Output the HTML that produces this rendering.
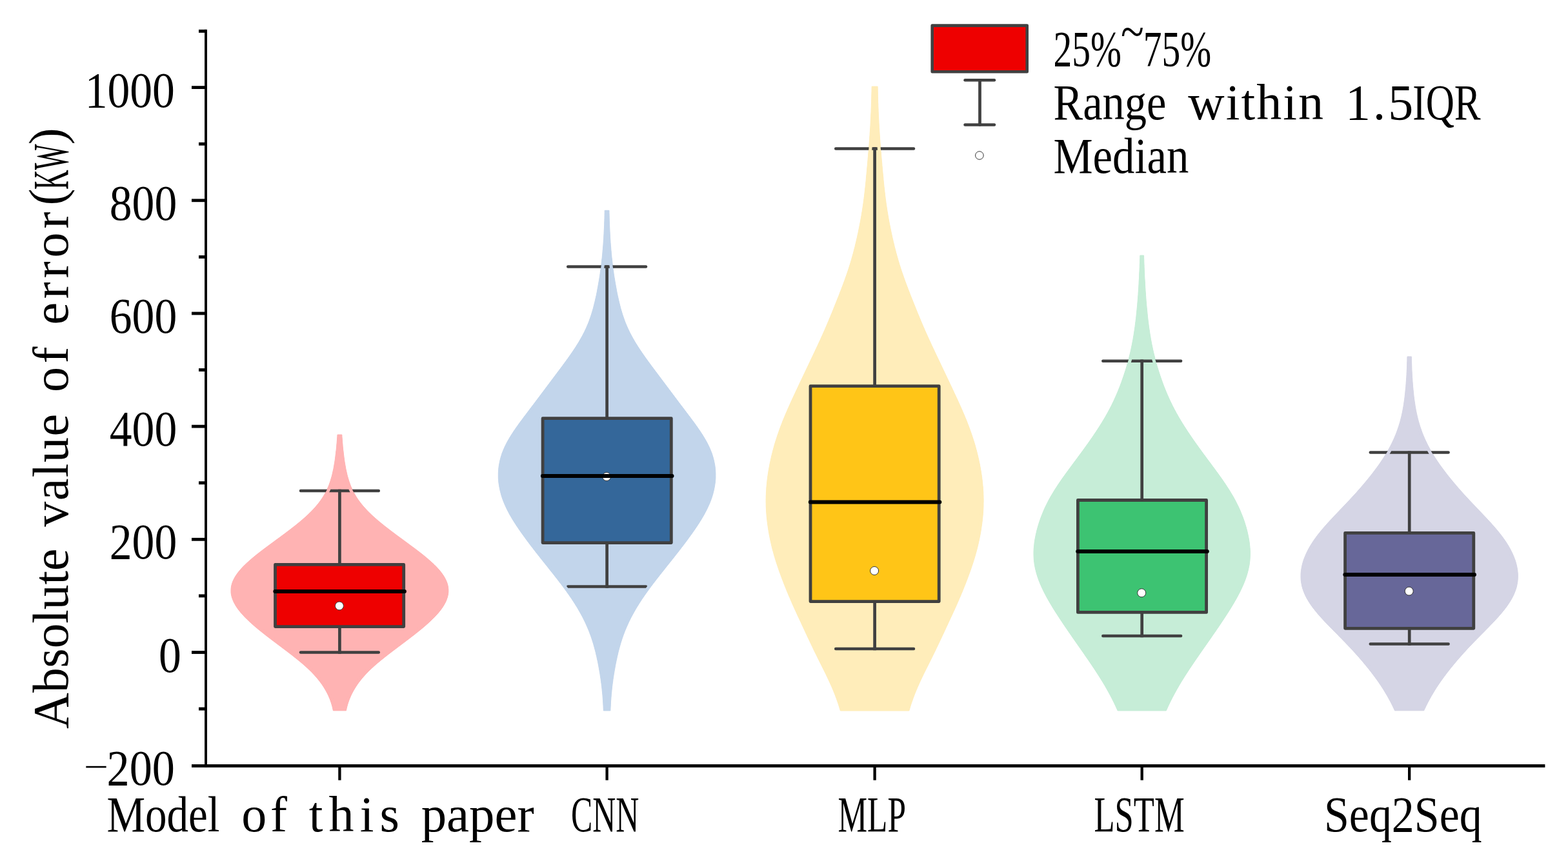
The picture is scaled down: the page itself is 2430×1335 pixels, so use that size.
<!DOCTYPE html>
<html lang="en"><head><meta charset="utf-8"><title>Absolute value of error (KW)</title>
<style>html,body{margin:0;padding:0;background:#fff;}body{width:2430px;height:1335px;overflow:hidden;}svg{display:block;}
text{font-family:"Liberation Serif","Noto Serif CJK SC",serif;font-size:78px;fill:#000;}</style></head><body>
<svg width="2430" height="1335" viewBox="0 0 2430 1335">
<rect width="2430" height="1335" fill="#fff"/>
<defs>
<clipPath id="vc0"><path d="M523.0 674.0 L522.9 676.0 L522.8 678.0 L522.6 680.0 L522.5 682.0 L522.3 684.0 L522.2 686.0 L522.0 688.0 L521.8 690.0 L521.7 692.0 L521.5 694.0 L521.3 696.0 L521.1 698.0 L520.8 700.0 L520.6 702.0 L520.4 704.0 L520.1 706.0 L519.9 708.0 L519.6 710.0 L519.4 712.0 L519.1 714.0 L518.8 716.0 L518.5 718.0 L518.1 720.0 L517.8 722.0 L517.4 724.0 L517.1 726.0 L516.7 728.0 L516.2 730.0 L515.8 732.0 L515.3 734.0 L514.9 736.0 L514.4 738.0 L513.8 740.0 L513.2 742.0 L512.6 744.0 L512.0 746.0 L511.3 748.0 L510.6 750.0 L509.9 752.0 L509.1 754.0 L508.2 756.0 L507.3 758.0 L506.4 760.0 L505.4 762.0 L504.4 764.0 L503.3 766.0 L502.1 768.0 L500.9 770.0 L499.6 772.0 L498.3 774.0 L496.9 776.0 L495.4 778.0 L493.9 780.0 L492.3 782.0 L490.6 784.0 L488.9 786.0 L487.1 788.0 L485.3 790.0 L483.4 792.0 L481.4 794.0 L479.4 796.0 L477.3 798.0 L475.2 800.0 L473.0 802.0 L470.7 804.0 L468.4 806.0 L466.1 808.0 L463.7 810.0 L461.2 812.0 L458.8 814.0 L456.3 816.0 L453.7 818.0 L451.1 820.0 L448.5 822.0 L445.9 824.0 L443.2 826.0 L440.6 828.0 L437.9 830.0 L435.2 832.0 L432.5 834.0 L429.7 836.0 L427.0 838.0 L424.3 840.0 L421.6 842.0 L418.9 844.0 L416.2 846.0 L413.5 848.0 L410.8 850.0 L408.1 852.0 L405.5 854.0 L402.9 856.0 L400.3 858.0 L397.8 860.0 L395.3 862.0 L392.9 864.0 L390.5 866.0 L388.2 868.0 L385.9 870.0 L383.7 872.0 L381.5 874.0 L379.4 876.0 L377.4 878.0 L375.5 880.0 L373.7 882.0 L371.9 884.0 L370.3 886.0 L368.7 888.0 L367.3 890.0 L365.9 892.0 L364.6 894.0 L363.5 896.0 L362.4 898.0 L361.5 900.0 L360.6 902.0 L359.9 904.0 L359.3 906.0 L358.8 908.0 L358.4 910.0 L358.2 912.0 L358.0 914.0 L358.0 916.0 L358.0 918.0 L358.2 920.0 L358.5 922.0 L358.9 924.0 L359.4 926.0 L360.1 928.0 L360.8 930.0 L361.6 932.0 L362.5 934.0 L363.6 936.0 L364.7 938.0 L365.9 940.0 L367.2 942.0 L368.6 944.0 L370.1 946.0 L371.7 948.0 L373.3 950.0 L375.1 952.0 L376.9 954.0 L378.7 956.0 L380.7 958.0 L382.7 960.0 L384.8 962.0 L386.9 964.0 L389.1 966.0 L391.3 968.0 L393.6 970.0 L395.9 972.0 L398.3 974.0 L400.7 976.0 L403.2 978.0 L405.7 980.0 L408.2 982.0 L410.7 984.0 L413.3 986.0 L415.9 988.0 L418.5 990.0 L421.1 992.0 L423.8 994.0 L426.4 996.0 L429.1 998.0 L431.7 1000.0 L434.4 1002.0 L437.0 1004.0 L439.7 1006.0 L442.3 1008.0 L445.0 1010.0 L447.6 1012.0 L450.2 1014.0 L452.8 1016.0 L455.3 1018.0 L457.8 1020.0 L460.3 1022.0 L462.8 1024.0 L465.2 1026.0 L467.6 1028.0 L469.9 1030.0 L472.2 1032.0 L474.4 1034.0 L476.6 1036.0 L478.7 1038.0 L480.8 1040.0 L482.8 1042.0 L484.7 1044.0 L486.6 1046.0 L488.4 1048.0 L490.2 1050.0 L491.9 1052.0 L493.5 1054.0 L495.1 1056.0 L496.6 1058.0 L498.1 1060.0 L499.5 1062.0 L500.8 1064.0 L502.1 1066.0 L503.3 1068.0 L504.5 1070.0 L505.6 1072.0 L506.7 1074.0 L507.7 1076.0 L508.7 1078.0 L509.6 1080.0 L510.4 1082.0 L511.3 1084.0 L512.0 1086.0 L512.7 1088.0 L513.4 1090.0 L514.0 1092.0 L514.6 1094.0 L515.1 1096.0 L515.6 1098.0 L516.0 1100.0 L516.4 1101.8 L536.4 1101.8 L536.8 1100.0 L537.2 1098.0 L537.7 1096.0 L538.2 1094.0 L538.8 1092.0 L539.4 1090.0 L540.1 1088.0 L540.8 1086.0 L541.5 1084.0 L542.4 1082.0 L543.2 1080.0 L544.1 1078.0 L545.1 1076.0 L546.1 1074.0 L547.2 1072.0 L548.3 1070.0 L549.5 1068.0 L550.7 1066.0 L552.0 1064.0 L553.3 1062.0 L554.7 1060.0 L556.2 1058.0 L557.7 1056.0 L559.3 1054.0 L560.9 1052.0 L562.6 1050.0 L564.4 1048.0 L566.2 1046.0 L568.1 1044.0 L570.0 1042.0 L572.0 1040.0 L574.1 1038.0 L576.2 1036.0 L578.4 1034.0 L580.6 1032.0 L582.9 1030.0 L585.2 1028.0 L587.6 1026.0 L590.0 1024.0 L592.5 1022.0 L595.0 1020.0 L597.5 1018.0 L600.0 1016.0 L602.6 1014.0 L605.2 1012.0 L607.8 1010.0 L610.5 1008.0 L613.1 1006.0 L615.8 1004.0 L618.4 1002.0 L621.1 1000.0 L623.7 998.0 L626.4 996.0 L629.0 994.0 L631.7 992.0 L634.3 990.0 L636.9 988.0 L639.5 986.0 L642.1 984.0 L644.6 982.0 L647.1 980.0 L649.6 978.0 L652.1 976.0 L654.5 974.0 L656.9 972.0 L659.2 970.0 L661.5 968.0 L663.7 966.0 L665.9 964.0 L668.0 962.0 L670.1 960.0 L672.1 958.0 L674.1 956.0 L675.9 954.0 L677.7 952.0 L679.5 950.0 L681.1 948.0 L682.7 946.0 L684.2 944.0 L685.6 942.0 L686.9 940.0 L688.1 938.0 L689.2 936.0 L690.3 934.0 L691.2 932.0 L692.0 930.0 L692.7 928.0 L693.4 926.0 L693.9 924.0 L694.3 922.0 L694.6 920.0 L694.8 918.0 L694.8 916.0 L694.8 914.0 L694.6 912.0 L694.4 910.0 L694.0 908.0 L693.5 906.0 L692.9 904.0 L692.2 902.0 L691.3 900.0 L690.4 898.0 L689.3 896.0 L688.2 894.0 L686.9 892.0 L685.5 890.0 L684.1 888.0 L682.5 886.0 L680.9 884.0 L679.1 882.0 L677.3 880.0 L675.4 878.0 L673.4 876.0 L671.3 874.0 L669.1 872.0 L666.9 870.0 L664.6 868.0 L662.3 866.0 L659.9 864.0 L657.5 862.0 L655.0 860.0 L652.5 858.0 L649.9 856.0 L647.3 854.0 L644.7 852.0 L642.0 850.0 L639.3 848.0 L636.6 846.0 L633.9 844.0 L631.2 842.0 L628.5 840.0 L625.8 838.0 L623.1 836.0 L620.3 834.0 L617.6 832.0 L614.9 830.0 L612.2 828.0 L609.6 826.0 L606.9 824.0 L604.3 822.0 L601.7 820.0 L599.1 818.0 L596.5 816.0 L594.0 814.0 L591.6 812.0 L589.1 810.0 L586.7 808.0 L584.4 806.0 L582.1 804.0 L579.8 802.0 L577.6 800.0 L575.5 798.0 L573.4 796.0 L571.4 794.0 L569.4 792.0 L567.5 790.0 L565.7 788.0 L563.9 786.0 L562.2 784.0 L560.5 782.0 L558.9 780.0 L557.4 778.0 L555.9 776.0 L554.5 774.0 L553.2 772.0 L551.9 770.0 L550.7 768.0 L549.5 766.0 L548.4 764.0 L547.4 762.0 L546.4 760.0 L545.5 758.0 L544.6 756.0 L543.7 754.0 L542.9 752.0 L542.2 750.0 L541.5 748.0 L540.8 746.0 L540.2 744.0 L539.6 742.0 L539.0 740.0 L538.4 738.0 L537.9 736.0 L537.5 734.0 L537.0 732.0 L536.6 730.0 L536.1 728.0 L535.7 726.0 L535.4 724.0 L535.0 722.0 L534.7 720.0 L534.3 718.0 L534.0 716.0 L533.7 714.0 L533.4 712.0 L533.2 710.0 L532.9 708.0 L532.7 706.0 L532.4 704.0 L532.2 702.0 L532.0 700.0 L531.7 698.0 L531.5 696.0 L531.3 694.0 L531.1 692.0 L531.0 690.0 L530.8 688.0 L530.6 686.0 L530.5 684.0 L530.3 682.0 L530.2 680.0 L530.0 678.0 L529.9 676.0 L529.8 674.0 Z"/></clipPath>
<clipPath id="vc1"><path d="M937.2 326.3 L937.2 328.3 L937.2 330.3 L937.1 332.3 L937.1 334.3 L937.0 336.3 L937.0 338.3 L936.9 340.3 L936.9 342.3 L936.8 344.3 L936.7 346.3 L936.7 348.3 L936.6 350.3 L936.5 352.3 L936.4 354.3 L936.3 356.3 L936.2 358.3 L936.1 360.3 L936.0 362.3 L935.9 364.3 L935.8 366.3 L935.7 368.3 L935.6 370.3 L935.4 372.3 L935.3 374.3 L935.2 376.3 L935.0 378.3 L934.9 380.3 L934.7 382.3 L934.5 384.3 L934.4 386.3 L934.2 388.3 L934.0 390.3 L933.9 392.3 L933.7 394.3 L933.5 396.3 L933.3 398.3 L933.1 400.3 L932.8 402.3 L932.6 404.3 L932.4 406.3 L932.2 408.3 L931.9 410.3 L931.7 412.3 L931.4 414.3 L931.2 416.3 L930.9 418.3 L930.6 420.3 L930.3 422.3 L930.1 424.3 L929.8 426.3 L929.5 428.3 L929.2 430.3 L928.8 432.3 L928.5 434.3 L928.2 436.3 L927.8 438.3 L927.5 440.3 L927.1 442.3 L926.8 444.3 L926.4 446.3 L926.0 448.3 L925.7 450.3 L925.3 452.3 L924.9 454.3 L924.5 456.3 L924.1 458.3 L923.6 460.3 L923.2 462.3 L922.7 464.3 L922.3 466.3 L921.8 468.3 L921.3 470.3 L920.8 472.3 L920.3 474.3 L919.8 476.3 L919.3 478.3 L918.7 480.3 L918.1 482.3 L917.5 484.3 L916.9 486.3 L916.3 488.3 L915.6 490.3 L914.9 492.3 L914.2 494.3 L913.5 496.3 L912.8 498.3 L912.0 500.3 L911.2 502.3 L910.3 504.3 L909.5 506.3 L908.6 508.3 L907.7 510.3 L906.7 512.3 L905.8 514.3 L904.8 516.3 L903.7 518.3 L902.7 520.3 L901.6 522.3 L900.5 524.3 L899.3 526.3 L898.2 528.3 L897.0 530.3 L895.8 532.3 L894.5 534.3 L893.3 536.3 L892.0 538.3 L890.7 540.3 L889.4 542.3 L888.0 544.3 L886.7 546.3 L885.3 548.3 L883.9 550.3 L882.5 552.3 L881.1 554.3 L879.7 556.3 L878.2 558.3 L876.8 560.3 L875.3 562.3 L873.8 564.3 L872.4 566.3 L870.9 568.3 L869.4 570.3 L867.9 572.3 L866.4 574.3 L864.9 576.3 L863.4 578.3 L861.9 580.3 L860.4 582.3 L858.9 584.3 L857.4 586.3 L855.9 588.3 L854.4 590.3 L852.9 592.3 L851.4 594.3 L849.9 596.3 L848.4 598.3 L846.9 600.3 L845.4 602.3 L843.9 604.3 L842.4 606.3 L840.9 608.3 L839.4 610.3 L837.9 612.3 L836.4 614.3 L834.9 616.3 L833.4 618.3 L831.9 620.3 L830.4 622.3 L828.9 624.3 L827.4 626.3 L825.9 628.3 L824.3 630.3 L822.8 632.3 L821.3 634.3 L819.8 636.3 L818.3 638.3 L816.8 640.3 L815.3 642.3 L813.8 644.3 L812.2 646.3 L810.8 648.3 L809.3 650.3 L807.8 652.3 L806.3 654.3 L804.8 656.3 L803.4 658.3 L802.0 660.3 L800.5 662.3 L799.2 664.3 L797.8 666.3 L796.4 668.3 L795.1 670.3 L793.8 672.3 L792.5 674.3 L791.3 676.3 L790.0 678.3 L788.9 680.3 L787.7 682.3 L786.6 684.3 L785.5 686.3 L784.5 688.3 L783.5 690.3 L782.5 692.3 L781.6 694.3 L780.7 696.3 L779.9 698.3 L779.1 700.3 L778.3 702.3 L777.6 704.3 L777.0 706.3 L776.4 708.3 L775.8 710.3 L775.3 712.3 L774.8 714.3 L774.4 716.3 L774.0 718.3 L773.6 720.3 L773.3 722.3 L773.0 724.3 L772.8 726.3 L772.6 728.3 L772.5 730.3 L772.4 732.3 L772.3 734.3 L772.3 736.3 L772.3 738.3 L772.3 740.3 L772.4 742.3 L772.6 744.3 L772.7 746.3 L772.9 748.3 L773.2 750.3 L773.5 752.3 L773.8 754.3 L774.2 756.3 L774.6 758.3 L775.0 760.3 L775.5 762.3 L776.0 764.3 L776.5 766.3 L777.1 768.3 L777.7 770.3 L778.4 772.3 L779.1 774.3 L779.8 776.3 L780.6 778.3 L781.4 780.3 L782.3 782.3 L783.2 784.3 L784.1 786.3 L785.0 788.3 L786.0 790.3 L787.0 792.3 L788.1 794.3 L789.1 796.3 L790.2 798.3 L791.4 800.3 L792.5 802.3 L793.7 804.3 L794.9 806.3 L796.2 808.3 L797.4 810.3 L798.7 812.3 L800.0 814.3 L801.3 816.3 L802.7 818.3 L804.0 820.3 L805.4 822.3 L806.8 824.3 L808.2 826.3 L809.6 828.3 L811.1 830.3 L812.5 832.3 L814.0 834.3 L815.4 836.3 L816.9 838.3 L818.4 840.3 L819.9 842.3 L821.4 844.3 L822.9 846.3 L824.5 848.3 L826.0 850.3 L827.5 852.3 L829.1 854.3 L830.6 856.3 L832.2 858.3 L833.8 860.3 L835.4 862.3 L836.9 864.3 L838.5 866.3 L840.1 868.3 L841.7 870.3 L843.3 872.3 L844.9 874.3 L846.5 876.3 L848.1 878.3 L849.7 880.3 L851.2 882.3 L852.8 884.3 L854.4 886.3 L856.0 888.3 L857.6 890.3 L859.2 892.3 L860.7 894.3 L862.3 896.3 L863.9 898.3 L865.4 900.3 L866.9 902.3 L868.5 904.3 L870.0 906.3 L871.5 908.3 L873.0 910.3 L874.5 912.3 L875.9 914.3 L877.4 916.3 L878.8 918.3 L880.2 920.3 L881.7 922.3 L883.0 924.3 L884.4 926.3 L885.8 928.3 L887.1 930.3 L888.4 932.3 L889.7 934.3 L891.0 936.3 L892.2 938.3 L893.5 940.3 L894.7 942.3 L895.9 944.3 L897.0 946.3 L898.2 948.3 L899.3 950.3 L900.4 952.3 L901.5 954.3 L902.6 956.3 L903.6 958.3 L904.6 960.3 L905.6 962.3 L906.6 964.3 L907.5 966.3 L908.4 968.3 L909.3 970.3 L910.2 972.3 L911.0 974.3 L911.9 976.3 L912.7 978.3 L913.5 980.3 L914.2 982.3 L915.0 984.3 L915.7 986.3 L916.4 988.3 L917.1 990.3 L917.7 992.3 L918.4 994.3 L919.0 996.3 L919.6 998.3 L920.2 1000.3 L920.7 1002.3 L921.3 1004.3 L921.8 1006.3 L922.4 1008.3 L922.9 1010.3 L923.4 1012.3 L923.8 1014.3 L924.3 1016.3 L924.8 1018.3 L925.2 1020.3 L925.6 1022.3 L926.1 1024.3 L926.5 1026.3 L926.9 1028.3 L927.3 1030.3 L927.7 1032.3 L928.0 1034.3 L928.4 1036.3 L928.7 1038.3 L929.1 1040.3 L929.4 1042.3 L929.8 1044.3 L930.1 1046.3 L930.4 1048.3 L930.7 1050.3 L931.0 1052.3 L931.3 1054.3 L931.5 1056.3 L931.8 1058.3 L932.1 1060.3 L932.3 1062.3 L932.6 1064.3 L932.8 1066.3 L933.0 1068.3 L933.2 1070.3 L933.4 1072.3 L933.6 1074.3 L933.8 1076.3 L934.0 1078.3 L934.1 1080.3 L934.3 1082.3 L934.4 1084.3 L934.6 1086.3 L934.7 1088.3 L934.8 1090.3 L934.9 1092.3 L935.0 1094.3 L935.1 1096.3 L935.2 1098.3 L935.3 1100.3 L935.3 1101.9 L945.9 1101.9 L945.9 1100.3 L946.0 1098.3 L946.1 1096.3 L946.2 1094.3 L946.3 1092.3 L946.4 1090.3 L946.5 1088.3 L946.6 1086.3 L946.8 1084.3 L946.9 1082.3 L947.1 1080.3 L947.2 1078.3 L947.4 1076.3 L947.6 1074.3 L947.8 1072.3 L948.0 1070.3 L948.2 1068.3 L948.4 1066.3 L948.6 1064.3 L948.9 1062.3 L949.1 1060.3 L949.4 1058.3 L949.7 1056.3 L949.9 1054.3 L950.2 1052.3 L950.5 1050.3 L950.8 1048.3 L951.1 1046.3 L951.4 1044.3 L951.8 1042.3 L952.1 1040.3 L952.5 1038.3 L952.8 1036.3 L953.2 1034.3 L953.5 1032.3 L953.9 1030.3 L954.3 1028.3 L954.7 1026.3 L955.1 1024.3 L955.6 1022.3 L956.0 1020.3 L956.4 1018.3 L956.9 1016.3 L957.4 1014.3 L957.8 1012.3 L958.3 1010.3 L958.8 1008.3 L959.4 1006.3 L959.9 1004.3 L960.5 1002.3 L961.0 1000.3 L961.6 998.3 L962.2 996.3 L962.8 994.3 L963.5 992.3 L964.1 990.3 L964.8 988.3 L965.5 986.3 L966.2 984.3 L967.0 982.3 L967.7 980.3 L968.5 978.3 L969.3 976.3 L970.2 974.3 L971.0 972.3 L971.9 970.3 L972.8 968.3 L973.7 966.3 L974.6 964.3 L975.6 962.3 L976.6 960.3 L977.6 958.3 L978.6 956.3 L979.7 954.3 L980.8 952.3 L981.9 950.3 L983.0 948.3 L984.2 946.3 L985.3 944.3 L986.5 942.3 L987.7 940.3 L989.0 938.3 L990.2 936.3 L991.5 934.3 L992.8 932.3 L994.1 930.3 L995.4 928.3 L996.8 926.3 L998.2 924.3 L999.5 922.3 L1001.0 920.3 L1002.4 918.3 L1003.8 916.3 L1005.3 914.3 L1006.7 912.3 L1008.2 910.3 L1009.7 908.3 L1011.2 906.3 L1012.7 904.3 L1014.3 902.3 L1015.8 900.3 L1017.3 898.3 L1018.9 896.3 L1020.5 894.3 L1022.0 892.3 L1023.6 890.3 L1025.2 888.3 L1026.8 886.3 L1028.4 884.3 L1030.0 882.3 L1031.5 880.3 L1033.1 878.3 L1034.7 876.3 L1036.3 874.3 L1037.9 872.3 L1039.5 870.3 L1041.1 868.3 L1042.7 866.3 L1044.3 864.3 L1045.8 862.3 L1047.4 860.3 L1049.0 858.3 L1050.6 856.3 L1052.1 854.3 L1053.7 852.3 L1055.2 850.3 L1056.7 848.3 L1058.3 846.3 L1059.8 844.3 L1061.3 842.3 L1062.8 840.3 L1064.3 838.3 L1065.8 836.3 L1067.2 834.3 L1068.7 832.3 L1070.1 830.3 L1071.6 828.3 L1073.0 826.3 L1074.4 824.3 L1075.8 822.3 L1077.2 820.3 L1078.5 818.3 L1079.9 816.3 L1081.2 814.3 L1082.5 812.3 L1083.8 810.3 L1085.0 808.3 L1086.3 806.3 L1087.5 804.3 L1088.7 802.3 L1089.8 800.3 L1091.0 798.3 L1092.1 796.3 L1093.1 794.3 L1094.2 792.3 L1095.2 790.3 L1096.2 788.3 L1097.1 786.3 L1098.0 784.3 L1098.9 782.3 L1099.8 780.3 L1100.6 778.3 L1101.4 776.3 L1102.1 774.3 L1102.8 772.3 L1103.5 770.3 L1104.1 768.3 L1104.7 766.3 L1105.2 764.3 L1105.7 762.3 L1106.2 760.3 L1106.6 758.3 L1107.0 756.3 L1107.4 754.3 L1107.7 752.3 L1108.0 750.3 L1108.3 748.3 L1108.5 746.3 L1108.6 744.3 L1108.8 742.3 L1108.9 740.3 L1108.9 738.3 L1108.9 736.3 L1108.9 734.3 L1108.8 732.3 L1108.7 730.3 L1108.6 728.3 L1108.4 726.3 L1108.2 724.3 L1107.9 722.3 L1107.6 720.3 L1107.2 718.3 L1106.8 716.3 L1106.4 714.3 L1105.9 712.3 L1105.4 710.3 L1104.8 708.3 L1104.2 706.3 L1103.6 704.3 L1102.9 702.3 L1102.1 700.3 L1101.3 698.3 L1100.5 696.3 L1099.6 694.3 L1098.7 692.3 L1097.7 690.3 L1096.7 688.3 L1095.7 686.3 L1094.6 684.3 L1093.5 682.3 L1092.3 680.3 L1091.2 678.3 L1089.9 676.3 L1088.7 674.3 L1087.4 672.3 L1086.1 670.3 L1084.8 668.3 L1083.4 666.3 L1082.0 664.3 L1080.7 662.3 L1079.2 660.3 L1077.8 658.3 L1076.4 656.3 L1074.9 654.3 L1073.4 652.3 L1071.9 650.3 L1070.4 648.3 L1069.0 646.3 L1067.4 644.3 L1065.9 642.3 L1064.4 640.3 L1062.9 638.3 L1061.4 636.3 L1059.9 634.3 L1058.4 632.3 L1056.9 630.3 L1055.3 628.3 L1053.8 626.3 L1052.3 624.3 L1050.8 622.3 L1049.3 620.3 L1047.8 618.3 L1046.3 616.3 L1044.8 614.3 L1043.3 612.3 L1041.8 610.3 L1040.3 608.3 L1038.8 606.3 L1037.3 604.3 L1035.8 602.3 L1034.3 600.3 L1032.8 598.3 L1031.3 596.3 L1029.8 594.3 L1028.3 592.3 L1026.8 590.3 L1025.3 588.3 L1023.8 586.3 L1022.3 584.3 L1020.8 582.3 L1019.3 580.3 L1017.8 578.3 L1016.3 576.3 L1014.8 574.3 L1013.3 572.3 L1011.8 570.3 L1010.3 568.3 L1008.8 566.3 L1007.4 564.3 L1005.9 562.3 L1004.4 560.3 L1003.0 558.3 L1001.5 556.3 L1000.1 554.3 L998.7 552.3 L997.3 550.3 L995.9 548.3 L994.5 546.3 L993.2 544.3 L991.8 542.3 L990.5 540.3 L989.2 538.3 L987.9 536.3 L986.7 534.3 L985.4 532.3 L984.2 530.3 L983.0 528.3 L981.9 526.3 L980.7 524.3 L979.6 522.3 L978.5 520.3 L977.5 518.3 L976.4 516.3 L975.4 514.3 L974.5 512.3 L973.5 510.3 L972.6 508.3 L971.7 506.3 L970.9 504.3 L970.0 502.3 L969.2 500.3 L968.4 498.3 L967.7 496.3 L967.0 494.3 L966.3 492.3 L965.6 490.3 L964.9 488.3 L964.3 486.3 L963.7 484.3 L963.1 482.3 L962.5 480.3 L961.9 478.3 L961.4 476.3 L960.9 474.3 L960.4 472.3 L959.9 470.3 L959.4 468.3 L958.9 466.3 L958.5 464.3 L958.0 462.3 L957.6 460.3 L957.1 458.3 L956.7 456.3 L956.3 454.3 L955.9 452.3 L955.5 450.3 L955.2 448.3 L954.8 446.3 L954.4 444.3 L954.1 442.3 L953.7 440.3 L953.4 438.3 L953.0 436.3 L952.7 434.3 L952.4 432.3 L952.0 430.3 L951.7 428.3 L951.4 426.3 L951.1 424.3 L950.9 422.3 L950.6 420.3 L950.3 418.3 L950.0 416.3 L949.8 414.3 L949.5 412.3 L949.3 410.3 L949.0 408.3 L948.8 406.3 L948.6 404.3 L948.4 402.3 L948.1 400.3 L947.9 398.3 L947.7 396.3 L947.5 394.3 L947.3 392.3 L947.2 390.3 L947.0 388.3 L946.8 386.3 L946.7 384.3 L946.5 382.3 L946.3 380.3 L946.2 378.3 L946.0 376.3 L945.9 374.3 L945.8 372.3 L945.6 370.3 L945.5 368.3 L945.4 366.3 L945.3 364.3 L945.2 362.3 L945.1 360.3 L945.0 358.3 L944.9 356.3 L944.8 354.3 L944.7 352.3 L944.6 350.3 L944.5 348.3 L944.5 346.3 L944.4 344.3 L944.3 342.3 L944.3 340.3 L944.2 338.3 L944.2 336.3 L944.1 334.3 L944.1 332.3 L944.0 330.3 L944.0 328.3 L944.0 326.3 Z"/></clipPath>
<clipPath id="vc2"><path d="M1351.1 134.1 L1351.1 136.1 L1351.0 138.1 L1351.0 140.1 L1351.0 142.1 L1350.9 144.1 L1350.9 146.1 L1350.8 148.1 L1350.8 150.1 L1350.7 152.1 L1350.7 154.1 L1350.6 156.1 L1350.6 158.1 L1350.5 160.1 L1350.4 162.1 L1350.4 164.1 L1350.3 166.1 L1350.2 168.1 L1350.1 170.1 L1350.1 172.1 L1350.0 174.1 L1349.9 176.1 L1349.8 178.1 L1349.7 180.1 L1349.6 182.1 L1349.5 184.1 L1349.4 186.1 L1349.3 188.1 L1349.2 190.1 L1349.1 192.1 L1349.0 194.1 L1348.9 196.1 L1348.8 198.1 L1348.6 200.1 L1348.5 202.1 L1348.4 204.1 L1348.2 206.1 L1348.1 208.1 L1348.0 210.1 L1347.8 212.1 L1347.7 214.1 L1347.6 216.1 L1347.4 218.1 L1347.3 220.1 L1347.1 222.1 L1347.0 224.1 L1346.8 226.1 L1346.6 228.1 L1346.5 230.1 L1346.3 232.1 L1346.1 234.1 L1346.0 236.1 L1345.8 238.1 L1345.6 240.1 L1345.5 242.1 L1345.3 244.1 L1345.1 246.1 L1345.0 248.1 L1344.8 250.1 L1344.6 252.1 L1344.4 254.1 L1344.3 256.1 L1344.1 258.1 L1343.9 260.1 L1343.7 262.1 L1343.6 264.1 L1343.4 266.1 L1343.2 268.1 L1343.0 270.1 L1342.8 272.1 L1342.6 274.1 L1342.4 276.1 L1342.3 278.1 L1342.1 280.1 L1341.9 282.1 L1341.7 284.1 L1341.5 286.1 L1341.3 288.1 L1341.1 290.1 L1340.8 292.1 L1340.6 294.1 L1340.4 296.1 L1340.2 298.1 L1339.9 300.1 L1339.7 302.1 L1339.5 304.1 L1339.2 306.1 L1339.0 308.1 L1338.7 310.1 L1338.4 312.1 L1338.2 314.1 L1337.9 316.1 L1337.6 318.1 L1337.3 320.1 L1337.0 322.1 L1336.7 324.1 L1336.4 326.1 L1336.1 328.1 L1335.7 330.1 L1335.4 332.1 L1335.1 334.1 L1334.7 336.1 L1334.4 338.1 L1334.0 340.1 L1333.7 342.1 L1333.3 344.1 L1332.9 346.1 L1332.5 348.1 L1332.1 350.1 L1331.7 352.1 L1331.3 354.1 L1330.9 356.1 L1330.5 358.1 L1330.1 360.1 L1329.7 362.1 L1329.2 364.1 L1328.8 366.1 L1328.4 368.1 L1327.9 370.1 L1327.4 372.1 L1327.0 374.1 L1326.5 376.1 L1326.0 378.1 L1325.5 380.1 L1325.1 382.1 L1324.6 384.1 L1324.0 386.1 L1323.5 388.1 L1323.0 390.1 L1322.5 392.1 L1321.9 394.1 L1321.4 396.1 L1320.8 398.1 L1320.2 400.1 L1319.7 402.1 L1319.1 404.1 L1318.5 406.1 L1317.9 408.1 L1317.3 410.1 L1316.6 412.1 L1316.0 414.1 L1315.4 416.1 L1314.7 418.1 L1314.1 420.1 L1313.4 422.1 L1312.7 424.1 L1312.0 426.1 L1311.3 428.1 L1310.6 430.1 L1309.9 432.1 L1309.2 434.1 L1308.5 436.1 L1307.7 438.1 L1307.0 440.1 L1306.2 442.1 L1305.5 444.1 L1304.7 446.1 L1304.0 448.1 L1303.2 450.1 L1302.4 452.1 L1301.6 454.1 L1300.9 456.1 L1300.1 458.1 L1299.3 460.1 L1298.5 462.1 L1297.7 464.1 L1296.9 466.1 L1296.1 468.1 L1295.3 470.1 L1294.5 472.1 L1293.7 474.1 L1292.9 476.1 L1292.1 478.1 L1291.3 480.1 L1290.5 482.1 L1289.7 484.1 L1288.9 486.1 L1288.0 488.1 L1287.2 490.1 L1286.4 492.1 L1285.5 494.1 L1284.7 496.1 L1283.9 498.1 L1283.0 500.1 L1282.2 502.1 L1281.3 504.1 L1280.5 506.1 L1279.6 508.1 L1278.7 510.1 L1277.9 512.1 L1277.0 514.1 L1276.1 516.1 L1275.2 518.1 L1274.3 520.1 L1273.4 522.1 L1272.5 524.1 L1271.6 526.1 L1270.7 528.1 L1269.7 530.1 L1268.8 532.1 L1267.9 534.1 L1267.0 536.1 L1266.0 538.1 L1265.1 540.1 L1264.1 542.1 L1263.2 544.1 L1262.3 546.1 L1261.3 548.1 L1260.4 550.1 L1259.4 552.1 L1258.5 554.1 L1257.5 556.1 L1256.6 558.1 L1255.6 560.1 L1254.7 562.1 L1253.7 564.1 L1252.8 566.1 L1251.8 568.1 L1250.9 570.1 L1249.9 572.1 L1249.0 574.1 L1248.0 576.1 L1247.1 578.1 L1246.1 580.1 L1245.2 582.1 L1244.2 584.1 L1243.3 586.1 L1242.3 588.1 L1241.4 590.1 L1240.4 592.1 L1239.5 594.1 L1238.5 596.1 L1237.6 598.1 L1236.7 600.1 L1235.7 602.1 L1234.8 604.1 L1233.8 606.1 L1232.9 608.1 L1232.0 610.1 L1231.0 612.1 L1230.1 614.1 L1229.2 616.1 L1228.2 618.1 L1227.3 620.1 L1226.4 622.1 L1225.5 624.1 L1224.6 626.1 L1223.7 628.1 L1222.8 630.1 L1221.9 632.1 L1221.0 634.1 L1220.1 636.1 L1219.3 638.1 L1218.4 640.1 L1217.6 642.1 L1216.7 644.1 L1215.9 646.1 L1215.1 648.1 L1214.2 650.1 L1213.4 652.1 L1212.6 654.1 L1211.9 656.1 L1211.1 658.1 L1210.3 660.1 L1209.6 662.1 L1208.8 664.1 L1208.1 666.1 L1207.4 668.1 L1206.7 670.1 L1206.0 672.1 L1205.3 674.1 L1204.6 676.1 L1204.0 678.1 L1203.3 680.1 L1202.7 682.1 L1202.0 684.1 L1201.4 686.1 L1200.8 688.1 L1200.2 690.1 L1199.7 692.1 L1199.1 694.1 L1198.6 696.1 L1198.0 698.1 L1197.5 700.1 L1197.0 702.1 L1196.5 704.1 L1196.0 706.1 L1195.5 708.1 L1195.1 710.1 L1194.6 712.1 L1194.2 714.1 L1193.8 716.1 L1193.3 718.1 L1192.9 720.1 L1192.6 722.1 L1192.2 724.1 L1191.8 726.1 L1191.5 728.1 L1191.1 730.1 L1190.8 732.1 L1190.5 734.1 L1190.2 736.1 L1189.9 738.1 L1189.6 740.1 L1189.4 742.1 L1189.1 744.1 L1188.9 746.1 L1188.7 748.1 L1188.5 750.1 L1188.3 752.1 L1188.1 754.1 L1187.9 756.1 L1187.8 758.1 L1187.7 760.1 L1187.5 762.1 L1187.4 764.1 L1187.4 766.1 L1187.3 768.1 L1187.2 770.1 L1187.2 772.1 L1187.1 774.1 L1187.1 776.1 L1187.1 778.1 L1187.2 780.1 L1187.2 782.1 L1187.2 784.1 L1187.3 786.1 L1187.4 788.1 L1187.5 790.1 L1187.6 792.1 L1187.7 794.1 L1187.9 796.1 L1188.0 798.1 L1188.2 800.1 L1188.4 802.1 L1188.6 804.1 L1188.8 806.1 L1189.0 808.1 L1189.3 810.1 L1189.5 812.1 L1189.8 814.1 L1190.1 816.1 L1190.4 818.1 L1190.7 820.1 L1191.0 822.1 L1191.3 824.1 L1191.7 826.1 L1192.0 828.1 L1192.4 830.1 L1192.8 832.1 L1193.2 834.1 L1193.6 836.1 L1194.0 838.1 L1194.5 840.1 L1194.9 842.1 L1195.4 844.1 L1195.8 846.1 L1196.3 848.1 L1196.8 850.1 L1197.3 852.1 L1197.9 854.1 L1198.4 856.1 L1199.0 858.1 L1199.5 860.1 L1200.1 862.1 L1200.7 864.1 L1201.3 866.1 L1201.9 868.1 L1202.5 870.1 L1203.2 872.1 L1203.8 874.1 L1204.5 876.1 L1205.2 878.1 L1205.8 880.1 L1206.5 882.1 L1207.2 884.1 L1207.9 886.1 L1208.6 888.1 L1209.4 890.1 L1210.1 892.1 L1210.8 894.1 L1211.6 896.1 L1212.3 898.1 L1213.1 900.1 L1213.9 902.1 L1214.6 904.1 L1215.4 906.1 L1216.2 908.1 L1217.0 910.1 L1217.8 912.1 L1218.6 914.1 L1219.4 916.1 L1220.2 918.1 L1221.1 920.1 L1221.9 922.1 L1222.7 924.1 L1223.6 926.1 L1224.5 928.1 L1225.3 930.1 L1226.2 932.1 L1227.1 934.1 L1227.9 936.1 L1228.8 938.1 L1229.7 940.1 L1230.6 942.1 L1231.5 944.1 L1232.4 946.1 L1233.4 948.1 L1234.3 950.1 L1235.2 952.1 L1236.1 954.1 L1237.0 956.1 L1238.0 958.1 L1238.9 960.1 L1239.8 962.1 L1240.8 964.1 L1241.7 966.1 L1242.6 968.1 L1243.5 970.1 L1244.5 972.1 L1245.4 974.1 L1246.3 976.1 L1247.3 978.1 L1248.2 980.1 L1249.1 982.1 L1250.1 984.1 L1251.0 986.1 L1251.9 988.1 L1252.9 990.1 L1253.8 992.1 L1254.8 994.1 L1255.7 996.1 L1256.7 998.1 L1257.6 1000.1 L1258.6 1002.1 L1259.5 1004.1 L1260.5 1006.1 L1261.4 1008.1 L1262.4 1010.1 L1263.4 1012.1 L1264.4 1014.1 L1265.4 1016.1 L1266.3 1018.1 L1267.3 1020.1 L1268.3 1022.1 L1269.3 1024.1 L1270.3 1026.1 L1271.3 1028.1 L1272.3 1030.1 L1273.3 1032.1 L1274.3 1034.1 L1275.3 1036.1 L1276.3 1038.1 L1277.3 1040.1 L1278.3 1042.1 L1279.3 1044.1 L1280.3 1046.1 L1281.2 1048.1 L1282.2 1050.1 L1283.1 1052.1 L1284.1 1054.1 L1285.0 1056.1 L1285.9 1058.1 L1286.8 1060.1 L1287.7 1062.1 L1288.6 1064.1 L1289.5 1066.1 L1290.3 1068.1 L1291.2 1070.1 L1292.0 1072.1 L1292.8 1074.1 L1293.6 1076.1 L1294.4 1078.1 L1295.1 1080.1 L1295.9 1082.1 L1296.6 1084.1 L1297.3 1086.1 L1298.0 1088.1 L1298.7 1090.1 L1299.4 1092.1 L1300.0 1094.1 L1300.6 1096.1 L1301.2 1098.1 L1301.8 1100.1 L1302.4 1102.0 L1408.8 1102.0 L1409.4 1100.1 L1410.0 1098.1 L1410.6 1096.1 L1411.2 1094.1 L1411.8 1092.1 L1412.5 1090.1 L1413.2 1088.1 L1413.9 1086.1 L1414.6 1084.1 L1415.3 1082.1 L1416.1 1080.1 L1416.8 1078.1 L1417.6 1076.1 L1418.4 1074.1 L1419.2 1072.1 L1420.0 1070.1 L1420.9 1068.1 L1421.7 1066.1 L1422.6 1064.1 L1423.5 1062.1 L1424.4 1060.1 L1425.3 1058.1 L1426.2 1056.1 L1427.1 1054.1 L1428.1 1052.1 L1429.0 1050.1 L1430.0 1048.1 L1430.9 1046.1 L1431.9 1044.1 L1432.9 1042.1 L1433.9 1040.1 L1434.9 1038.1 L1435.9 1036.1 L1436.9 1034.1 L1437.9 1032.1 L1438.9 1030.1 L1439.9 1028.1 L1440.9 1026.1 L1441.9 1024.1 L1442.9 1022.1 L1443.9 1020.1 L1444.9 1018.1 L1445.8 1016.1 L1446.8 1014.1 L1447.8 1012.1 L1448.8 1010.1 L1449.8 1008.1 L1450.7 1006.1 L1451.7 1004.1 L1452.6 1002.1 L1453.6 1000.1 L1454.5 998.1 L1455.5 996.1 L1456.4 994.1 L1457.4 992.1 L1458.3 990.1 L1459.3 988.1 L1460.2 986.1 L1461.1 984.1 L1462.1 982.1 L1463.0 980.1 L1463.9 978.1 L1464.9 976.1 L1465.8 974.1 L1466.7 972.1 L1467.7 970.1 L1468.6 968.1 L1469.5 966.1 L1470.4 964.1 L1471.4 962.1 L1472.3 960.1 L1473.2 958.1 L1474.2 956.1 L1475.1 954.1 L1476.0 952.1 L1476.9 950.1 L1477.8 948.1 L1478.8 946.1 L1479.7 944.1 L1480.6 942.1 L1481.5 940.1 L1482.4 938.1 L1483.3 936.1 L1484.1 934.1 L1485.0 932.1 L1485.9 930.1 L1486.7 928.1 L1487.6 926.1 L1488.5 924.1 L1489.3 922.1 L1490.1 920.1 L1491.0 918.1 L1491.8 916.1 L1492.6 914.1 L1493.4 912.1 L1494.2 910.1 L1495.0 908.1 L1495.8 906.1 L1496.6 904.1 L1497.3 902.1 L1498.1 900.1 L1498.9 898.1 L1499.6 896.1 L1500.4 894.1 L1501.1 892.1 L1501.8 890.1 L1502.6 888.1 L1503.3 886.1 L1504.0 884.1 L1504.7 882.1 L1505.4 880.1 L1506.0 878.1 L1506.7 876.1 L1507.4 874.1 L1508.0 872.1 L1508.7 870.1 L1509.3 868.1 L1509.9 866.1 L1510.5 864.1 L1511.1 862.1 L1511.7 860.1 L1512.2 858.1 L1512.8 856.1 L1513.3 854.1 L1513.9 852.1 L1514.4 850.1 L1514.9 848.1 L1515.4 846.1 L1515.8 844.1 L1516.3 842.1 L1516.7 840.1 L1517.2 838.1 L1517.6 836.1 L1518.0 834.1 L1518.4 832.1 L1518.8 830.1 L1519.2 828.1 L1519.5 826.1 L1519.9 824.1 L1520.2 822.1 L1520.5 820.1 L1520.8 818.1 L1521.1 816.1 L1521.4 814.1 L1521.7 812.1 L1521.9 810.1 L1522.2 808.1 L1522.4 806.1 L1522.6 804.1 L1522.8 802.1 L1523.0 800.1 L1523.2 798.1 L1523.3 796.1 L1523.5 794.1 L1523.6 792.1 L1523.7 790.1 L1523.8 788.1 L1523.9 786.1 L1524.0 784.1 L1524.0 782.1 L1524.0 780.1 L1524.1 778.1 L1524.1 776.1 L1524.1 774.1 L1524.0 772.1 L1524.0 770.1 L1523.9 768.1 L1523.8 766.1 L1523.8 764.1 L1523.7 762.1 L1523.5 760.1 L1523.4 758.1 L1523.3 756.1 L1523.1 754.1 L1522.9 752.1 L1522.7 750.1 L1522.5 748.1 L1522.3 746.1 L1522.1 744.1 L1521.8 742.1 L1521.6 740.1 L1521.3 738.1 L1521.0 736.1 L1520.7 734.1 L1520.4 732.1 L1520.1 730.1 L1519.7 728.1 L1519.4 726.1 L1519.0 724.1 L1518.6 722.1 L1518.3 720.1 L1517.9 718.1 L1517.4 716.1 L1517.0 714.1 L1516.6 712.1 L1516.1 710.1 L1515.7 708.1 L1515.2 706.1 L1514.7 704.1 L1514.2 702.1 L1513.7 700.1 L1513.2 698.1 L1512.6 696.1 L1512.1 694.1 L1511.5 692.1 L1511.0 690.1 L1510.4 688.1 L1509.8 686.1 L1509.2 684.1 L1508.5 682.1 L1507.9 680.1 L1507.2 678.1 L1506.6 676.1 L1505.9 674.1 L1505.2 672.1 L1504.5 670.1 L1503.8 668.1 L1503.1 666.1 L1502.4 664.1 L1501.6 662.1 L1500.9 660.1 L1500.1 658.1 L1499.3 656.1 L1498.6 654.1 L1497.8 652.1 L1497.0 650.1 L1496.1 648.1 L1495.3 646.1 L1494.5 644.1 L1493.6 642.1 L1492.8 640.1 L1491.9 638.1 L1491.1 636.1 L1490.2 634.1 L1489.3 632.1 L1488.4 630.1 L1487.5 628.1 L1486.6 626.1 L1485.7 624.1 L1484.8 622.1 L1483.9 620.1 L1483.0 618.1 L1482.0 616.1 L1481.1 614.1 L1480.2 612.1 L1479.2 610.1 L1478.3 608.1 L1477.4 606.1 L1476.4 604.1 L1475.5 602.1 L1474.5 600.1 L1473.6 598.1 L1472.7 596.1 L1471.7 594.1 L1470.8 592.1 L1469.8 590.1 L1468.9 588.1 L1467.9 586.1 L1467.0 584.1 L1466.0 582.1 L1465.1 580.1 L1464.1 578.1 L1463.2 576.1 L1462.2 574.1 L1461.3 572.1 L1460.3 570.1 L1459.4 568.1 L1458.4 566.1 L1457.5 564.1 L1456.5 562.1 L1455.6 560.1 L1454.6 558.1 L1453.7 556.1 L1452.7 554.1 L1451.8 552.1 L1450.8 550.1 L1449.9 548.1 L1448.9 546.1 L1448.0 544.1 L1447.1 542.1 L1446.1 540.1 L1445.2 538.1 L1444.2 536.1 L1443.3 534.1 L1442.4 532.1 L1441.5 530.1 L1440.5 528.1 L1439.6 526.1 L1438.7 524.1 L1437.8 522.1 L1436.9 520.1 L1436.0 518.1 L1435.1 516.1 L1434.2 514.1 L1433.3 512.1 L1432.5 510.1 L1431.6 508.1 L1430.7 506.1 L1429.9 504.1 L1429.0 502.1 L1428.2 500.1 L1427.3 498.1 L1426.5 496.1 L1425.7 494.1 L1424.8 492.1 L1424.0 490.1 L1423.2 488.1 L1422.3 486.1 L1421.5 484.1 L1420.7 482.1 L1419.9 480.1 L1419.1 478.1 L1418.3 476.1 L1417.5 474.1 L1416.7 472.1 L1415.9 470.1 L1415.1 468.1 L1414.3 466.1 L1413.5 464.1 L1412.7 462.1 L1411.9 460.1 L1411.1 458.1 L1410.3 456.1 L1409.6 454.1 L1408.8 452.1 L1408.0 450.1 L1407.2 448.1 L1406.5 446.1 L1405.7 444.1 L1405.0 442.1 L1404.2 440.1 L1403.5 438.1 L1402.7 436.1 L1402.0 434.1 L1401.3 432.1 L1400.6 430.1 L1399.9 428.1 L1399.2 426.1 L1398.5 424.1 L1397.8 422.1 L1397.1 420.1 L1396.5 418.1 L1395.8 416.1 L1395.2 414.1 L1394.6 412.1 L1393.9 410.1 L1393.3 408.1 L1392.7 406.1 L1392.1 404.1 L1391.5 402.1 L1391.0 400.1 L1390.4 398.1 L1389.8 396.1 L1389.3 394.1 L1388.7 392.1 L1388.2 390.1 L1387.7 388.1 L1387.2 386.1 L1386.6 384.1 L1386.1 382.1 L1385.7 380.1 L1385.2 378.1 L1384.7 376.1 L1384.2 374.1 L1383.8 372.1 L1383.3 370.1 L1382.8 368.1 L1382.4 366.1 L1382.0 364.1 L1381.5 362.1 L1381.1 360.1 L1380.7 358.1 L1380.3 356.1 L1379.9 354.1 L1379.5 352.1 L1379.1 350.1 L1378.7 348.1 L1378.3 346.1 L1377.9 344.1 L1377.5 342.1 L1377.2 340.1 L1376.8 338.1 L1376.5 336.1 L1376.1 334.1 L1375.8 332.1 L1375.5 330.1 L1375.1 328.1 L1374.8 326.1 L1374.5 324.1 L1374.2 322.1 L1373.9 320.1 L1373.6 318.1 L1373.3 316.1 L1373.0 314.1 L1372.8 312.1 L1372.5 310.1 L1372.2 308.1 L1372.0 306.1 L1371.7 304.1 L1371.5 302.1 L1371.3 300.1 L1371.0 298.1 L1370.8 296.1 L1370.6 294.1 L1370.4 292.1 L1370.1 290.1 L1369.9 288.1 L1369.7 286.1 L1369.5 284.1 L1369.3 282.1 L1369.1 280.1 L1368.9 278.1 L1368.8 276.1 L1368.6 274.1 L1368.4 272.1 L1368.2 270.1 L1368.0 268.1 L1367.8 266.1 L1367.6 264.1 L1367.5 262.1 L1367.3 260.1 L1367.1 258.1 L1366.9 256.1 L1366.8 254.1 L1366.6 252.1 L1366.4 250.1 L1366.2 248.1 L1366.1 246.1 L1365.9 244.1 L1365.7 242.1 L1365.6 240.1 L1365.4 238.1 L1365.2 236.1 L1365.1 234.1 L1364.9 232.1 L1364.7 230.1 L1364.6 228.1 L1364.4 226.1 L1364.2 224.1 L1364.1 222.1 L1363.9 220.1 L1363.8 218.1 L1363.6 216.1 L1363.5 214.1 L1363.4 212.1 L1363.2 210.1 L1363.1 208.1 L1363.0 206.1 L1362.8 204.1 L1362.7 202.1 L1362.6 200.1 L1362.4 198.1 L1362.3 196.1 L1362.2 194.1 L1362.1 192.1 L1362.0 190.1 L1361.9 188.1 L1361.8 186.1 L1361.7 184.1 L1361.6 182.1 L1361.5 180.1 L1361.4 178.1 L1361.3 176.1 L1361.2 174.1 L1361.1 172.1 L1361.1 170.1 L1361.0 168.1 L1360.9 166.1 L1360.8 164.1 L1360.8 162.1 L1360.7 160.1 L1360.6 158.1 L1360.6 156.1 L1360.5 154.1 L1360.5 152.1 L1360.4 150.1 L1360.4 148.1 L1360.3 146.1 L1360.3 144.1 L1360.2 142.1 L1360.2 140.1 L1360.2 138.1 L1360.1 136.1 L1360.1 134.1 Z"/></clipPath>
<clipPath id="vc3"><path d="M1766.9 396.0 L1766.8 398.0 L1766.8 400.0 L1766.7 402.0 L1766.6 404.0 L1766.6 406.0 L1766.5 408.0 L1766.4 410.0 L1766.3 412.0 L1766.3 414.0 L1766.2 416.0 L1766.1 418.0 L1766.0 420.0 L1765.9 422.0 L1765.8 424.0 L1765.7 426.0 L1765.7 428.0 L1765.6 430.0 L1765.5 432.0 L1765.3 434.0 L1765.2 436.0 L1765.1 438.0 L1765.0 440.0 L1764.9 442.0 L1764.8 444.0 L1764.7 446.0 L1764.5 448.0 L1764.4 450.0 L1764.3 452.0 L1764.1 454.0 L1764.0 456.0 L1763.9 458.0 L1763.7 460.0 L1763.6 462.0 L1763.4 464.0 L1763.3 466.0 L1763.1 468.0 L1762.9 470.0 L1762.8 472.0 L1762.6 474.0 L1762.4 476.0 L1762.2 478.0 L1762.0 480.0 L1761.8 482.0 L1761.6 484.0 L1761.4 486.0 L1761.2 488.0 L1761.0 490.0 L1760.8 492.0 L1760.6 494.0 L1760.3 496.0 L1760.1 498.0 L1759.8 500.0 L1759.6 502.0 L1759.3 504.0 L1759.1 506.0 L1758.8 508.0 L1758.5 510.0 L1758.2 512.0 L1757.9 514.0 L1757.6 516.0 L1757.3 518.0 L1757.0 520.0 L1756.6 522.0 L1756.3 524.0 L1756.0 526.0 L1755.6 528.0 L1755.2 530.0 L1754.8 532.0 L1754.5 534.0 L1754.0 536.0 L1753.6 538.0 L1753.2 540.0 L1752.8 542.0 L1752.3 544.0 L1751.9 546.0 L1751.4 548.0 L1750.9 550.0 L1750.4 552.0 L1749.9 554.0 L1749.4 556.0 L1748.9 558.0 L1748.3 560.0 L1747.8 562.0 L1747.2 564.0 L1746.7 566.0 L1746.1 568.0 L1745.5 570.0 L1744.9 572.0 L1744.3 574.0 L1743.6 576.0 L1743.0 578.0 L1742.3 580.0 L1741.7 582.0 L1741.0 584.0 L1740.3 586.0 L1739.6 588.0 L1738.9 590.0 L1738.2 592.0 L1737.5 594.0 L1736.7 596.0 L1736.0 598.0 L1735.2 600.0 L1734.4 602.0 L1733.6 604.0 L1732.8 606.0 L1732.0 608.0 L1731.1 610.0 L1730.3 612.0 L1729.4 614.0 L1728.5 616.0 L1727.6 618.0 L1726.7 620.0 L1725.8 622.0 L1724.8 624.0 L1723.8 626.0 L1722.9 628.0 L1721.9 630.0 L1720.8 632.0 L1719.8 634.0 L1718.7 636.0 L1717.6 638.0 L1716.6 640.0 L1715.4 642.0 L1714.3 644.0 L1713.2 646.0 L1712.0 648.0 L1710.8 650.0 L1709.6 652.0 L1708.4 654.0 L1707.2 656.0 L1705.9 658.0 L1704.7 660.0 L1703.4 662.0 L1702.1 664.0 L1700.8 666.0 L1699.5 668.0 L1698.2 670.0 L1696.8 672.0 L1695.5 674.0 L1694.1 676.0 L1692.8 678.0 L1691.4 680.0 L1690.0 682.0 L1688.6 684.0 L1687.2 686.0 L1685.8 688.0 L1684.3 690.0 L1682.9 692.0 L1681.5 694.0 L1680.0 696.0 L1678.6 698.0 L1677.1 700.0 L1675.7 702.0 L1674.2 704.0 L1672.7 706.0 L1671.2 708.0 L1669.8 710.0 L1668.3 712.0 L1666.8 714.0 L1665.3 716.0 L1663.8 718.0 L1662.3 720.0 L1660.9 722.0 L1659.4 724.0 L1657.9 726.0 L1656.4 728.0 L1655.0 730.0 L1653.5 732.0 L1652.0 734.0 L1650.6 736.0 L1649.2 738.0 L1647.7 740.0 L1646.3 742.0 L1644.9 744.0 L1643.5 746.0 L1642.2 748.0 L1640.8 750.0 L1639.5 752.0 L1638.2 754.0 L1636.9 756.0 L1635.6 758.0 L1634.3 760.0 L1633.1 762.0 L1631.9 764.0 L1630.7 766.0 L1629.5 768.0 L1628.3 770.0 L1627.2 772.0 L1626.1 774.0 L1625.0 776.0 L1624.0 778.0 L1623.0 780.0 L1622.0 782.0 L1621.0 784.0 L1620.0 786.0 L1619.1 788.0 L1618.2 790.0 L1617.3 792.0 L1616.5 794.0 L1615.7 796.0 L1614.9 798.0 L1614.1 800.0 L1613.3 802.0 L1612.6 804.0 L1611.9 806.0 L1611.2 808.0 L1610.5 810.0 L1609.9 812.0 L1609.3 814.0 L1608.7 816.0 L1608.1 818.0 L1607.6 820.0 L1607.0 822.0 L1606.5 824.0 L1606.1 826.0 L1605.6 828.0 L1605.2 830.0 L1604.8 832.0 L1604.4 834.0 L1604.0 836.0 L1603.7 838.0 L1603.4 840.0 L1603.1 842.0 L1602.9 844.0 L1602.7 846.0 L1602.5 848.0 L1602.3 850.0 L1602.2 852.0 L1602.1 854.0 L1602.0 856.0 L1602.0 858.0 L1602.0 860.0 L1602.1 862.0 L1602.2 864.0 L1602.3 866.0 L1602.4 868.0 L1602.6 870.0 L1602.9 872.0 L1603.1 874.0 L1603.4 876.0 L1603.8 878.0 L1604.2 880.0 L1604.6 882.0 L1605.1 884.0 L1605.6 886.0 L1606.1 888.0 L1606.7 890.0 L1607.3 892.0 L1607.9 894.0 L1608.6 896.0 L1609.3 898.0 L1610.0 900.0 L1610.8 902.0 L1611.6 904.0 L1612.4 906.0 L1613.3 908.0 L1614.2 910.0 L1615.1 912.0 L1616.1 914.0 L1617.0 916.0 L1618.0 918.0 L1619.0 920.0 L1620.1 922.0 L1621.1 924.0 L1622.2 926.0 L1623.3 928.0 L1624.4 930.0 L1625.6 932.0 L1626.7 934.0 L1627.9 936.0 L1629.1 938.0 L1630.3 940.0 L1631.5 942.0 L1632.7 944.0 L1634.0 946.0 L1635.2 948.0 L1636.5 950.0 L1637.8 952.0 L1639.1 954.0 L1640.4 956.0 L1641.7 958.0 L1643.0 960.0 L1644.3 962.0 L1645.7 964.0 L1647.0 966.0 L1648.3 968.0 L1649.7 970.0 L1651.0 972.0 L1652.4 974.0 L1653.8 976.0 L1655.1 978.0 L1656.5 980.0 L1657.9 982.0 L1659.3 984.0 L1660.7 986.0 L1662.0 988.0 L1663.4 990.0 L1664.8 992.0 L1666.2 994.0 L1667.6 996.0 L1669.0 998.0 L1670.4 1000.0 L1671.8 1002.0 L1673.2 1004.0 L1674.6 1006.0 L1676.0 1008.0 L1677.4 1010.0 L1678.8 1012.0 L1680.2 1014.0 L1681.5 1016.0 L1682.9 1018.0 L1684.3 1020.0 L1685.7 1022.0 L1687.1 1024.0 L1688.4 1026.0 L1689.8 1028.0 L1691.1 1030.0 L1692.5 1032.0 L1693.8 1034.0 L1695.2 1036.0 L1696.5 1038.0 L1697.8 1040.0 L1699.1 1042.0 L1700.4 1044.0 L1701.7 1046.0 L1703.0 1048.0 L1704.2 1050.0 L1705.5 1052.0 L1706.7 1054.0 L1708.0 1056.0 L1709.2 1058.0 L1710.4 1060.0 L1711.6 1062.0 L1712.8 1064.0 L1713.9 1066.0 L1715.1 1068.0 L1716.2 1070.0 L1717.3 1072.0 L1718.4 1074.0 L1719.5 1076.0 L1720.6 1078.0 L1721.6 1080.0 L1722.7 1082.0 L1723.7 1084.0 L1724.7 1086.0 L1725.7 1088.0 L1726.7 1090.0 L1727.6 1092.0 L1728.6 1094.0 L1729.5 1096.0 L1730.4 1098.0 L1731.3 1100.0 L1732.2 1101.9 L1807.2 1101.9 L1808.1 1100.0 L1809.0 1098.0 L1809.9 1096.0 L1810.8 1094.0 L1811.8 1092.0 L1812.7 1090.0 L1813.7 1088.0 L1814.7 1086.0 L1815.7 1084.0 L1816.7 1082.0 L1817.8 1080.0 L1818.8 1078.0 L1819.9 1076.0 L1821.0 1074.0 L1822.1 1072.0 L1823.2 1070.0 L1824.3 1068.0 L1825.5 1066.0 L1826.6 1064.0 L1827.8 1062.0 L1829.0 1060.0 L1830.2 1058.0 L1831.4 1056.0 L1832.7 1054.0 L1833.9 1052.0 L1835.2 1050.0 L1836.4 1048.0 L1837.7 1046.0 L1839.0 1044.0 L1840.3 1042.0 L1841.6 1040.0 L1842.9 1038.0 L1844.2 1036.0 L1845.6 1034.0 L1846.9 1032.0 L1848.3 1030.0 L1849.6 1028.0 L1851.0 1026.0 L1852.3 1024.0 L1853.7 1022.0 L1855.1 1020.0 L1856.5 1018.0 L1857.9 1016.0 L1859.2 1014.0 L1860.6 1012.0 L1862.0 1010.0 L1863.4 1008.0 L1864.8 1006.0 L1866.2 1004.0 L1867.6 1002.0 L1869.0 1000.0 L1870.4 998.0 L1871.8 996.0 L1873.2 994.0 L1874.6 992.0 L1876.0 990.0 L1877.4 988.0 L1878.7 986.0 L1880.1 984.0 L1881.5 982.0 L1882.9 980.0 L1884.3 978.0 L1885.6 976.0 L1887.0 974.0 L1888.4 972.0 L1889.7 970.0 L1891.1 968.0 L1892.4 966.0 L1893.7 964.0 L1895.1 962.0 L1896.4 960.0 L1897.7 958.0 L1899.0 956.0 L1900.3 954.0 L1901.6 952.0 L1902.9 950.0 L1904.2 948.0 L1905.4 946.0 L1906.7 944.0 L1907.9 942.0 L1909.1 940.0 L1910.3 938.0 L1911.5 936.0 L1912.7 934.0 L1913.8 932.0 L1915.0 930.0 L1916.1 928.0 L1917.2 926.0 L1918.3 924.0 L1919.3 922.0 L1920.4 920.0 L1921.4 918.0 L1922.4 916.0 L1923.3 914.0 L1924.3 912.0 L1925.2 910.0 L1926.1 908.0 L1927.0 906.0 L1927.8 904.0 L1928.6 902.0 L1929.4 900.0 L1930.1 898.0 L1930.8 896.0 L1931.5 894.0 L1932.1 892.0 L1932.7 890.0 L1933.3 888.0 L1933.8 886.0 L1934.3 884.0 L1934.8 882.0 L1935.2 880.0 L1935.6 878.0 L1936.0 876.0 L1936.3 874.0 L1936.5 872.0 L1936.8 870.0 L1937.0 868.0 L1937.1 866.0 L1937.2 864.0 L1937.3 862.0 L1937.4 860.0 L1937.4 858.0 L1937.4 856.0 L1937.3 854.0 L1937.2 852.0 L1937.1 850.0 L1936.9 848.0 L1936.7 846.0 L1936.5 844.0 L1936.3 842.0 L1936.0 840.0 L1935.7 838.0 L1935.4 836.0 L1935.0 834.0 L1934.6 832.0 L1934.2 830.0 L1933.8 828.0 L1933.3 826.0 L1932.9 824.0 L1932.4 822.0 L1931.8 820.0 L1931.3 818.0 L1930.7 816.0 L1930.1 814.0 L1929.5 812.0 L1928.9 810.0 L1928.2 808.0 L1927.5 806.0 L1926.8 804.0 L1926.1 802.0 L1925.3 800.0 L1924.5 798.0 L1923.7 796.0 L1922.9 794.0 L1922.1 792.0 L1921.2 790.0 L1920.3 788.0 L1919.4 786.0 L1918.4 784.0 L1917.4 782.0 L1916.4 780.0 L1915.4 778.0 L1914.4 776.0 L1913.3 774.0 L1912.2 772.0 L1911.1 770.0 L1909.9 768.0 L1908.7 766.0 L1907.5 764.0 L1906.3 762.0 L1905.1 760.0 L1903.8 758.0 L1902.5 756.0 L1901.2 754.0 L1899.9 752.0 L1898.6 750.0 L1897.2 748.0 L1895.9 746.0 L1894.5 744.0 L1893.1 742.0 L1891.7 740.0 L1890.2 738.0 L1888.8 736.0 L1887.4 734.0 L1885.9 732.0 L1884.4 730.0 L1883.0 728.0 L1881.5 726.0 L1880.0 724.0 L1878.5 722.0 L1877.1 720.0 L1875.6 718.0 L1874.1 716.0 L1872.6 714.0 L1871.1 712.0 L1869.6 710.0 L1868.2 708.0 L1866.7 706.0 L1865.2 704.0 L1863.7 702.0 L1862.3 700.0 L1860.8 698.0 L1859.4 696.0 L1857.9 694.0 L1856.5 692.0 L1855.1 690.0 L1853.6 688.0 L1852.2 686.0 L1850.8 684.0 L1849.4 682.0 L1848.0 680.0 L1846.6 678.0 L1845.3 676.0 L1843.9 674.0 L1842.6 672.0 L1841.2 670.0 L1839.9 668.0 L1838.6 666.0 L1837.3 664.0 L1836.0 662.0 L1834.7 660.0 L1833.5 658.0 L1832.2 656.0 L1831.0 654.0 L1829.8 652.0 L1828.6 650.0 L1827.4 648.0 L1826.2 646.0 L1825.1 644.0 L1824.0 642.0 L1822.8 640.0 L1821.8 638.0 L1820.7 636.0 L1819.6 634.0 L1818.6 632.0 L1817.5 630.0 L1816.5 628.0 L1815.6 626.0 L1814.6 624.0 L1813.6 622.0 L1812.7 620.0 L1811.8 618.0 L1810.9 616.0 L1810.0 614.0 L1809.1 612.0 L1808.3 610.0 L1807.4 608.0 L1806.6 606.0 L1805.8 604.0 L1805.0 602.0 L1804.2 600.0 L1803.4 598.0 L1802.7 596.0 L1801.9 594.0 L1801.2 592.0 L1800.5 590.0 L1799.8 588.0 L1799.1 586.0 L1798.4 584.0 L1797.7 582.0 L1797.1 580.0 L1796.4 578.0 L1795.8 576.0 L1795.1 574.0 L1794.5 572.0 L1793.9 570.0 L1793.3 568.0 L1792.7 566.0 L1792.2 564.0 L1791.6 562.0 L1791.1 560.0 L1790.5 558.0 L1790.0 556.0 L1789.5 554.0 L1789.0 552.0 L1788.5 550.0 L1788.0 548.0 L1787.5 546.0 L1787.1 544.0 L1786.6 542.0 L1786.2 540.0 L1785.8 538.0 L1785.4 536.0 L1784.9 534.0 L1784.6 532.0 L1784.2 530.0 L1783.8 528.0 L1783.4 526.0 L1783.1 524.0 L1782.8 522.0 L1782.4 520.0 L1782.1 518.0 L1781.8 516.0 L1781.5 514.0 L1781.2 512.0 L1780.9 510.0 L1780.6 508.0 L1780.3 506.0 L1780.1 504.0 L1779.8 502.0 L1779.6 500.0 L1779.3 498.0 L1779.1 496.0 L1778.8 494.0 L1778.6 492.0 L1778.4 490.0 L1778.2 488.0 L1778.0 486.0 L1777.8 484.0 L1777.6 482.0 L1777.4 480.0 L1777.2 478.0 L1777.0 476.0 L1776.8 474.0 L1776.6 472.0 L1776.5 470.0 L1776.3 468.0 L1776.1 466.0 L1776.0 464.0 L1775.8 462.0 L1775.7 460.0 L1775.5 458.0 L1775.4 456.0 L1775.3 454.0 L1775.1 452.0 L1775.0 450.0 L1774.9 448.0 L1774.7 446.0 L1774.6 444.0 L1774.5 442.0 L1774.4 440.0 L1774.3 438.0 L1774.2 436.0 L1774.1 434.0 L1773.9 432.0 L1773.8 430.0 L1773.7 428.0 L1773.7 426.0 L1773.6 424.0 L1773.5 422.0 L1773.4 420.0 L1773.3 418.0 L1773.2 416.0 L1773.1 414.0 L1773.1 412.0 L1773.0 410.0 L1772.9 408.0 L1772.8 406.0 L1772.8 404.0 L1772.7 402.0 L1772.6 400.0 L1772.6 398.0 L1772.5 396.0 Z"/></clipPath>
<clipPath id="vc4"><path d="M2181.0 552.9 L2180.9 554.9 L2180.9 556.9 L2180.9 558.9 L2180.8 560.9 L2180.7 562.9 L2180.7 564.9 L2180.6 566.9 L2180.5 568.9 L2180.5 570.9 L2180.4 572.9 L2180.3 574.9 L2180.2 576.9 L2180.1 578.9 L2180.0 580.9 L2179.9 582.9 L2179.8 584.9 L2179.6 586.9 L2179.5 588.9 L2179.4 590.9 L2179.2 592.9 L2179.1 594.9 L2178.9 596.9 L2178.8 598.9 L2178.6 600.9 L2178.4 602.9 L2178.2 604.9 L2178.0 606.9 L2177.8 608.9 L2177.6 610.9 L2177.4 612.9 L2177.2 614.9 L2176.9 616.9 L2176.7 618.9 L2176.4 620.9 L2176.1 622.9 L2175.8 624.9 L2175.5 626.9 L2175.2 628.9 L2174.9 630.9 L2174.5 632.9 L2174.2 634.9 L2173.8 636.9 L2173.4 638.9 L2173.0 640.9 L2172.5 642.9 L2172.1 644.9 L2171.6 646.9 L2171.1 648.9 L2170.6 650.9 L2170.1 652.9 L2169.5 654.9 L2168.9 656.9 L2168.3 658.9 L2167.7 660.9 L2167.0 662.9 L2166.3 664.9 L2165.6 666.9 L2164.9 668.9 L2164.2 670.9 L2163.4 672.9 L2162.6 674.9 L2161.7 676.9 L2160.9 678.9 L2160.0 680.9 L2159.1 682.9 L2158.1 684.9 L2157.2 686.9 L2156.2 688.9 L2155.2 690.9 L2154.1 692.9 L2153.0 694.9 L2151.9 696.9 L2150.8 698.9 L2149.7 700.9 L2148.5 702.9 L2147.3 704.9 L2146.0 706.9 L2144.8 708.9 L2143.5 710.9 L2142.2 712.9 L2140.8 714.9 L2139.5 716.9 L2138.1 718.9 L2136.7 720.9 L2135.3 722.9 L2133.8 724.9 L2132.3 726.9 L2130.8 728.9 L2129.3 730.9 L2127.8 732.9 L2126.3 734.9 L2124.7 736.9 L2123.1 738.9 L2121.5 740.9 L2119.9 742.9 L2118.2 744.9 L2116.6 746.9 L2114.9 748.9 L2113.2 750.9 L2111.5 752.9 L2109.8 754.9 L2108.1 756.9 L2106.3 758.9 L2104.5 760.9 L2102.8 762.9 L2101.0 764.9 L2099.2 766.9 L2097.3 768.9 L2095.5 770.9 L2093.6 772.9 L2091.8 774.9 L2089.9 776.9 L2088.0 778.9 L2086.1 780.9 L2084.2 782.9 L2082.3 784.9 L2080.4 786.9 L2078.5 788.9 L2076.6 790.9 L2074.7 792.9 L2072.8 794.9 L2070.9 796.9 L2069.0 798.9 L2067.1 800.9 L2065.2 802.9 L2063.4 804.9 L2061.5 806.9 L2059.7 808.9 L2057.8 810.9 L2056.1 812.9 L2054.3 814.9 L2052.5 816.9 L2050.8 818.9 L2049.1 820.9 L2047.4 822.9 L2045.8 824.9 L2044.2 826.9 L2042.6 828.9 L2041.1 830.9 L2039.6 832.9 L2038.2 834.9 L2036.7 836.9 L2035.4 838.9 L2034.0 840.9 L2032.8 842.9 L2031.5 844.9 L2030.3 846.9 L2029.2 848.9 L2028.0 850.9 L2027.0 852.9 L2026.0 854.9 L2025.0 856.9 L2024.1 858.9 L2023.2 860.9 L2022.4 862.9 L2021.6 864.9 L2020.8 866.9 L2020.1 868.9 L2019.5 870.9 L2018.9 872.9 L2018.4 874.9 L2017.9 876.9 L2017.5 878.9 L2017.1 880.9 L2016.8 882.9 L2016.5 884.9 L2016.3 886.9 L2016.1 888.9 L2016.0 890.9 L2016.0 892.9 L2016.0 894.9 L2016.1 896.9 L2016.2 898.9 L2016.4 900.9 L2016.7 902.9 L2017.0 904.9 L2017.4 906.9 L2017.8 908.9 L2018.3 910.9 L2018.9 912.9 L2019.6 914.9 L2020.3 916.9 L2021.1 918.9 L2021.9 920.9 L2022.8 922.9 L2023.8 924.9 L2024.8 926.9 L2025.9 928.9 L2027.1 930.9 L2028.3 932.9 L2029.6 934.9 L2030.9 936.9 L2032.3 938.9 L2033.7 940.9 L2035.2 942.9 L2036.8 944.9 L2038.3 946.9 L2040.0 948.9 L2041.6 950.9 L2043.3 952.9 L2045.1 954.9 L2046.8 956.9 L2048.7 958.9 L2050.5 960.9 L2052.3 962.9 L2054.2 964.9 L2056.1 966.9 L2058.1 968.9 L2060.0 970.9 L2061.9 972.9 L2063.9 974.9 L2065.9 976.9 L2067.8 978.9 L2069.8 980.9 L2071.8 982.9 L2073.8 984.9 L2075.7 986.9 L2077.7 988.9 L2079.7 990.9 L2081.6 992.9 L2083.6 994.9 L2085.5 996.9 L2087.4 998.9 L2089.3 1000.9 L2091.2 1002.9 L2093.1 1004.9 L2095.0 1006.9 L2096.8 1008.9 L2098.6 1010.9 L2100.5 1012.9 L2102.2 1014.9 L2104.0 1016.9 L2105.8 1018.9 L2107.5 1020.9 L2109.3 1022.9 L2111.0 1024.9 L2112.7 1026.9 L2114.3 1028.9 L2116.0 1030.9 L2117.6 1032.9 L2119.3 1034.9 L2120.9 1036.9 L2122.5 1038.9 L2124.0 1040.9 L2125.6 1042.9 L2127.1 1044.9 L2128.6 1046.9 L2130.1 1048.9 L2131.6 1050.9 L2133.0 1052.9 L2134.5 1054.9 L2135.9 1056.9 L2137.3 1058.9 L2138.6 1060.9 L2140.0 1062.9 L2141.3 1064.9 L2142.6 1066.9 L2143.9 1068.9 L2145.1 1070.9 L2146.3 1072.9 L2147.5 1074.9 L2148.7 1076.9 L2149.9 1078.9 L2151.0 1080.9 L2152.1 1082.9 L2153.2 1084.9 L2154.3 1086.9 L2155.4 1088.9 L2156.4 1090.9 L2157.4 1092.9 L2158.4 1094.9 L2159.3 1096.9 L2160.3 1098.9 L2161.2 1100.9 L2161.6 1101.8 L2206.7 1101.8 L2207.1 1100.9 L2208.0 1098.9 L2209.0 1096.9 L2209.9 1094.9 L2210.9 1092.9 L2211.9 1090.9 L2212.9 1088.9 L2214.0 1086.9 L2215.1 1084.9 L2216.2 1082.9 L2217.3 1080.9 L2218.4 1078.9 L2219.6 1076.9 L2220.8 1074.9 L2222.0 1072.9 L2223.2 1070.9 L2224.4 1068.9 L2225.7 1066.9 L2227.0 1064.9 L2228.3 1062.9 L2229.7 1060.9 L2231.0 1058.9 L2232.4 1056.9 L2233.8 1054.9 L2235.3 1052.9 L2236.7 1050.9 L2238.2 1048.9 L2239.7 1046.9 L2241.2 1044.9 L2242.7 1042.9 L2244.3 1040.9 L2245.8 1038.9 L2247.4 1036.9 L2249.0 1034.9 L2250.7 1032.9 L2252.3 1030.9 L2254.0 1028.9 L2255.6 1026.9 L2257.3 1024.9 L2259.0 1022.9 L2260.8 1020.9 L2262.5 1018.9 L2264.3 1016.9 L2266.1 1014.9 L2267.8 1012.9 L2269.7 1010.9 L2271.5 1008.9 L2273.3 1006.9 L2275.2 1004.9 L2277.1 1002.9 L2279.0 1000.9 L2280.9 998.9 L2282.8 996.9 L2284.7 994.9 L2286.7 992.9 L2288.6 990.9 L2290.6 988.9 L2292.6 986.9 L2294.5 984.9 L2296.5 982.9 L2298.5 980.9 L2300.5 978.9 L2302.4 976.9 L2304.4 974.9 L2306.4 972.9 L2308.3 970.9 L2310.2 968.9 L2312.2 966.9 L2314.1 964.9 L2316.0 962.9 L2317.8 960.9 L2319.6 958.9 L2321.5 956.9 L2323.2 954.9 L2325.0 952.9 L2326.7 950.9 L2328.3 948.9 L2330.0 946.9 L2331.5 944.9 L2333.1 942.9 L2334.6 940.9 L2336.0 938.9 L2337.4 936.9 L2338.7 934.9 L2340.0 932.9 L2341.2 930.9 L2342.4 928.9 L2343.5 926.9 L2344.5 924.9 L2345.5 922.9 L2346.4 920.9 L2347.2 918.9 L2348.0 916.9 L2348.7 914.9 L2349.4 912.9 L2350.0 910.9 L2350.5 908.9 L2350.9 906.9 L2351.3 904.9 L2351.6 902.9 L2351.9 900.9 L2352.1 898.9 L2352.2 896.9 L2352.3 894.9 L2352.3 892.9 L2352.3 890.9 L2352.2 888.9 L2352.0 886.9 L2351.8 884.9 L2351.5 882.9 L2351.2 880.9 L2350.8 878.9 L2350.4 876.9 L2349.9 874.9 L2349.4 872.9 L2348.8 870.9 L2348.2 868.9 L2347.5 866.9 L2346.7 864.9 L2345.9 862.9 L2345.1 860.9 L2344.2 858.9 L2343.3 856.9 L2342.3 854.9 L2341.3 852.9 L2340.3 850.9 L2339.1 848.9 L2338.0 846.9 L2336.8 844.9 L2335.5 842.9 L2334.3 840.9 L2332.9 838.9 L2331.6 836.9 L2330.1 834.9 L2328.7 832.9 L2327.2 830.9 L2325.7 828.9 L2324.1 826.9 L2322.5 824.9 L2320.9 822.9 L2319.2 820.9 L2317.5 818.9 L2315.8 816.9 L2314.0 814.9 L2312.2 812.9 L2310.5 810.9 L2308.6 808.9 L2306.8 806.9 L2304.9 804.9 L2303.1 802.9 L2301.2 800.9 L2299.3 798.9 L2297.4 796.9 L2295.5 794.9 L2293.6 792.9 L2291.7 790.9 L2289.8 788.9 L2287.9 786.9 L2286.0 784.9 L2284.1 782.9 L2282.2 780.9 L2280.3 778.9 L2278.4 776.9 L2276.5 774.9 L2274.7 772.9 L2272.8 770.9 L2271.0 768.9 L2269.1 766.9 L2267.3 764.9 L2265.5 762.9 L2263.8 760.9 L2262.0 758.9 L2260.2 756.9 L2258.5 754.9 L2256.8 752.9 L2255.1 750.9 L2253.4 748.9 L2251.7 746.9 L2250.1 744.9 L2248.4 742.9 L2246.8 740.9 L2245.2 738.9 L2243.6 736.9 L2242.0 734.9 L2240.5 732.9 L2239.0 730.9 L2237.5 728.9 L2236.0 726.9 L2234.5 724.9 L2233.0 722.9 L2231.6 720.9 L2230.2 718.9 L2228.8 716.9 L2227.5 714.9 L2226.1 712.9 L2224.8 710.9 L2223.5 708.9 L2222.3 706.9 L2221.0 704.9 L2219.8 702.9 L2218.6 700.9 L2217.5 698.9 L2216.4 696.9 L2215.3 694.9 L2214.2 692.9 L2213.1 690.9 L2212.1 688.9 L2211.1 686.9 L2210.2 684.9 L2209.2 682.9 L2208.3 680.9 L2207.4 678.9 L2206.6 676.9 L2205.7 674.9 L2204.9 672.9 L2204.1 670.9 L2203.4 668.9 L2202.7 666.9 L2202.0 664.9 L2201.3 662.9 L2200.6 660.9 L2200.0 658.9 L2199.4 656.9 L2198.8 654.9 L2198.2 652.9 L2197.7 650.9 L2197.2 648.9 L2196.7 646.9 L2196.2 644.9 L2195.8 642.9 L2195.3 640.9 L2194.9 638.9 L2194.5 636.9 L2194.1 634.9 L2193.8 632.9 L2193.4 630.9 L2193.1 628.9 L2192.8 626.9 L2192.5 624.9 L2192.2 622.9 L2191.9 620.9 L2191.6 618.9 L2191.4 616.9 L2191.1 614.9 L2190.9 612.9 L2190.7 610.9 L2190.5 608.9 L2190.3 606.9 L2190.1 604.9 L2189.9 602.9 L2189.7 600.9 L2189.5 598.9 L2189.4 596.9 L2189.2 594.9 L2189.1 592.9 L2188.9 590.9 L2188.8 588.9 L2188.7 586.9 L2188.5 584.9 L2188.4 582.9 L2188.3 580.9 L2188.2 578.9 L2188.1 576.9 L2188.0 574.9 L2187.9 572.9 L2187.8 570.9 L2187.8 568.9 L2187.7 566.9 L2187.6 564.9 L2187.6 562.9 L2187.5 560.9 L2187.4 558.9 L2187.4 556.9 L2187.4 554.9 L2187.3 552.9 Z"/></clipPath>
</defs>
<g>
<path d="M523.0 674.0 L522.9 676.0 L522.8 678.0 L522.6 680.0 L522.5 682.0 L522.3 684.0 L522.2 686.0 L522.0 688.0 L521.8 690.0 L521.7 692.0 L521.5 694.0 L521.3 696.0 L521.1 698.0 L520.8 700.0 L520.6 702.0 L520.4 704.0 L520.1 706.0 L519.9 708.0 L519.6 710.0 L519.4 712.0 L519.1 714.0 L518.8 716.0 L518.5 718.0 L518.1 720.0 L517.8 722.0 L517.4 724.0 L517.1 726.0 L516.7 728.0 L516.2 730.0 L515.8 732.0 L515.3 734.0 L514.9 736.0 L514.4 738.0 L513.8 740.0 L513.2 742.0 L512.6 744.0 L512.0 746.0 L511.3 748.0 L510.6 750.0 L509.9 752.0 L509.1 754.0 L508.2 756.0 L507.3 758.0 L506.4 760.0 L505.4 762.0 L504.4 764.0 L503.3 766.0 L502.1 768.0 L500.9 770.0 L499.6 772.0 L498.3 774.0 L496.9 776.0 L495.4 778.0 L493.9 780.0 L492.3 782.0 L490.6 784.0 L488.9 786.0 L487.1 788.0 L485.3 790.0 L483.4 792.0 L481.4 794.0 L479.4 796.0 L477.3 798.0 L475.2 800.0 L473.0 802.0 L470.7 804.0 L468.4 806.0 L466.1 808.0 L463.7 810.0 L461.2 812.0 L458.8 814.0 L456.3 816.0 L453.7 818.0 L451.1 820.0 L448.5 822.0 L445.9 824.0 L443.2 826.0 L440.6 828.0 L437.9 830.0 L435.2 832.0 L432.5 834.0 L429.7 836.0 L427.0 838.0 L424.3 840.0 L421.6 842.0 L418.9 844.0 L416.2 846.0 L413.5 848.0 L410.8 850.0 L408.1 852.0 L405.5 854.0 L402.9 856.0 L400.3 858.0 L397.8 860.0 L395.3 862.0 L392.9 864.0 L390.5 866.0 L388.2 868.0 L385.9 870.0 L383.7 872.0 L381.5 874.0 L379.4 876.0 L377.4 878.0 L375.5 880.0 L373.7 882.0 L371.9 884.0 L370.3 886.0 L368.7 888.0 L367.3 890.0 L365.9 892.0 L364.6 894.0 L363.5 896.0 L362.4 898.0 L361.5 900.0 L360.6 902.0 L359.9 904.0 L359.3 906.0 L358.8 908.0 L358.4 910.0 L358.2 912.0 L358.0 914.0 L358.0 916.0 L358.0 918.0 L358.2 920.0 L358.5 922.0 L358.9 924.0 L359.4 926.0 L360.1 928.0 L360.8 930.0 L361.6 932.0 L362.5 934.0 L363.6 936.0 L364.7 938.0 L365.9 940.0 L367.2 942.0 L368.6 944.0 L370.1 946.0 L371.7 948.0 L373.3 950.0 L375.1 952.0 L376.9 954.0 L378.7 956.0 L380.7 958.0 L382.7 960.0 L384.8 962.0 L386.9 964.0 L389.1 966.0 L391.3 968.0 L393.6 970.0 L395.9 972.0 L398.3 974.0 L400.7 976.0 L403.2 978.0 L405.7 980.0 L408.2 982.0 L410.7 984.0 L413.3 986.0 L415.9 988.0 L418.5 990.0 L421.1 992.0 L423.8 994.0 L426.4 996.0 L429.1 998.0 L431.7 1000.0 L434.4 1002.0 L437.0 1004.0 L439.7 1006.0 L442.3 1008.0 L445.0 1010.0 L447.6 1012.0 L450.2 1014.0 L452.8 1016.0 L455.3 1018.0 L457.8 1020.0 L460.3 1022.0 L462.8 1024.0 L465.2 1026.0 L467.6 1028.0 L469.9 1030.0 L472.2 1032.0 L474.4 1034.0 L476.6 1036.0 L478.7 1038.0 L480.8 1040.0 L482.8 1042.0 L484.7 1044.0 L486.6 1046.0 L488.4 1048.0 L490.2 1050.0 L491.9 1052.0 L493.5 1054.0 L495.1 1056.0 L496.6 1058.0 L498.1 1060.0 L499.5 1062.0 L500.8 1064.0 L502.1 1066.0 L503.3 1068.0 L504.5 1070.0 L505.6 1072.0 L506.7 1074.0 L507.7 1076.0 L508.7 1078.0 L509.6 1080.0 L510.4 1082.0 L511.3 1084.0 L512.0 1086.0 L512.7 1088.0 L513.4 1090.0 L514.0 1092.0 L514.6 1094.0 L515.1 1096.0 L515.6 1098.0 L516.0 1100.0 L516.4 1101.8 L536.4 1101.8 L536.8 1100.0 L537.2 1098.0 L537.7 1096.0 L538.2 1094.0 L538.8 1092.0 L539.4 1090.0 L540.1 1088.0 L540.8 1086.0 L541.5 1084.0 L542.4 1082.0 L543.2 1080.0 L544.1 1078.0 L545.1 1076.0 L546.1 1074.0 L547.2 1072.0 L548.3 1070.0 L549.5 1068.0 L550.7 1066.0 L552.0 1064.0 L553.3 1062.0 L554.7 1060.0 L556.2 1058.0 L557.7 1056.0 L559.3 1054.0 L560.9 1052.0 L562.6 1050.0 L564.4 1048.0 L566.2 1046.0 L568.1 1044.0 L570.0 1042.0 L572.0 1040.0 L574.1 1038.0 L576.2 1036.0 L578.4 1034.0 L580.6 1032.0 L582.9 1030.0 L585.2 1028.0 L587.6 1026.0 L590.0 1024.0 L592.5 1022.0 L595.0 1020.0 L597.5 1018.0 L600.0 1016.0 L602.6 1014.0 L605.2 1012.0 L607.8 1010.0 L610.5 1008.0 L613.1 1006.0 L615.8 1004.0 L618.4 1002.0 L621.1 1000.0 L623.7 998.0 L626.4 996.0 L629.0 994.0 L631.7 992.0 L634.3 990.0 L636.9 988.0 L639.5 986.0 L642.1 984.0 L644.6 982.0 L647.1 980.0 L649.6 978.0 L652.1 976.0 L654.5 974.0 L656.9 972.0 L659.2 970.0 L661.5 968.0 L663.7 966.0 L665.9 964.0 L668.0 962.0 L670.1 960.0 L672.1 958.0 L674.1 956.0 L675.9 954.0 L677.7 952.0 L679.5 950.0 L681.1 948.0 L682.7 946.0 L684.2 944.0 L685.6 942.0 L686.9 940.0 L688.1 938.0 L689.2 936.0 L690.3 934.0 L691.2 932.0 L692.0 930.0 L692.7 928.0 L693.4 926.0 L693.9 924.0 L694.3 922.0 L694.6 920.0 L694.8 918.0 L694.8 916.0 L694.8 914.0 L694.6 912.0 L694.4 910.0 L694.0 908.0 L693.5 906.0 L692.9 904.0 L692.2 902.0 L691.3 900.0 L690.4 898.0 L689.3 896.0 L688.2 894.0 L686.9 892.0 L685.5 890.0 L684.1 888.0 L682.5 886.0 L680.9 884.0 L679.1 882.0 L677.3 880.0 L675.4 878.0 L673.4 876.0 L671.3 874.0 L669.1 872.0 L666.9 870.0 L664.6 868.0 L662.3 866.0 L659.9 864.0 L657.5 862.0 L655.0 860.0 L652.5 858.0 L649.9 856.0 L647.3 854.0 L644.7 852.0 L642.0 850.0 L639.3 848.0 L636.6 846.0 L633.9 844.0 L631.2 842.0 L628.5 840.0 L625.8 838.0 L623.1 836.0 L620.3 834.0 L617.6 832.0 L614.9 830.0 L612.2 828.0 L609.6 826.0 L606.9 824.0 L604.3 822.0 L601.7 820.0 L599.1 818.0 L596.5 816.0 L594.0 814.0 L591.6 812.0 L589.1 810.0 L586.7 808.0 L584.4 806.0 L582.1 804.0 L579.8 802.0 L577.6 800.0 L575.5 798.0 L573.4 796.0 L571.4 794.0 L569.4 792.0 L567.5 790.0 L565.7 788.0 L563.9 786.0 L562.2 784.0 L560.5 782.0 L558.9 780.0 L557.4 778.0 L555.9 776.0 L554.5 774.0 L553.2 772.0 L551.9 770.0 L550.7 768.0 L549.5 766.0 L548.4 764.0 L547.4 762.0 L546.4 760.0 L545.5 758.0 L544.6 756.0 L543.7 754.0 L542.9 752.0 L542.2 750.0 L541.5 748.0 L540.8 746.0 L540.2 744.0 L539.6 742.0 L539.0 740.0 L538.4 738.0 L537.9 736.0 L537.5 734.0 L537.0 732.0 L536.6 730.0 L536.1 728.0 L535.7 726.0 L535.4 724.0 L535.0 722.0 L534.7 720.0 L534.3 718.0 L534.0 716.0 L533.7 714.0 L533.4 712.0 L533.2 710.0 L532.9 708.0 L532.7 706.0 L532.4 704.0 L532.2 702.0 L532.0 700.0 L531.7 698.0 L531.5 696.0 L531.3 694.0 L531.1 692.0 L531.0 690.0 L530.8 688.0 L530.6 686.0 L530.5 684.0 L530.3 682.0 L530.2 680.0 L530.0 678.0 L529.9 676.0 L529.8 674.0 Z" fill="#FFB3B3" stroke="#FFB3B3" stroke-width="1" stroke-linejoin="round"/>
<line x1="466.0" y1="761.0" x2="586.8" y2="761.0" stroke="#404040" stroke-width="4.5" stroke-linecap="round"/>
<line x1="466.0" y1="1011.6" x2="586.8" y2="1011.6" stroke="#404040" stroke-width="4.5" stroke-linecap="round"/>
<path d="M523.0 674.0 L522.9 676.0 L522.8 678.0 L522.6 680.0 L522.5 682.0 L522.3 684.0 L522.2 686.0 L522.0 688.0 L521.8 690.0 L521.7 692.0 L521.5 694.0 L521.3 696.0 L521.1 698.0 L520.8 700.0 L520.6 702.0 L520.4 704.0 L520.1 706.0 L519.9 708.0 L519.6 710.0 L519.4 712.0 L519.1 714.0 L518.8 716.0 L518.5 718.0 L518.1 720.0 L517.8 722.0 L517.4 724.0 L517.1 726.0 L516.7 728.0 L516.2 730.0 L515.8 732.0 L515.3 734.0 L514.9 736.0 L514.4 738.0 L513.8 740.0 L513.2 742.0 L512.6 744.0 L512.0 746.0 L511.3 748.0 L510.6 750.0 L509.9 752.0 L509.1 754.0 L508.2 756.0 L507.3 758.0 L506.4 760.0 L505.4 762.0 L504.4 764.0 L503.3 766.0 L502.1 768.0 L500.9 770.0 L499.6 772.0 L498.3 774.0 L496.9 776.0 L495.4 778.0 L493.9 780.0 L492.3 782.0 L490.6 784.0 L488.9 786.0 L487.1 788.0 L485.3 790.0 L483.4 792.0 L481.4 794.0 L479.4 796.0 L477.3 798.0 L475.2 800.0 L473.0 802.0 L470.7 804.0 L468.4 806.0 L466.1 808.0 L463.7 810.0 L461.2 812.0 L458.8 814.0 L456.3 816.0 L453.7 818.0 L451.1 820.0 L448.5 822.0 L445.9 824.0 L443.2 826.0 L440.6 828.0 L437.9 830.0 L435.2 832.0 L432.5 834.0 L429.7 836.0 L427.0 838.0 L424.3 840.0 L421.6 842.0 L418.9 844.0 L416.2 846.0 L413.5 848.0 L410.8 850.0 L408.1 852.0 L405.5 854.0 L402.9 856.0 L400.3 858.0 L397.8 860.0 L395.3 862.0 L392.9 864.0 L390.5 866.0 L388.2 868.0 L385.9 870.0 L383.7 872.0 L381.5 874.0 L379.4 876.0 L377.4 878.0 L375.5 880.0 L373.7 882.0 L371.9 884.0 L370.3 886.0 L368.7 888.0 L367.3 890.0 L365.9 892.0 L364.6 894.0 L363.5 896.0 L362.4 898.0 L361.5 900.0 L360.6 902.0 L359.9 904.0 L359.3 906.0 L358.8 908.0 L358.4 910.0 L358.2 912.0 L358.0 914.0 L358.0 916.0 L358.0 918.0 L358.2 920.0 L358.5 922.0 L358.9 924.0 L359.4 926.0 L360.1 928.0 L360.8 930.0 L361.6 932.0 L362.5 934.0 L363.6 936.0 L364.7 938.0 L365.9 940.0 L367.2 942.0 L368.6 944.0 L370.1 946.0 L371.7 948.0 L373.3 950.0 L375.1 952.0 L376.9 954.0 L378.7 956.0 L380.7 958.0 L382.7 960.0 L384.8 962.0 L386.9 964.0 L389.1 966.0 L391.3 968.0 L393.6 970.0 L395.9 972.0 L398.3 974.0 L400.7 976.0 L403.2 978.0 L405.7 980.0 L408.2 982.0 L410.7 984.0 L413.3 986.0 L415.9 988.0 L418.5 990.0 L421.1 992.0 L423.8 994.0 L426.4 996.0 L429.1 998.0 L431.7 1000.0 L434.4 1002.0 L437.0 1004.0 L439.7 1006.0 L442.3 1008.0 L445.0 1010.0 L447.6 1012.0 L450.2 1014.0 L452.8 1016.0 L455.3 1018.0 L457.8 1020.0 L460.3 1022.0 L462.8 1024.0 L465.2 1026.0 L467.6 1028.0 L469.9 1030.0 L472.2 1032.0 L474.4 1034.0 L476.6 1036.0 L478.7 1038.0 L480.8 1040.0 L482.8 1042.0 L484.7 1044.0 L486.6 1046.0 L488.4 1048.0 L490.2 1050.0 L491.9 1052.0 L493.5 1054.0 L495.1 1056.0 L496.6 1058.0 L498.1 1060.0 L499.5 1062.0 L500.8 1064.0 L502.1 1066.0 L503.3 1068.0 L504.5 1070.0 L505.6 1072.0 L506.7 1074.0 L507.7 1076.0 L508.7 1078.0 L509.6 1080.0 L510.4 1082.0 L511.3 1084.0 L512.0 1086.0 L512.7 1088.0 L513.4 1090.0 L514.0 1092.0 L514.6 1094.0 L515.1 1096.0 L515.6 1098.0 L516.0 1100.0 L516.4 1101.8 L536.4 1101.8 L536.8 1100.0 L537.2 1098.0 L537.7 1096.0 L538.2 1094.0 L538.8 1092.0 L539.4 1090.0 L540.1 1088.0 L540.8 1086.0 L541.5 1084.0 L542.4 1082.0 L543.2 1080.0 L544.1 1078.0 L545.1 1076.0 L546.1 1074.0 L547.2 1072.0 L548.3 1070.0 L549.5 1068.0 L550.7 1066.0 L552.0 1064.0 L553.3 1062.0 L554.7 1060.0 L556.2 1058.0 L557.7 1056.0 L559.3 1054.0 L560.9 1052.0 L562.6 1050.0 L564.4 1048.0 L566.2 1046.0 L568.1 1044.0 L570.0 1042.0 L572.0 1040.0 L574.1 1038.0 L576.2 1036.0 L578.4 1034.0 L580.6 1032.0 L582.9 1030.0 L585.2 1028.0 L587.6 1026.0 L590.0 1024.0 L592.5 1022.0 L595.0 1020.0 L597.5 1018.0 L600.0 1016.0 L602.6 1014.0 L605.2 1012.0 L607.8 1010.0 L610.5 1008.0 L613.1 1006.0 L615.8 1004.0 L618.4 1002.0 L621.1 1000.0 L623.7 998.0 L626.4 996.0 L629.0 994.0 L631.7 992.0 L634.3 990.0 L636.9 988.0 L639.5 986.0 L642.1 984.0 L644.6 982.0 L647.1 980.0 L649.6 978.0 L652.1 976.0 L654.5 974.0 L656.9 972.0 L659.2 970.0 L661.5 968.0 L663.7 966.0 L665.9 964.0 L668.0 962.0 L670.1 960.0 L672.1 958.0 L674.1 956.0 L675.9 954.0 L677.7 952.0 L679.5 950.0 L681.1 948.0 L682.7 946.0 L684.2 944.0 L685.6 942.0 L686.9 940.0 L688.1 938.0 L689.2 936.0 L690.3 934.0 L691.2 932.0 L692.0 930.0 L692.7 928.0 L693.4 926.0 L693.9 924.0 L694.3 922.0 L694.6 920.0 L694.8 918.0 L694.8 916.0 L694.8 914.0 L694.6 912.0 L694.4 910.0 L694.0 908.0 L693.5 906.0 L692.9 904.0 L692.2 902.0 L691.3 900.0 L690.4 898.0 L689.3 896.0 L688.2 894.0 L686.9 892.0 L685.5 890.0 L684.1 888.0 L682.5 886.0 L680.9 884.0 L679.1 882.0 L677.3 880.0 L675.4 878.0 L673.4 876.0 L671.3 874.0 L669.1 872.0 L666.9 870.0 L664.6 868.0 L662.3 866.0 L659.9 864.0 L657.5 862.0 L655.0 860.0 L652.5 858.0 L649.9 856.0 L647.3 854.0 L644.7 852.0 L642.0 850.0 L639.3 848.0 L636.6 846.0 L633.9 844.0 L631.2 842.0 L628.5 840.0 L625.8 838.0 L623.1 836.0 L620.3 834.0 L617.6 832.0 L614.9 830.0 L612.2 828.0 L609.6 826.0 L606.9 824.0 L604.3 822.0 L601.7 820.0 L599.1 818.0 L596.5 816.0 L594.0 814.0 L591.6 812.0 L589.1 810.0 L586.7 808.0 L584.4 806.0 L582.1 804.0 L579.8 802.0 L577.6 800.0 L575.5 798.0 L573.4 796.0 L571.4 794.0 L569.4 792.0 L567.5 790.0 L565.7 788.0 L563.9 786.0 L562.2 784.0 L560.5 782.0 L558.9 780.0 L557.4 778.0 L555.9 776.0 L554.5 774.0 L553.2 772.0 L551.9 770.0 L550.7 768.0 L549.5 766.0 L548.4 764.0 L547.4 762.0 L546.4 760.0 L545.5 758.0 L544.6 756.0 L543.7 754.0 L542.9 752.0 L542.2 750.0 L541.5 748.0 L540.8 746.0 L540.2 744.0 L539.6 742.0 L539.0 740.0 L538.4 738.0 L537.9 736.0 L537.5 734.0 L537.0 732.0 L536.6 730.0 L536.1 728.0 L535.7 726.0 L535.4 724.0 L535.0 722.0 L534.7 720.0 L534.3 718.0 L534.0 716.0 L533.7 714.0 L533.4 712.0 L533.2 710.0 L532.9 708.0 L532.7 706.0 L532.4 704.0 L532.2 702.0 L532.0 700.0 L531.7 698.0 L531.5 696.0 L531.3 694.0 L531.1 692.0 L531.0 690.0 L530.8 688.0 L530.6 686.0 L530.5 684.0 L530.3 682.0 L530.2 680.0 L530.0 678.0 L529.9 676.0 L529.8 674.0 Z" fill="none" stroke="#FFB3B3" stroke-width="9.8" clip-path="url(#vc0)"/>
<line x1="526.4" y1="758.8" x2="526.4" y2="1013.8" stroke="#404040" stroke-width="4.7"/>
<rect x="426.5" y="875.4" width="199.2" height="96.2" fill="#EE0000" stroke="#404040" stroke-width="4.8" stroke-linejoin="round"/>
<circle cx="525.9" cy="939.4" r="6.5" fill="#fff" stroke="#333" stroke-width="1"/>
<line x1="426.3" y1="917.0" x2="626.9" y2="917.0" stroke="#000" stroke-width="6.0" stroke-linecap="round"/>
</g>
<g>
<path d="M937.2 326.3 L937.2 328.3 L937.2 330.3 L937.1 332.3 L937.1 334.3 L937.0 336.3 L937.0 338.3 L936.9 340.3 L936.9 342.3 L936.8 344.3 L936.7 346.3 L936.7 348.3 L936.6 350.3 L936.5 352.3 L936.4 354.3 L936.3 356.3 L936.2 358.3 L936.1 360.3 L936.0 362.3 L935.9 364.3 L935.8 366.3 L935.7 368.3 L935.6 370.3 L935.4 372.3 L935.3 374.3 L935.2 376.3 L935.0 378.3 L934.9 380.3 L934.7 382.3 L934.5 384.3 L934.4 386.3 L934.2 388.3 L934.0 390.3 L933.9 392.3 L933.7 394.3 L933.5 396.3 L933.3 398.3 L933.1 400.3 L932.8 402.3 L932.6 404.3 L932.4 406.3 L932.2 408.3 L931.9 410.3 L931.7 412.3 L931.4 414.3 L931.2 416.3 L930.9 418.3 L930.6 420.3 L930.3 422.3 L930.1 424.3 L929.8 426.3 L929.5 428.3 L929.2 430.3 L928.8 432.3 L928.5 434.3 L928.2 436.3 L927.8 438.3 L927.5 440.3 L927.1 442.3 L926.8 444.3 L926.4 446.3 L926.0 448.3 L925.7 450.3 L925.3 452.3 L924.9 454.3 L924.5 456.3 L924.1 458.3 L923.6 460.3 L923.2 462.3 L922.7 464.3 L922.3 466.3 L921.8 468.3 L921.3 470.3 L920.8 472.3 L920.3 474.3 L919.8 476.3 L919.3 478.3 L918.7 480.3 L918.1 482.3 L917.5 484.3 L916.9 486.3 L916.3 488.3 L915.6 490.3 L914.9 492.3 L914.2 494.3 L913.5 496.3 L912.8 498.3 L912.0 500.3 L911.2 502.3 L910.3 504.3 L909.5 506.3 L908.6 508.3 L907.7 510.3 L906.7 512.3 L905.8 514.3 L904.8 516.3 L903.7 518.3 L902.7 520.3 L901.6 522.3 L900.5 524.3 L899.3 526.3 L898.2 528.3 L897.0 530.3 L895.8 532.3 L894.5 534.3 L893.3 536.3 L892.0 538.3 L890.7 540.3 L889.4 542.3 L888.0 544.3 L886.7 546.3 L885.3 548.3 L883.9 550.3 L882.5 552.3 L881.1 554.3 L879.7 556.3 L878.2 558.3 L876.8 560.3 L875.3 562.3 L873.8 564.3 L872.4 566.3 L870.9 568.3 L869.4 570.3 L867.9 572.3 L866.4 574.3 L864.9 576.3 L863.4 578.3 L861.9 580.3 L860.4 582.3 L858.9 584.3 L857.4 586.3 L855.9 588.3 L854.4 590.3 L852.9 592.3 L851.4 594.3 L849.9 596.3 L848.4 598.3 L846.9 600.3 L845.4 602.3 L843.9 604.3 L842.4 606.3 L840.9 608.3 L839.4 610.3 L837.9 612.3 L836.4 614.3 L834.9 616.3 L833.4 618.3 L831.9 620.3 L830.4 622.3 L828.9 624.3 L827.4 626.3 L825.9 628.3 L824.3 630.3 L822.8 632.3 L821.3 634.3 L819.8 636.3 L818.3 638.3 L816.8 640.3 L815.3 642.3 L813.8 644.3 L812.2 646.3 L810.8 648.3 L809.3 650.3 L807.8 652.3 L806.3 654.3 L804.8 656.3 L803.4 658.3 L802.0 660.3 L800.5 662.3 L799.2 664.3 L797.8 666.3 L796.4 668.3 L795.1 670.3 L793.8 672.3 L792.5 674.3 L791.3 676.3 L790.0 678.3 L788.9 680.3 L787.7 682.3 L786.6 684.3 L785.5 686.3 L784.5 688.3 L783.5 690.3 L782.5 692.3 L781.6 694.3 L780.7 696.3 L779.9 698.3 L779.1 700.3 L778.3 702.3 L777.6 704.3 L777.0 706.3 L776.4 708.3 L775.8 710.3 L775.3 712.3 L774.8 714.3 L774.4 716.3 L774.0 718.3 L773.6 720.3 L773.3 722.3 L773.0 724.3 L772.8 726.3 L772.6 728.3 L772.5 730.3 L772.4 732.3 L772.3 734.3 L772.3 736.3 L772.3 738.3 L772.3 740.3 L772.4 742.3 L772.6 744.3 L772.7 746.3 L772.9 748.3 L773.2 750.3 L773.5 752.3 L773.8 754.3 L774.2 756.3 L774.6 758.3 L775.0 760.3 L775.5 762.3 L776.0 764.3 L776.5 766.3 L777.1 768.3 L777.7 770.3 L778.4 772.3 L779.1 774.3 L779.8 776.3 L780.6 778.3 L781.4 780.3 L782.3 782.3 L783.2 784.3 L784.1 786.3 L785.0 788.3 L786.0 790.3 L787.0 792.3 L788.1 794.3 L789.1 796.3 L790.2 798.3 L791.4 800.3 L792.5 802.3 L793.7 804.3 L794.9 806.3 L796.2 808.3 L797.4 810.3 L798.7 812.3 L800.0 814.3 L801.3 816.3 L802.7 818.3 L804.0 820.3 L805.4 822.3 L806.8 824.3 L808.2 826.3 L809.6 828.3 L811.1 830.3 L812.5 832.3 L814.0 834.3 L815.4 836.3 L816.9 838.3 L818.4 840.3 L819.9 842.3 L821.4 844.3 L822.9 846.3 L824.5 848.3 L826.0 850.3 L827.5 852.3 L829.1 854.3 L830.6 856.3 L832.2 858.3 L833.8 860.3 L835.4 862.3 L836.9 864.3 L838.5 866.3 L840.1 868.3 L841.7 870.3 L843.3 872.3 L844.9 874.3 L846.5 876.3 L848.1 878.3 L849.7 880.3 L851.2 882.3 L852.8 884.3 L854.4 886.3 L856.0 888.3 L857.6 890.3 L859.2 892.3 L860.7 894.3 L862.3 896.3 L863.9 898.3 L865.4 900.3 L866.9 902.3 L868.5 904.3 L870.0 906.3 L871.5 908.3 L873.0 910.3 L874.5 912.3 L875.9 914.3 L877.4 916.3 L878.8 918.3 L880.2 920.3 L881.7 922.3 L883.0 924.3 L884.4 926.3 L885.8 928.3 L887.1 930.3 L888.4 932.3 L889.7 934.3 L891.0 936.3 L892.2 938.3 L893.5 940.3 L894.7 942.3 L895.9 944.3 L897.0 946.3 L898.2 948.3 L899.3 950.3 L900.4 952.3 L901.5 954.3 L902.6 956.3 L903.6 958.3 L904.6 960.3 L905.6 962.3 L906.6 964.3 L907.5 966.3 L908.4 968.3 L909.3 970.3 L910.2 972.3 L911.0 974.3 L911.9 976.3 L912.7 978.3 L913.5 980.3 L914.2 982.3 L915.0 984.3 L915.7 986.3 L916.4 988.3 L917.1 990.3 L917.7 992.3 L918.4 994.3 L919.0 996.3 L919.6 998.3 L920.2 1000.3 L920.7 1002.3 L921.3 1004.3 L921.8 1006.3 L922.4 1008.3 L922.9 1010.3 L923.4 1012.3 L923.8 1014.3 L924.3 1016.3 L924.8 1018.3 L925.2 1020.3 L925.6 1022.3 L926.1 1024.3 L926.5 1026.3 L926.9 1028.3 L927.3 1030.3 L927.7 1032.3 L928.0 1034.3 L928.4 1036.3 L928.7 1038.3 L929.1 1040.3 L929.4 1042.3 L929.8 1044.3 L930.1 1046.3 L930.4 1048.3 L930.7 1050.3 L931.0 1052.3 L931.3 1054.3 L931.5 1056.3 L931.8 1058.3 L932.1 1060.3 L932.3 1062.3 L932.6 1064.3 L932.8 1066.3 L933.0 1068.3 L933.2 1070.3 L933.4 1072.3 L933.6 1074.3 L933.8 1076.3 L934.0 1078.3 L934.1 1080.3 L934.3 1082.3 L934.4 1084.3 L934.6 1086.3 L934.7 1088.3 L934.8 1090.3 L934.9 1092.3 L935.0 1094.3 L935.1 1096.3 L935.2 1098.3 L935.3 1100.3 L935.3 1101.9 L945.9 1101.9 L945.9 1100.3 L946.0 1098.3 L946.1 1096.3 L946.2 1094.3 L946.3 1092.3 L946.4 1090.3 L946.5 1088.3 L946.6 1086.3 L946.8 1084.3 L946.9 1082.3 L947.1 1080.3 L947.2 1078.3 L947.4 1076.3 L947.6 1074.3 L947.8 1072.3 L948.0 1070.3 L948.2 1068.3 L948.4 1066.3 L948.6 1064.3 L948.9 1062.3 L949.1 1060.3 L949.4 1058.3 L949.7 1056.3 L949.9 1054.3 L950.2 1052.3 L950.5 1050.3 L950.8 1048.3 L951.1 1046.3 L951.4 1044.3 L951.8 1042.3 L952.1 1040.3 L952.5 1038.3 L952.8 1036.3 L953.2 1034.3 L953.5 1032.3 L953.9 1030.3 L954.3 1028.3 L954.7 1026.3 L955.1 1024.3 L955.6 1022.3 L956.0 1020.3 L956.4 1018.3 L956.9 1016.3 L957.4 1014.3 L957.8 1012.3 L958.3 1010.3 L958.8 1008.3 L959.4 1006.3 L959.9 1004.3 L960.5 1002.3 L961.0 1000.3 L961.6 998.3 L962.2 996.3 L962.8 994.3 L963.5 992.3 L964.1 990.3 L964.8 988.3 L965.5 986.3 L966.2 984.3 L967.0 982.3 L967.7 980.3 L968.5 978.3 L969.3 976.3 L970.2 974.3 L971.0 972.3 L971.9 970.3 L972.8 968.3 L973.7 966.3 L974.6 964.3 L975.6 962.3 L976.6 960.3 L977.6 958.3 L978.6 956.3 L979.7 954.3 L980.8 952.3 L981.9 950.3 L983.0 948.3 L984.2 946.3 L985.3 944.3 L986.5 942.3 L987.7 940.3 L989.0 938.3 L990.2 936.3 L991.5 934.3 L992.8 932.3 L994.1 930.3 L995.4 928.3 L996.8 926.3 L998.2 924.3 L999.5 922.3 L1001.0 920.3 L1002.4 918.3 L1003.8 916.3 L1005.3 914.3 L1006.7 912.3 L1008.2 910.3 L1009.7 908.3 L1011.2 906.3 L1012.7 904.3 L1014.3 902.3 L1015.8 900.3 L1017.3 898.3 L1018.9 896.3 L1020.5 894.3 L1022.0 892.3 L1023.6 890.3 L1025.2 888.3 L1026.8 886.3 L1028.4 884.3 L1030.0 882.3 L1031.5 880.3 L1033.1 878.3 L1034.7 876.3 L1036.3 874.3 L1037.9 872.3 L1039.5 870.3 L1041.1 868.3 L1042.7 866.3 L1044.3 864.3 L1045.8 862.3 L1047.4 860.3 L1049.0 858.3 L1050.6 856.3 L1052.1 854.3 L1053.7 852.3 L1055.2 850.3 L1056.7 848.3 L1058.3 846.3 L1059.8 844.3 L1061.3 842.3 L1062.8 840.3 L1064.3 838.3 L1065.8 836.3 L1067.2 834.3 L1068.7 832.3 L1070.1 830.3 L1071.6 828.3 L1073.0 826.3 L1074.4 824.3 L1075.8 822.3 L1077.2 820.3 L1078.5 818.3 L1079.9 816.3 L1081.2 814.3 L1082.5 812.3 L1083.8 810.3 L1085.0 808.3 L1086.3 806.3 L1087.5 804.3 L1088.7 802.3 L1089.8 800.3 L1091.0 798.3 L1092.1 796.3 L1093.1 794.3 L1094.2 792.3 L1095.2 790.3 L1096.2 788.3 L1097.1 786.3 L1098.0 784.3 L1098.9 782.3 L1099.8 780.3 L1100.6 778.3 L1101.4 776.3 L1102.1 774.3 L1102.8 772.3 L1103.5 770.3 L1104.1 768.3 L1104.7 766.3 L1105.2 764.3 L1105.7 762.3 L1106.2 760.3 L1106.6 758.3 L1107.0 756.3 L1107.4 754.3 L1107.7 752.3 L1108.0 750.3 L1108.3 748.3 L1108.5 746.3 L1108.6 744.3 L1108.8 742.3 L1108.9 740.3 L1108.9 738.3 L1108.9 736.3 L1108.9 734.3 L1108.8 732.3 L1108.7 730.3 L1108.6 728.3 L1108.4 726.3 L1108.2 724.3 L1107.9 722.3 L1107.6 720.3 L1107.2 718.3 L1106.8 716.3 L1106.4 714.3 L1105.9 712.3 L1105.4 710.3 L1104.8 708.3 L1104.2 706.3 L1103.6 704.3 L1102.9 702.3 L1102.1 700.3 L1101.3 698.3 L1100.5 696.3 L1099.6 694.3 L1098.7 692.3 L1097.7 690.3 L1096.7 688.3 L1095.7 686.3 L1094.6 684.3 L1093.5 682.3 L1092.3 680.3 L1091.2 678.3 L1089.9 676.3 L1088.7 674.3 L1087.4 672.3 L1086.1 670.3 L1084.8 668.3 L1083.4 666.3 L1082.0 664.3 L1080.7 662.3 L1079.2 660.3 L1077.8 658.3 L1076.4 656.3 L1074.9 654.3 L1073.4 652.3 L1071.9 650.3 L1070.4 648.3 L1069.0 646.3 L1067.4 644.3 L1065.9 642.3 L1064.4 640.3 L1062.9 638.3 L1061.4 636.3 L1059.9 634.3 L1058.4 632.3 L1056.9 630.3 L1055.3 628.3 L1053.8 626.3 L1052.3 624.3 L1050.8 622.3 L1049.3 620.3 L1047.8 618.3 L1046.3 616.3 L1044.8 614.3 L1043.3 612.3 L1041.8 610.3 L1040.3 608.3 L1038.8 606.3 L1037.3 604.3 L1035.8 602.3 L1034.3 600.3 L1032.8 598.3 L1031.3 596.3 L1029.8 594.3 L1028.3 592.3 L1026.8 590.3 L1025.3 588.3 L1023.8 586.3 L1022.3 584.3 L1020.8 582.3 L1019.3 580.3 L1017.8 578.3 L1016.3 576.3 L1014.8 574.3 L1013.3 572.3 L1011.8 570.3 L1010.3 568.3 L1008.8 566.3 L1007.4 564.3 L1005.9 562.3 L1004.4 560.3 L1003.0 558.3 L1001.5 556.3 L1000.1 554.3 L998.7 552.3 L997.3 550.3 L995.9 548.3 L994.5 546.3 L993.2 544.3 L991.8 542.3 L990.5 540.3 L989.2 538.3 L987.9 536.3 L986.7 534.3 L985.4 532.3 L984.2 530.3 L983.0 528.3 L981.9 526.3 L980.7 524.3 L979.6 522.3 L978.5 520.3 L977.5 518.3 L976.4 516.3 L975.4 514.3 L974.5 512.3 L973.5 510.3 L972.6 508.3 L971.7 506.3 L970.9 504.3 L970.0 502.3 L969.2 500.3 L968.4 498.3 L967.7 496.3 L967.0 494.3 L966.3 492.3 L965.6 490.3 L964.9 488.3 L964.3 486.3 L963.7 484.3 L963.1 482.3 L962.5 480.3 L961.9 478.3 L961.4 476.3 L960.9 474.3 L960.4 472.3 L959.9 470.3 L959.4 468.3 L958.9 466.3 L958.5 464.3 L958.0 462.3 L957.6 460.3 L957.1 458.3 L956.7 456.3 L956.3 454.3 L955.9 452.3 L955.5 450.3 L955.2 448.3 L954.8 446.3 L954.4 444.3 L954.1 442.3 L953.7 440.3 L953.4 438.3 L953.0 436.3 L952.7 434.3 L952.4 432.3 L952.0 430.3 L951.7 428.3 L951.4 426.3 L951.1 424.3 L950.9 422.3 L950.6 420.3 L950.3 418.3 L950.0 416.3 L949.8 414.3 L949.5 412.3 L949.3 410.3 L949.0 408.3 L948.8 406.3 L948.6 404.3 L948.4 402.3 L948.1 400.3 L947.9 398.3 L947.7 396.3 L947.5 394.3 L947.3 392.3 L947.2 390.3 L947.0 388.3 L946.8 386.3 L946.7 384.3 L946.5 382.3 L946.3 380.3 L946.2 378.3 L946.0 376.3 L945.9 374.3 L945.8 372.3 L945.6 370.3 L945.5 368.3 L945.4 366.3 L945.3 364.3 L945.2 362.3 L945.1 360.3 L945.0 358.3 L944.9 356.3 L944.8 354.3 L944.7 352.3 L944.6 350.3 L944.5 348.3 L944.5 346.3 L944.4 344.3 L944.3 342.3 L944.3 340.3 L944.2 338.3 L944.2 336.3 L944.1 334.3 L944.1 332.3 L944.0 330.3 L944.0 328.3 L944.0 326.3 Z" fill="#C2D5EB" stroke="#C2D5EB" stroke-width="1" stroke-linejoin="round"/>
<line x1="880.2" y1="413.4" x2="1001.0" y2="413.4" stroke="#404040" stroke-width="4.5" stroke-linecap="round"/>
<line x1="880.2" y1="909.5" x2="1001.0" y2="909.5" stroke="#404040" stroke-width="4.5" stroke-linecap="round"/>
<path d="M937.2 326.3 L937.2 328.3 L937.2 330.3 L937.1 332.3 L937.1 334.3 L937.0 336.3 L937.0 338.3 L936.9 340.3 L936.9 342.3 L936.8 344.3 L936.7 346.3 L936.7 348.3 L936.6 350.3 L936.5 352.3 L936.4 354.3 L936.3 356.3 L936.2 358.3 L936.1 360.3 L936.0 362.3 L935.9 364.3 L935.8 366.3 L935.7 368.3 L935.6 370.3 L935.4 372.3 L935.3 374.3 L935.2 376.3 L935.0 378.3 L934.9 380.3 L934.7 382.3 L934.5 384.3 L934.4 386.3 L934.2 388.3 L934.0 390.3 L933.9 392.3 L933.7 394.3 L933.5 396.3 L933.3 398.3 L933.1 400.3 L932.8 402.3 L932.6 404.3 L932.4 406.3 L932.2 408.3 L931.9 410.3 L931.7 412.3 L931.4 414.3 L931.2 416.3 L930.9 418.3 L930.6 420.3 L930.3 422.3 L930.1 424.3 L929.8 426.3 L929.5 428.3 L929.2 430.3 L928.8 432.3 L928.5 434.3 L928.2 436.3 L927.8 438.3 L927.5 440.3 L927.1 442.3 L926.8 444.3 L926.4 446.3 L926.0 448.3 L925.7 450.3 L925.3 452.3 L924.9 454.3 L924.5 456.3 L924.1 458.3 L923.6 460.3 L923.2 462.3 L922.7 464.3 L922.3 466.3 L921.8 468.3 L921.3 470.3 L920.8 472.3 L920.3 474.3 L919.8 476.3 L919.3 478.3 L918.7 480.3 L918.1 482.3 L917.5 484.3 L916.9 486.3 L916.3 488.3 L915.6 490.3 L914.9 492.3 L914.2 494.3 L913.5 496.3 L912.8 498.3 L912.0 500.3 L911.2 502.3 L910.3 504.3 L909.5 506.3 L908.6 508.3 L907.7 510.3 L906.7 512.3 L905.8 514.3 L904.8 516.3 L903.7 518.3 L902.7 520.3 L901.6 522.3 L900.5 524.3 L899.3 526.3 L898.2 528.3 L897.0 530.3 L895.8 532.3 L894.5 534.3 L893.3 536.3 L892.0 538.3 L890.7 540.3 L889.4 542.3 L888.0 544.3 L886.7 546.3 L885.3 548.3 L883.9 550.3 L882.5 552.3 L881.1 554.3 L879.7 556.3 L878.2 558.3 L876.8 560.3 L875.3 562.3 L873.8 564.3 L872.4 566.3 L870.9 568.3 L869.4 570.3 L867.9 572.3 L866.4 574.3 L864.9 576.3 L863.4 578.3 L861.9 580.3 L860.4 582.3 L858.9 584.3 L857.4 586.3 L855.9 588.3 L854.4 590.3 L852.9 592.3 L851.4 594.3 L849.9 596.3 L848.4 598.3 L846.9 600.3 L845.4 602.3 L843.9 604.3 L842.4 606.3 L840.9 608.3 L839.4 610.3 L837.9 612.3 L836.4 614.3 L834.9 616.3 L833.4 618.3 L831.9 620.3 L830.4 622.3 L828.9 624.3 L827.4 626.3 L825.9 628.3 L824.3 630.3 L822.8 632.3 L821.3 634.3 L819.8 636.3 L818.3 638.3 L816.8 640.3 L815.3 642.3 L813.8 644.3 L812.2 646.3 L810.8 648.3 L809.3 650.3 L807.8 652.3 L806.3 654.3 L804.8 656.3 L803.4 658.3 L802.0 660.3 L800.5 662.3 L799.2 664.3 L797.8 666.3 L796.4 668.3 L795.1 670.3 L793.8 672.3 L792.5 674.3 L791.3 676.3 L790.0 678.3 L788.9 680.3 L787.7 682.3 L786.6 684.3 L785.5 686.3 L784.5 688.3 L783.5 690.3 L782.5 692.3 L781.6 694.3 L780.7 696.3 L779.9 698.3 L779.1 700.3 L778.3 702.3 L777.6 704.3 L777.0 706.3 L776.4 708.3 L775.8 710.3 L775.3 712.3 L774.8 714.3 L774.4 716.3 L774.0 718.3 L773.6 720.3 L773.3 722.3 L773.0 724.3 L772.8 726.3 L772.6 728.3 L772.5 730.3 L772.4 732.3 L772.3 734.3 L772.3 736.3 L772.3 738.3 L772.3 740.3 L772.4 742.3 L772.6 744.3 L772.7 746.3 L772.9 748.3 L773.2 750.3 L773.5 752.3 L773.8 754.3 L774.2 756.3 L774.6 758.3 L775.0 760.3 L775.5 762.3 L776.0 764.3 L776.5 766.3 L777.1 768.3 L777.7 770.3 L778.4 772.3 L779.1 774.3 L779.8 776.3 L780.6 778.3 L781.4 780.3 L782.3 782.3 L783.2 784.3 L784.1 786.3 L785.0 788.3 L786.0 790.3 L787.0 792.3 L788.1 794.3 L789.1 796.3 L790.2 798.3 L791.4 800.3 L792.5 802.3 L793.7 804.3 L794.9 806.3 L796.2 808.3 L797.4 810.3 L798.7 812.3 L800.0 814.3 L801.3 816.3 L802.7 818.3 L804.0 820.3 L805.4 822.3 L806.8 824.3 L808.2 826.3 L809.6 828.3 L811.1 830.3 L812.5 832.3 L814.0 834.3 L815.4 836.3 L816.9 838.3 L818.4 840.3 L819.9 842.3 L821.4 844.3 L822.9 846.3 L824.5 848.3 L826.0 850.3 L827.5 852.3 L829.1 854.3 L830.6 856.3 L832.2 858.3 L833.8 860.3 L835.4 862.3 L836.9 864.3 L838.5 866.3 L840.1 868.3 L841.7 870.3 L843.3 872.3 L844.9 874.3 L846.5 876.3 L848.1 878.3 L849.7 880.3 L851.2 882.3 L852.8 884.3 L854.4 886.3 L856.0 888.3 L857.6 890.3 L859.2 892.3 L860.7 894.3 L862.3 896.3 L863.9 898.3 L865.4 900.3 L866.9 902.3 L868.5 904.3 L870.0 906.3 L871.5 908.3 L873.0 910.3 L874.5 912.3 L875.9 914.3 L877.4 916.3 L878.8 918.3 L880.2 920.3 L881.7 922.3 L883.0 924.3 L884.4 926.3 L885.8 928.3 L887.1 930.3 L888.4 932.3 L889.7 934.3 L891.0 936.3 L892.2 938.3 L893.5 940.3 L894.7 942.3 L895.9 944.3 L897.0 946.3 L898.2 948.3 L899.3 950.3 L900.4 952.3 L901.5 954.3 L902.6 956.3 L903.6 958.3 L904.6 960.3 L905.6 962.3 L906.6 964.3 L907.5 966.3 L908.4 968.3 L909.3 970.3 L910.2 972.3 L911.0 974.3 L911.9 976.3 L912.7 978.3 L913.5 980.3 L914.2 982.3 L915.0 984.3 L915.7 986.3 L916.4 988.3 L917.1 990.3 L917.7 992.3 L918.4 994.3 L919.0 996.3 L919.6 998.3 L920.2 1000.3 L920.7 1002.3 L921.3 1004.3 L921.8 1006.3 L922.4 1008.3 L922.9 1010.3 L923.4 1012.3 L923.8 1014.3 L924.3 1016.3 L924.8 1018.3 L925.2 1020.3 L925.6 1022.3 L926.1 1024.3 L926.5 1026.3 L926.9 1028.3 L927.3 1030.3 L927.7 1032.3 L928.0 1034.3 L928.4 1036.3 L928.7 1038.3 L929.1 1040.3 L929.4 1042.3 L929.8 1044.3 L930.1 1046.3 L930.4 1048.3 L930.7 1050.3 L931.0 1052.3 L931.3 1054.3 L931.5 1056.3 L931.8 1058.3 L932.1 1060.3 L932.3 1062.3 L932.6 1064.3 L932.8 1066.3 L933.0 1068.3 L933.2 1070.3 L933.4 1072.3 L933.6 1074.3 L933.8 1076.3 L934.0 1078.3 L934.1 1080.3 L934.3 1082.3 L934.4 1084.3 L934.6 1086.3 L934.7 1088.3 L934.8 1090.3 L934.9 1092.3 L935.0 1094.3 L935.1 1096.3 L935.2 1098.3 L935.3 1100.3 L935.3 1101.9 L945.9 1101.9 L945.9 1100.3 L946.0 1098.3 L946.1 1096.3 L946.2 1094.3 L946.3 1092.3 L946.4 1090.3 L946.5 1088.3 L946.6 1086.3 L946.8 1084.3 L946.9 1082.3 L947.1 1080.3 L947.2 1078.3 L947.4 1076.3 L947.6 1074.3 L947.8 1072.3 L948.0 1070.3 L948.2 1068.3 L948.4 1066.3 L948.6 1064.3 L948.9 1062.3 L949.1 1060.3 L949.4 1058.3 L949.7 1056.3 L949.9 1054.3 L950.2 1052.3 L950.5 1050.3 L950.8 1048.3 L951.1 1046.3 L951.4 1044.3 L951.8 1042.3 L952.1 1040.3 L952.5 1038.3 L952.8 1036.3 L953.2 1034.3 L953.5 1032.3 L953.9 1030.3 L954.3 1028.3 L954.7 1026.3 L955.1 1024.3 L955.6 1022.3 L956.0 1020.3 L956.4 1018.3 L956.9 1016.3 L957.4 1014.3 L957.8 1012.3 L958.3 1010.3 L958.8 1008.3 L959.4 1006.3 L959.9 1004.3 L960.5 1002.3 L961.0 1000.3 L961.6 998.3 L962.2 996.3 L962.8 994.3 L963.5 992.3 L964.1 990.3 L964.8 988.3 L965.5 986.3 L966.2 984.3 L967.0 982.3 L967.7 980.3 L968.5 978.3 L969.3 976.3 L970.2 974.3 L971.0 972.3 L971.9 970.3 L972.8 968.3 L973.7 966.3 L974.6 964.3 L975.6 962.3 L976.6 960.3 L977.6 958.3 L978.6 956.3 L979.7 954.3 L980.8 952.3 L981.9 950.3 L983.0 948.3 L984.2 946.3 L985.3 944.3 L986.5 942.3 L987.7 940.3 L989.0 938.3 L990.2 936.3 L991.5 934.3 L992.8 932.3 L994.1 930.3 L995.4 928.3 L996.8 926.3 L998.2 924.3 L999.5 922.3 L1001.0 920.3 L1002.4 918.3 L1003.8 916.3 L1005.3 914.3 L1006.7 912.3 L1008.2 910.3 L1009.7 908.3 L1011.2 906.3 L1012.7 904.3 L1014.3 902.3 L1015.8 900.3 L1017.3 898.3 L1018.9 896.3 L1020.5 894.3 L1022.0 892.3 L1023.6 890.3 L1025.2 888.3 L1026.8 886.3 L1028.4 884.3 L1030.0 882.3 L1031.5 880.3 L1033.1 878.3 L1034.7 876.3 L1036.3 874.3 L1037.9 872.3 L1039.5 870.3 L1041.1 868.3 L1042.7 866.3 L1044.3 864.3 L1045.8 862.3 L1047.4 860.3 L1049.0 858.3 L1050.6 856.3 L1052.1 854.3 L1053.7 852.3 L1055.2 850.3 L1056.7 848.3 L1058.3 846.3 L1059.8 844.3 L1061.3 842.3 L1062.8 840.3 L1064.3 838.3 L1065.8 836.3 L1067.2 834.3 L1068.7 832.3 L1070.1 830.3 L1071.6 828.3 L1073.0 826.3 L1074.4 824.3 L1075.8 822.3 L1077.2 820.3 L1078.5 818.3 L1079.9 816.3 L1081.2 814.3 L1082.5 812.3 L1083.8 810.3 L1085.0 808.3 L1086.3 806.3 L1087.5 804.3 L1088.7 802.3 L1089.8 800.3 L1091.0 798.3 L1092.1 796.3 L1093.1 794.3 L1094.2 792.3 L1095.2 790.3 L1096.2 788.3 L1097.1 786.3 L1098.0 784.3 L1098.9 782.3 L1099.8 780.3 L1100.6 778.3 L1101.4 776.3 L1102.1 774.3 L1102.8 772.3 L1103.5 770.3 L1104.1 768.3 L1104.7 766.3 L1105.2 764.3 L1105.7 762.3 L1106.2 760.3 L1106.6 758.3 L1107.0 756.3 L1107.4 754.3 L1107.7 752.3 L1108.0 750.3 L1108.3 748.3 L1108.5 746.3 L1108.6 744.3 L1108.8 742.3 L1108.9 740.3 L1108.9 738.3 L1108.9 736.3 L1108.9 734.3 L1108.8 732.3 L1108.7 730.3 L1108.6 728.3 L1108.4 726.3 L1108.2 724.3 L1107.9 722.3 L1107.6 720.3 L1107.2 718.3 L1106.8 716.3 L1106.4 714.3 L1105.9 712.3 L1105.4 710.3 L1104.8 708.3 L1104.2 706.3 L1103.6 704.3 L1102.9 702.3 L1102.1 700.3 L1101.3 698.3 L1100.5 696.3 L1099.6 694.3 L1098.7 692.3 L1097.7 690.3 L1096.7 688.3 L1095.7 686.3 L1094.6 684.3 L1093.5 682.3 L1092.3 680.3 L1091.2 678.3 L1089.9 676.3 L1088.7 674.3 L1087.4 672.3 L1086.1 670.3 L1084.8 668.3 L1083.4 666.3 L1082.0 664.3 L1080.7 662.3 L1079.2 660.3 L1077.8 658.3 L1076.4 656.3 L1074.9 654.3 L1073.4 652.3 L1071.9 650.3 L1070.4 648.3 L1069.0 646.3 L1067.4 644.3 L1065.9 642.3 L1064.4 640.3 L1062.9 638.3 L1061.4 636.3 L1059.9 634.3 L1058.4 632.3 L1056.9 630.3 L1055.3 628.3 L1053.8 626.3 L1052.3 624.3 L1050.8 622.3 L1049.3 620.3 L1047.8 618.3 L1046.3 616.3 L1044.8 614.3 L1043.3 612.3 L1041.8 610.3 L1040.3 608.3 L1038.8 606.3 L1037.3 604.3 L1035.8 602.3 L1034.3 600.3 L1032.8 598.3 L1031.3 596.3 L1029.8 594.3 L1028.3 592.3 L1026.8 590.3 L1025.3 588.3 L1023.8 586.3 L1022.3 584.3 L1020.8 582.3 L1019.3 580.3 L1017.8 578.3 L1016.3 576.3 L1014.8 574.3 L1013.3 572.3 L1011.8 570.3 L1010.3 568.3 L1008.8 566.3 L1007.4 564.3 L1005.9 562.3 L1004.4 560.3 L1003.0 558.3 L1001.5 556.3 L1000.1 554.3 L998.7 552.3 L997.3 550.3 L995.9 548.3 L994.5 546.3 L993.2 544.3 L991.8 542.3 L990.5 540.3 L989.2 538.3 L987.9 536.3 L986.7 534.3 L985.4 532.3 L984.2 530.3 L983.0 528.3 L981.9 526.3 L980.7 524.3 L979.6 522.3 L978.5 520.3 L977.5 518.3 L976.4 516.3 L975.4 514.3 L974.5 512.3 L973.5 510.3 L972.6 508.3 L971.7 506.3 L970.9 504.3 L970.0 502.3 L969.2 500.3 L968.4 498.3 L967.7 496.3 L967.0 494.3 L966.3 492.3 L965.6 490.3 L964.9 488.3 L964.3 486.3 L963.7 484.3 L963.1 482.3 L962.5 480.3 L961.9 478.3 L961.4 476.3 L960.9 474.3 L960.4 472.3 L959.9 470.3 L959.4 468.3 L958.9 466.3 L958.5 464.3 L958.0 462.3 L957.6 460.3 L957.1 458.3 L956.7 456.3 L956.3 454.3 L955.9 452.3 L955.5 450.3 L955.2 448.3 L954.8 446.3 L954.4 444.3 L954.1 442.3 L953.7 440.3 L953.4 438.3 L953.0 436.3 L952.7 434.3 L952.4 432.3 L952.0 430.3 L951.7 428.3 L951.4 426.3 L951.1 424.3 L950.9 422.3 L950.6 420.3 L950.3 418.3 L950.0 416.3 L949.8 414.3 L949.5 412.3 L949.3 410.3 L949.0 408.3 L948.8 406.3 L948.6 404.3 L948.4 402.3 L948.1 400.3 L947.9 398.3 L947.7 396.3 L947.5 394.3 L947.3 392.3 L947.2 390.3 L947.0 388.3 L946.8 386.3 L946.7 384.3 L946.5 382.3 L946.3 380.3 L946.2 378.3 L946.0 376.3 L945.9 374.3 L945.8 372.3 L945.6 370.3 L945.5 368.3 L945.4 366.3 L945.3 364.3 L945.2 362.3 L945.1 360.3 L945.0 358.3 L944.9 356.3 L944.8 354.3 L944.7 352.3 L944.6 350.3 L944.5 348.3 L944.5 346.3 L944.4 344.3 L944.3 342.3 L944.3 340.3 L944.2 338.3 L944.2 336.3 L944.1 334.3 L944.1 332.3 L944.0 330.3 L944.0 328.3 L944.0 326.3 Z" fill="none" stroke="#C2D5EB" stroke-width="9.8" clip-path="url(#vc1)"/>
<line x1="940.6" y1="411.2" x2="940.6" y2="911.7" stroke="#404040" stroke-width="4.7"/>
<rect x="841.1" y="648.7" width="199.2" height="192.9" fill="#34679A" stroke="#404040" stroke-width="4.8" stroke-linejoin="round"/>
<circle cx="940.1" cy="739.0" r="6.5" fill="#fff" stroke="#333" stroke-width="1"/>
<line x1="840.9" y1="738.0" x2="1041.5" y2="738.0" stroke="#000" stroke-width="6.0" stroke-linecap="round"/>
</g>
<g>
<path d="M1351.1 134.1 L1351.1 136.1 L1351.0 138.1 L1351.0 140.1 L1351.0 142.1 L1350.9 144.1 L1350.9 146.1 L1350.8 148.1 L1350.8 150.1 L1350.7 152.1 L1350.7 154.1 L1350.6 156.1 L1350.6 158.1 L1350.5 160.1 L1350.4 162.1 L1350.4 164.1 L1350.3 166.1 L1350.2 168.1 L1350.1 170.1 L1350.1 172.1 L1350.0 174.1 L1349.9 176.1 L1349.8 178.1 L1349.7 180.1 L1349.6 182.1 L1349.5 184.1 L1349.4 186.1 L1349.3 188.1 L1349.2 190.1 L1349.1 192.1 L1349.0 194.1 L1348.9 196.1 L1348.8 198.1 L1348.6 200.1 L1348.5 202.1 L1348.4 204.1 L1348.2 206.1 L1348.1 208.1 L1348.0 210.1 L1347.8 212.1 L1347.7 214.1 L1347.6 216.1 L1347.4 218.1 L1347.3 220.1 L1347.1 222.1 L1347.0 224.1 L1346.8 226.1 L1346.6 228.1 L1346.5 230.1 L1346.3 232.1 L1346.1 234.1 L1346.0 236.1 L1345.8 238.1 L1345.6 240.1 L1345.5 242.1 L1345.3 244.1 L1345.1 246.1 L1345.0 248.1 L1344.8 250.1 L1344.6 252.1 L1344.4 254.1 L1344.3 256.1 L1344.1 258.1 L1343.9 260.1 L1343.7 262.1 L1343.6 264.1 L1343.4 266.1 L1343.2 268.1 L1343.0 270.1 L1342.8 272.1 L1342.6 274.1 L1342.4 276.1 L1342.3 278.1 L1342.1 280.1 L1341.9 282.1 L1341.7 284.1 L1341.5 286.1 L1341.3 288.1 L1341.1 290.1 L1340.8 292.1 L1340.6 294.1 L1340.4 296.1 L1340.2 298.1 L1339.9 300.1 L1339.7 302.1 L1339.5 304.1 L1339.2 306.1 L1339.0 308.1 L1338.7 310.1 L1338.4 312.1 L1338.2 314.1 L1337.9 316.1 L1337.6 318.1 L1337.3 320.1 L1337.0 322.1 L1336.7 324.1 L1336.4 326.1 L1336.1 328.1 L1335.7 330.1 L1335.4 332.1 L1335.1 334.1 L1334.7 336.1 L1334.4 338.1 L1334.0 340.1 L1333.7 342.1 L1333.3 344.1 L1332.9 346.1 L1332.5 348.1 L1332.1 350.1 L1331.7 352.1 L1331.3 354.1 L1330.9 356.1 L1330.5 358.1 L1330.1 360.1 L1329.7 362.1 L1329.2 364.1 L1328.8 366.1 L1328.4 368.1 L1327.9 370.1 L1327.4 372.1 L1327.0 374.1 L1326.5 376.1 L1326.0 378.1 L1325.5 380.1 L1325.1 382.1 L1324.6 384.1 L1324.0 386.1 L1323.5 388.1 L1323.0 390.1 L1322.5 392.1 L1321.9 394.1 L1321.4 396.1 L1320.8 398.1 L1320.2 400.1 L1319.7 402.1 L1319.1 404.1 L1318.5 406.1 L1317.9 408.1 L1317.3 410.1 L1316.6 412.1 L1316.0 414.1 L1315.4 416.1 L1314.7 418.1 L1314.1 420.1 L1313.4 422.1 L1312.7 424.1 L1312.0 426.1 L1311.3 428.1 L1310.6 430.1 L1309.9 432.1 L1309.2 434.1 L1308.5 436.1 L1307.7 438.1 L1307.0 440.1 L1306.2 442.1 L1305.5 444.1 L1304.7 446.1 L1304.0 448.1 L1303.2 450.1 L1302.4 452.1 L1301.6 454.1 L1300.9 456.1 L1300.1 458.1 L1299.3 460.1 L1298.5 462.1 L1297.7 464.1 L1296.9 466.1 L1296.1 468.1 L1295.3 470.1 L1294.5 472.1 L1293.7 474.1 L1292.9 476.1 L1292.1 478.1 L1291.3 480.1 L1290.5 482.1 L1289.7 484.1 L1288.9 486.1 L1288.0 488.1 L1287.2 490.1 L1286.4 492.1 L1285.5 494.1 L1284.7 496.1 L1283.9 498.1 L1283.0 500.1 L1282.2 502.1 L1281.3 504.1 L1280.5 506.1 L1279.6 508.1 L1278.7 510.1 L1277.9 512.1 L1277.0 514.1 L1276.1 516.1 L1275.2 518.1 L1274.3 520.1 L1273.4 522.1 L1272.5 524.1 L1271.6 526.1 L1270.7 528.1 L1269.7 530.1 L1268.8 532.1 L1267.9 534.1 L1267.0 536.1 L1266.0 538.1 L1265.1 540.1 L1264.1 542.1 L1263.2 544.1 L1262.3 546.1 L1261.3 548.1 L1260.4 550.1 L1259.4 552.1 L1258.5 554.1 L1257.5 556.1 L1256.6 558.1 L1255.6 560.1 L1254.7 562.1 L1253.7 564.1 L1252.8 566.1 L1251.8 568.1 L1250.9 570.1 L1249.9 572.1 L1249.0 574.1 L1248.0 576.1 L1247.1 578.1 L1246.1 580.1 L1245.2 582.1 L1244.2 584.1 L1243.3 586.1 L1242.3 588.1 L1241.4 590.1 L1240.4 592.1 L1239.5 594.1 L1238.5 596.1 L1237.6 598.1 L1236.7 600.1 L1235.7 602.1 L1234.8 604.1 L1233.8 606.1 L1232.9 608.1 L1232.0 610.1 L1231.0 612.1 L1230.1 614.1 L1229.2 616.1 L1228.2 618.1 L1227.3 620.1 L1226.4 622.1 L1225.5 624.1 L1224.6 626.1 L1223.7 628.1 L1222.8 630.1 L1221.9 632.1 L1221.0 634.1 L1220.1 636.1 L1219.3 638.1 L1218.4 640.1 L1217.6 642.1 L1216.7 644.1 L1215.9 646.1 L1215.1 648.1 L1214.2 650.1 L1213.4 652.1 L1212.6 654.1 L1211.9 656.1 L1211.1 658.1 L1210.3 660.1 L1209.6 662.1 L1208.8 664.1 L1208.1 666.1 L1207.4 668.1 L1206.7 670.1 L1206.0 672.1 L1205.3 674.1 L1204.6 676.1 L1204.0 678.1 L1203.3 680.1 L1202.7 682.1 L1202.0 684.1 L1201.4 686.1 L1200.8 688.1 L1200.2 690.1 L1199.7 692.1 L1199.1 694.1 L1198.6 696.1 L1198.0 698.1 L1197.5 700.1 L1197.0 702.1 L1196.5 704.1 L1196.0 706.1 L1195.5 708.1 L1195.1 710.1 L1194.6 712.1 L1194.2 714.1 L1193.8 716.1 L1193.3 718.1 L1192.9 720.1 L1192.6 722.1 L1192.2 724.1 L1191.8 726.1 L1191.5 728.1 L1191.1 730.1 L1190.8 732.1 L1190.5 734.1 L1190.2 736.1 L1189.9 738.1 L1189.6 740.1 L1189.4 742.1 L1189.1 744.1 L1188.9 746.1 L1188.7 748.1 L1188.5 750.1 L1188.3 752.1 L1188.1 754.1 L1187.9 756.1 L1187.8 758.1 L1187.7 760.1 L1187.5 762.1 L1187.4 764.1 L1187.4 766.1 L1187.3 768.1 L1187.2 770.1 L1187.2 772.1 L1187.1 774.1 L1187.1 776.1 L1187.1 778.1 L1187.2 780.1 L1187.2 782.1 L1187.2 784.1 L1187.3 786.1 L1187.4 788.1 L1187.5 790.1 L1187.6 792.1 L1187.7 794.1 L1187.9 796.1 L1188.0 798.1 L1188.2 800.1 L1188.4 802.1 L1188.6 804.1 L1188.8 806.1 L1189.0 808.1 L1189.3 810.1 L1189.5 812.1 L1189.8 814.1 L1190.1 816.1 L1190.4 818.1 L1190.7 820.1 L1191.0 822.1 L1191.3 824.1 L1191.7 826.1 L1192.0 828.1 L1192.4 830.1 L1192.8 832.1 L1193.2 834.1 L1193.6 836.1 L1194.0 838.1 L1194.5 840.1 L1194.9 842.1 L1195.4 844.1 L1195.8 846.1 L1196.3 848.1 L1196.8 850.1 L1197.3 852.1 L1197.9 854.1 L1198.4 856.1 L1199.0 858.1 L1199.5 860.1 L1200.1 862.1 L1200.7 864.1 L1201.3 866.1 L1201.9 868.1 L1202.5 870.1 L1203.2 872.1 L1203.8 874.1 L1204.5 876.1 L1205.2 878.1 L1205.8 880.1 L1206.5 882.1 L1207.2 884.1 L1207.9 886.1 L1208.6 888.1 L1209.4 890.1 L1210.1 892.1 L1210.8 894.1 L1211.6 896.1 L1212.3 898.1 L1213.1 900.1 L1213.9 902.1 L1214.6 904.1 L1215.4 906.1 L1216.2 908.1 L1217.0 910.1 L1217.8 912.1 L1218.6 914.1 L1219.4 916.1 L1220.2 918.1 L1221.1 920.1 L1221.9 922.1 L1222.7 924.1 L1223.6 926.1 L1224.5 928.1 L1225.3 930.1 L1226.2 932.1 L1227.1 934.1 L1227.9 936.1 L1228.8 938.1 L1229.7 940.1 L1230.6 942.1 L1231.5 944.1 L1232.4 946.1 L1233.4 948.1 L1234.3 950.1 L1235.2 952.1 L1236.1 954.1 L1237.0 956.1 L1238.0 958.1 L1238.9 960.1 L1239.8 962.1 L1240.8 964.1 L1241.7 966.1 L1242.6 968.1 L1243.5 970.1 L1244.5 972.1 L1245.4 974.1 L1246.3 976.1 L1247.3 978.1 L1248.2 980.1 L1249.1 982.1 L1250.1 984.1 L1251.0 986.1 L1251.9 988.1 L1252.9 990.1 L1253.8 992.1 L1254.8 994.1 L1255.7 996.1 L1256.7 998.1 L1257.6 1000.1 L1258.6 1002.1 L1259.5 1004.1 L1260.5 1006.1 L1261.4 1008.1 L1262.4 1010.1 L1263.4 1012.1 L1264.4 1014.1 L1265.4 1016.1 L1266.3 1018.1 L1267.3 1020.1 L1268.3 1022.1 L1269.3 1024.1 L1270.3 1026.1 L1271.3 1028.1 L1272.3 1030.1 L1273.3 1032.1 L1274.3 1034.1 L1275.3 1036.1 L1276.3 1038.1 L1277.3 1040.1 L1278.3 1042.1 L1279.3 1044.1 L1280.3 1046.1 L1281.2 1048.1 L1282.2 1050.1 L1283.1 1052.1 L1284.1 1054.1 L1285.0 1056.1 L1285.9 1058.1 L1286.8 1060.1 L1287.7 1062.1 L1288.6 1064.1 L1289.5 1066.1 L1290.3 1068.1 L1291.2 1070.1 L1292.0 1072.1 L1292.8 1074.1 L1293.6 1076.1 L1294.4 1078.1 L1295.1 1080.1 L1295.9 1082.1 L1296.6 1084.1 L1297.3 1086.1 L1298.0 1088.1 L1298.7 1090.1 L1299.4 1092.1 L1300.0 1094.1 L1300.6 1096.1 L1301.2 1098.1 L1301.8 1100.1 L1302.4 1102.0 L1408.8 1102.0 L1409.4 1100.1 L1410.0 1098.1 L1410.6 1096.1 L1411.2 1094.1 L1411.8 1092.1 L1412.5 1090.1 L1413.2 1088.1 L1413.9 1086.1 L1414.6 1084.1 L1415.3 1082.1 L1416.1 1080.1 L1416.8 1078.1 L1417.6 1076.1 L1418.4 1074.1 L1419.2 1072.1 L1420.0 1070.1 L1420.9 1068.1 L1421.7 1066.1 L1422.6 1064.1 L1423.5 1062.1 L1424.4 1060.1 L1425.3 1058.1 L1426.2 1056.1 L1427.1 1054.1 L1428.1 1052.1 L1429.0 1050.1 L1430.0 1048.1 L1430.9 1046.1 L1431.9 1044.1 L1432.9 1042.1 L1433.9 1040.1 L1434.9 1038.1 L1435.9 1036.1 L1436.9 1034.1 L1437.9 1032.1 L1438.9 1030.1 L1439.9 1028.1 L1440.9 1026.1 L1441.9 1024.1 L1442.9 1022.1 L1443.9 1020.1 L1444.9 1018.1 L1445.8 1016.1 L1446.8 1014.1 L1447.8 1012.1 L1448.8 1010.1 L1449.8 1008.1 L1450.7 1006.1 L1451.7 1004.1 L1452.6 1002.1 L1453.6 1000.1 L1454.5 998.1 L1455.5 996.1 L1456.4 994.1 L1457.4 992.1 L1458.3 990.1 L1459.3 988.1 L1460.2 986.1 L1461.1 984.1 L1462.1 982.1 L1463.0 980.1 L1463.9 978.1 L1464.9 976.1 L1465.8 974.1 L1466.7 972.1 L1467.7 970.1 L1468.6 968.1 L1469.5 966.1 L1470.4 964.1 L1471.4 962.1 L1472.3 960.1 L1473.2 958.1 L1474.2 956.1 L1475.1 954.1 L1476.0 952.1 L1476.9 950.1 L1477.8 948.1 L1478.8 946.1 L1479.7 944.1 L1480.6 942.1 L1481.5 940.1 L1482.4 938.1 L1483.3 936.1 L1484.1 934.1 L1485.0 932.1 L1485.9 930.1 L1486.7 928.1 L1487.6 926.1 L1488.5 924.1 L1489.3 922.1 L1490.1 920.1 L1491.0 918.1 L1491.8 916.1 L1492.6 914.1 L1493.4 912.1 L1494.2 910.1 L1495.0 908.1 L1495.8 906.1 L1496.6 904.1 L1497.3 902.1 L1498.1 900.1 L1498.9 898.1 L1499.6 896.1 L1500.4 894.1 L1501.1 892.1 L1501.8 890.1 L1502.6 888.1 L1503.3 886.1 L1504.0 884.1 L1504.7 882.1 L1505.4 880.1 L1506.0 878.1 L1506.7 876.1 L1507.4 874.1 L1508.0 872.1 L1508.7 870.1 L1509.3 868.1 L1509.9 866.1 L1510.5 864.1 L1511.1 862.1 L1511.7 860.1 L1512.2 858.1 L1512.8 856.1 L1513.3 854.1 L1513.9 852.1 L1514.4 850.1 L1514.9 848.1 L1515.4 846.1 L1515.8 844.1 L1516.3 842.1 L1516.7 840.1 L1517.2 838.1 L1517.6 836.1 L1518.0 834.1 L1518.4 832.1 L1518.8 830.1 L1519.2 828.1 L1519.5 826.1 L1519.9 824.1 L1520.2 822.1 L1520.5 820.1 L1520.8 818.1 L1521.1 816.1 L1521.4 814.1 L1521.7 812.1 L1521.9 810.1 L1522.2 808.1 L1522.4 806.1 L1522.6 804.1 L1522.8 802.1 L1523.0 800.1 L1523.2 798.1 L1523.3 796.1 L1523.5 794.1 L1523.6 792.1 L1523.7 790.1 L1523.8 788.1 L1523.9 786.1 L1524.0 784.1 L1524.0 782.1 L1524.0 780.1 L1524.1 778.1 L1524.1 776.1 L1524.1 774.1 L1524.0 772.1 L1524.0 770.1 L1523.9 768.1 L1523.8 766.1 L1523.8 764.1 L1523.7 762.1 L1523.5 760.1 L1523.4 758.1 L1523.3 756.1 L1523.1 754.1 L1522.9 752.1 L1522.7 750.1 L1522.5 748.1 L1522.3 746.1 L1522.1 744.1 L1521.8 742.1 L1521.6 740.1 L1521.3 738.1 L1521.0 736.1 L1520.7 734.1 L1520.4 732.1 L1520.1 730.1 L1519.7 728.1 L1519.4 726.1 L1519.0 724.1 L1518.6 722.1 L1518.3 720.1 L1517.9 718.1 L1517.4 716.1 L1517.0 714.1 L1516.6 712.1 L1516.1 710.1 L1515.7 708.1 L1515.2 706.1 L1514.7 704.1 L1514.2 702.1 L1513.7 700.1 L1513.2 698.1 L1512.6 696.1 L1512.1 694.1 L1511.5 692.1 L1511.0 690.1 L1510.4 688.1 L1509.8 686.1 L1509.2 684.1 L1508.5 682.1 L1507.9 680.1 L1507.2 678.1 L1506.6 676.1 L1505.9 674.1 L1505.2 672.1 L1504.5 670.1 L1503.8 668.1 L1503.1 666.1 L1502.4 664.1 L1501.6 662.1 L1500.9 660.1 L1500.1 658.1 L1499.3 656.1 L1498.6 654.1 L1497.8 652.1 L1497.0 650.1 L1496.1 648.1 L1495.3 646.1 L1494.5 644.1 L1493.6 642.1 L1492.8 640.1 L1491.9 638.1 L1491.1 636.1 L1490.2 634.1 L1489.3 632.1 L1488.4 630.1 L1487.5 628.1 L1486.6 626.1 L1485.7 624.1 L1484.8 622.1 L1483.9 620.1 L1483.0 618.1 L1482.0 616.1 L1481.1 614.1 L1480.2 612.1 L1479.2 610.1 L1478.3 608.1 L1477.4 606.1 L1476.4 604.1 L1475.5 602.1 L1474.5 600.1 L1473.6 598.1 L1472.7 596.1 L1471.7 594.1 L1470.8 592.1 L1469.8 590.1 L1468.9 588.1 L1467.9 586.1 L1467.0 584.1 L1466.0 582.1 L1465.1 580.1 L1464.1 578.1 L1463.2 576.1 L1462.2 574.1 L1461.3 572.1 L1460.3 570.1 L1459.4 568.1 L1458.4 566.1 L1457.5 564.1 L1456.5 562.1 L1455.6 560.1 L1454.6 558.1 L1453.7 556.1 L1452.7 554.1 L1451.8 552.1 L1450.8 550.1 L1449.9 548.1 L1448.9 546.1 L1448.0 544.1 L1447.1 542.1 L1446.1 540.1 L1445.2 538.1 L1444.2 536.1 L1443.3 534.1 L1442.4 532.1 L1441.5 530.1 L1440.5 528.1 L1439.6 526.1 L1438.7 524.1 L1437.8 522.1 L1436.9 520.1 L1436.0 518.1 L1435.1 516.1 L1434.2 514.1 L1433.3 512.1 L1432.5 510.1 L1431.6 508.1 L1430.7 506.1 L1429.9 504.1 L1429.0 502.1 L1428.2 500.1 L1427.3 498.1 L1426.5 496.1 L1425.7 494.1 L1424.8 492.1 L1424.0 490.1 L1423.2 488.1 L1422.3 486.1 L1421.5 484.1 L1420.7 482.1 L1419.9 480.1 L1419.1 478.1 L1418.3 476.1 L1417.5 474.1 L1416.7 472.1 L1415.9 470.1 L1415.1 468.1 L1414.3 466.1 L1413.5 464.1 L1412.7 462.1 L1411.9 460.1 L1411.1 458.1 L1410.3 456.1 L1409.6 454.1 L1408.8 452.1 L1408.0 450.1 L1407.2 448.1 L1406.5 446.1 L1405.7 444.1 L1405.0 442.1 L1404.2 440.1 L1403.5 438.1 L1402.7 436.1 L1402.0 434.1 L1401.3 432.1 L1400.6 430.1 L1399.9 428.1 L1399.2 426.1 L1398.5 424.1 L1397.8 422.1 L1397.1 420.1 L1396.5 418.1 L1395.8 416.1 L1395.2 414.1 L1394.6 412.1 L1393.9 410.1 L1393.3 408.1 L1392.7 406.1 L1392.1 404.1 L1391.5 402.1 L1391.0 400.1 L1390.4 398.1 L1389.8 396.1 L1389.3 394.1 L1388.7 392.1 L1388.2 390.1 L1387.7 388.1 L1387.2 386.1 L1386.6 384.1 L1386.1 382.1 L1385.7 380.1 L1385.2 378.1 L1384.7 376.1 L1384.2 374.1 L1383.8 372.1 L1383.3 370.1 L1382.8 368.1 L1382.4 366.1 L1382.0 364.1 L1381.5 362.1 L1381.1 360.1 L1380.7 358.1 L1380.3 356.1 L1379.9 354.1 L1379.5 352.1 L1379.1 350.1 L1378.7 348.1 L1378.3 346.1 L1377.9 344.1 L1377.5 342.1 L1377.2 340.1 L1376.8 338.1 L1376.5 336.1 L1376.1 334.1 L1375.8 332.1 L1375.5 330.1 L1375.1 328.1 L1374.8 326.1 L1374.5 324.1 L1374.2 322.1 L1373.9 320.1 L1373.6 318.1 L1373.3 316.1 L1373.0 314.1 L1372.8 312.1 L1372.5 310.1 L1372.2 308.1 L1372.0 306.1 L1371.7 304.1 L1371.5 302.1 L1371.3 300.1 L1371.0 298.1 L1370.8 296.1 L1370.6 294.1 L1370.4 292.1 L1370.1 290.1 L1369.9 288.1 L1369.7 286.1 L1369.5 284.1 L1369.3 282.1 L1369.1 280.1 L1368.9 278.1 L1368.8 276.1 L1368.6 274.1 L1368.4 272.1 L1368.2 270.1 L1368.0 268.1 L1367.8 266.1 L1367.6 264.1 L1367.5 262.1 L1367.3 260.1 L1367.1 258.1 L1366.9 256.1 L1366.8 254.1 L1366.6 252.1 L1366.4 250.1 L1366.2 248.1 L1366.1 246.1 L1365.9 244.1 L1365.7 242.1 L1365.6 240.1 L1365.4 238.1 L1365.2 236.1 L1365.1 234.1 L1364.9 232.1 L1364.7 230.1 L1364.6 228.1 L1364.4 226.1 L1364.2 224.1 L1364.1 222.1 L1363.9 220.1 L1363.8 218.1 L1363.6 216.1 L1363.5 214.1 L1363.4 212.1 L1363.2 210.1 L1363.1 208.1 L1363.0 206.1 L1362.8 204.1 L1362.7 202.1 L1362.6 200.1 L1362.4 198.1 L1362.3 196.1 L1362.2 194.1 L1362.1 192.1 L1362.0 190.1 L1361.9 188.1 L1361.8 186.1 L1361.7 184.1 L1361.6 182.1 L1361.5 180.1 L1361.4 178.1 L1361.3 176.1 L1361.2 174.1 L1361.1 172.1 L1361.1 170.1 L1361.0 168.1 L1360.9 166.1 L1360.8 164.1 L1360.8 162.1 L1360.7 160.1 L1360.6 158.1 L1360.6 156.1 L1360.5 154.1 L1360.5 152.1 L1360.4 150.1 L1360.4 148.1 L1360.3 146.1 L1360.3 144.1 L1360.2 142.1 L1360.2 140.1 L1360.2 138.1 L1360.1 136.1 L1360.1 134.1 Z" fill="#FFEDBA" stroke="#FFEDBA" stroke-width="1" stroke-linejoin="round"/>
<line x1="1295.2" y1="230.5" x2="1416.0" y2="230.5" stroke="#404040" stroke-width="4.5" stroke-linecap="round"/>
<line x1="1295.2" y1="1006.1" x2="1416.0" y2="1006.1" stroke="#404040" stroke-width="4.5" stroke-linecap="round"/>
<path d="M1351.1 134.1 L1351.1 136.1 L1351.0 138.1 L1351.0 140.1 L1351.0 142.1 L1350.9 144.1 L1350.9 146.1 L1350.8 148.1 L1350.8 150.1 L1350.7 152.1 L1350.7 154.1 L1350.6 156.1 L1350.6 158.1 L1350.5 160.1 L1350.4 162.1 L1350.4 164.1 L1350.3 166.1 L1350.2 168.1 L1350.1 170.1 L1350.1 172.1 L1350.0 174.1 L1349.9 176.1 L1349.8 178.1 L1349.7 180.1 L1349.6 182.1 L1349.5 184.1 L1349.4 186.1 L1349.3 188.1 L1349.2 190.1 L1349.1 192.1 L1349.0 194.1 L1348.9 196.1 L1348.8 198.1 L1348.6 200.1 L1348.5 202.1 L1348.4 204.1 L1348.2 206.1 L1348.1 208.1 L1348.0 210.1 L1347.8 212.1 L1347.7 214.1 L1347.6 216.1 L1347.4 218.1 L1347.3 220.1 L1347.1 222.1 L1347.0 224.1 L1346.8 226.1 L1346.6 228.1 L1346.5 230.1 L1346.3 232.1 L1346.1 234.1 L1346.0 236.1 L1345.8 238.1 L1345.6 240.1 L1345.5 242.1 L1345.3 244.1 L1345.1 246.1 L1345.0 248.1 L1344.8 250.1 L1344.6 252.1 L1344.4 254.1 L1344.3 256.1 L1344.1 258.1 L1343.9 260.1 L1343.7 262.1 L1343.6 264.1 L1343.4 266.1 L1343.2 268.1 L1343.0 270.1 L1342.8 272.1 L1342.6 274.1 L1342.4 276.1 L1342.3 278.1 L1342.1 280.1 L1341.9 282.1 L1341.7 284.1 L1341.5 286.1 L1341.3 288.1 L1341.1 290.1 L1340.8 292.1 L1340.6 294.1 L1340.4 296.1 L1340.2 298.1 L1339.9 300.1 L1339.7 302.1 L1339.5 304.1 L1339.2 306.1 L1339.0 308.1 L1338.7 310.1 L1338.4 312.1 L1338.2 314.1 L1337.9 316.1 L1337.6 318.1 L1337.3 320.1 L1337.0 322.1 L1336.7 324.1 L1336.4 326.1 L1336.1 328.1 L1335.7 330.1 L1335.4 332.1 L1335.1 334.1 L1334.7 336.1 L1334.4 338.1 L1334.0 340.1 L1333.7 342.1 L1333.3 344.1 L1332.9 346.1 L1332.5 348.1 L1332.1 350.1 L1331.7 352.1 L1331.3 354.1 L1330.9 356.1 L1330.5 358.1 L1330.1 360.1 L1329.7 362.1 L1329.2 364.1 L1328.8 366.1 L1328.4 368.1 L1327.9 370.1 L1327.4 372.1 L1327.0 374.1 L1326.5 376.1 L1326.0 378.1 L1325.5 380.1 L1325.1 382.1 L1324.6 384.1 L1324.0 386.1 L1323.5 388.1 L1323.0 390.1 L1322.5 392.1 L1321.9 394.1 L1321.4 396.1 L1320.8 398.1 L1320.2 400.1 L1319.7 402.1 L1319.1 404.1 L1318.5 406.1 L1317.9 408.1 L1317.3 410.1 L1316.6 412.1 L1316.0 414.1 L1315.4 416.1 L1314.7 418.1 L1314.1 420.1 L1313.4 422.1 L1312.7 424.1 L1312.0 426.1 L1311.3 428.1 L1310.6 430.1 L1309.9 432.1 L1309.2 434.1 L1308.5 436.1 L1307.7 438.1 L1307.0 440.1 L1306.2 442.1 L1305.5 444.1 L1304.7 446.1 L1304.0 448.1 L1303.2 450.1 L1302.4 452.1 L1301.6 454.1 L1300.9 456.1 L1300.1 458.1 L1299.3 460.1 L1298.5 462.1 L1297.7 464.1 L1296.9 466.1 L1296.1 468.1 L1295.3 470.1 L1294.5 472.1 L1293.7 474.1 L1292.9 476.1 L1292.1 478.1 L1291.3 480.1 L1290.5 482.1 L1289.7 484.1 L1288.9 486.1 L1288.0 488.1 L1287.2 490.1 L1286.4 492.1 L1285.5 494.1 L1284.7 496.1 L1283.9 498.1 L1283.0 500.1 L1282.2 502.1 L1281.3 504.1 L1280.5 506.1 L1279.6 508.1 L1278.7 510.1 L1277.9 512.1 L1277.0 514.1 L1276.1 516.1 L1275.2 518.1 L1274.3 520.1 L1273.4 522.1 L1272.5 524.1 L1271.6 526.1 L1270.7 528.1 L1269.7 530.1 L1268.8 532.1 L1267.9 534.1 L1267.0 536.1 L1266.0 538.1 L1265.1 540.1 L1264.1 542.1 L1263.2 544.1 L1262.3 546.1 L1261.3 548.1 L1260.4 550.1 L1259.4 552.1 L1258.5 554.1 L1257.5 556.1 L1256.6 558.1 L1255.6 560.1 L1254.7 562.1 L1253.7 564.1 L1252.8 566.1 L1251.8 568.1 L1250.9 570.1 L1249.9 572.1 L1249.0 574.1 L1248.0 576.1 L1247.1 578.1 L1246.1 580.1 L1245.2 582.1 L1244.2 584.1 L1243.3 586.1 L1242.3 588.1 L1241.4 590.1 L1240.4 592.1 L1239.5 594.1 L1238.5 596.1 L1237.6 598.1 L1236.7 600.1 L1235.7 602.1 L1234.8 604.1 L1233.8 606.1 L1232.9 608.1 L1232.0 610.1 L1231.0 612.1 L1230.1 614.1 L1229.2 616.1 L1228.2 618.1 L1227.3 620.1 L1226.4 622.1 L1225.5 624.1 L1224.6 626.1 L1223.7 628.1 L1222.8 630.1 L1221.9 632.1 L1221.0 634.1 L1220.1 636.1 L1219.3 638.1 L1218.4 640.1 L1217.6 642.1 L1216.7 644.1 L1215.9 646.1 L1215.1 648.1 L1214.2 650.1 L1213.4 652.1 L1212.6 654.1 L1211.9 656.1 L1211.1 658.1 L1210.3 660.1 L1209.6 662.1 L1208.8 664.1 L1208.1 666.1 L1207.4 668.1 L1206.7 670.1 L1206.0 672.1 L1205.3 674.1 L1204.6 676.1 L1204.0 678.1 L1203.3 680.1 L1202.7 682.1 L1202.0 684.1 L1201.4 686.1 L1200.8 688.1 L1200.2 690.1 L1199.7 692.1 L1199.1 694.1 L1198.6 696.1 L1198.0 698.1 L1197.5 700.1 L1197.0 702.1 L1196.5 704.1 L1196.0 706.1 L1195.5 708.1 L1195.1 710.1 L1194.6 712.1 L1194.2 714.1 L1193.8 716.1 L1193.3 718.1 L1192.9 720.1 L1192.6 722.1 L1192.2 724.1 L1191.8 726.1 L1191.5 728.1 L1191.1 730.1 L1190.8 732.1 L1190.5 734.1 L1190.2 736.1 L1189.9 738.1 L1189.6 740.1 L1189.4 742.1 L1189.1 744.1 L1188.9 746.1 L1188.7 748.1 L1188.5 750.1 L1188.3 752.1 L1188.1 754.1 L1187.9 756.1 L1187.8 758.1 L1187.7 760.1 L1187.5 762.1 L1187.4 764.1 L1187.4 766.1 L1187.3 768.1 L1187.2 770.1 L1187.2 772.1 L1187.1 774.1 L1187.1 776.1 L1187.1 778.1 L1187.2 780.1 L1187.2 782.1 L1187.2 784.1 L1187.3 786.1 L1187.4 788.1 L1187.5 790.1 L1187.6 792.1 L1187.7 794.1 L1187.9 796.1 L1188.0 798.1 L1188.2 800.1 L1188.4 802.1 L1188.6 804.1 L1188.8 806.1 L1189.0 808.1 L1189.3 810.1 L1189.5 812.1 L1189.8 814.1 L1190.1 816.1 L1190.4 818.1 L1190.7 820.1 L1191.0 822.1 L1191.3 824.1 L1191.7 826.1 L1192.0 828.1 L1192.4 830.1 L1192.8 832.1 L1193.2 834.1 L1193.6 836.1 L1194.0 838.1 L1194.5 840.1 L1194.9 842.1 L1195.4 844.1 L1195.8 846.1 L1196.3 848.1 L1196.8 850.1 L1197.3 852.1 L1197.9 854.1 L1198.4 856.1 L1199.0 858.1 L1199.5 860.1 L1200.1 862.1 L1200.7 864.1 L1201.3 866.1 L1201.9 868.1 L1202.5 870.1 L1203.2 872.1 L1203.8 874.1 L1204.5 876.1 L1205.2 878.1 L1205.8 880.1 L1206.5 882.1 L1207.2 884.1 L1207.9 886.1 L1208.6 888.1 L1209.4 890.1 L1210.1 892.1 L1210.8 894.1 L1211.6 896.1 L1212.3 898.1 L1213.1 900.1 L1213.9 902.1 L1214.6 904.1 L1215.4 906.1 L1216.2 908.1 L1217.0 910.1 L1217.8 912.1 L1218.6 914.1 L1219.4 916.1 L1220.2 918.1 L1221.1 920.1 L1221.9 922.1 L1222.7 924.1 L1223.6 926.1 L1224.5 928.1 L1225.3 930.1 L1226.2 932.1 L1227.1 934.1 L1227.9 936.1 L1228.8 938.1 L1229.7 940.1 L1230.6 942.1 L1231.5 944.1 L1232.4 946.1 L1233.4 948.1 L1234.3 950.1 L1235.2 952.1 L1236.1 954.1 L1237.0 956.1 L1238.0 958.1 L1238.9 960.1 L1239.8 962.1 L1240.8 964.1 L1241.7 966.1 L1242.6 968.1 L1243.5 970.1 L1244.5 972.1 L1245.4 974.1 L1246.3 976.1 L1247.3 978.1 L1248.2 980.1 L1249.1 982.1 L1250.1 984.1 L1251.0 986.1 L1251.9 988.1 L1252.9 990.1 L1253.8 992.1 L1254.8 994.1 L1255.7 996.1 L1256.7 998.1 L1257.6 1000.1 L1258.6 1002.1 L1259.5 1004.1 L1260.5 1006.1 L1261.4 1008.1 L1262.4 1010.1 L1263.4 1012.1 L1264.4 1014.1 L1265.4 1016.1 L1266.3 1018.1 L1267.3 1020.1 L1268.3 1022.1 L1269.3 1024.1 L1270.3 1026.1 L1271.3 1028.1 L1272.3 1030.1 L1273.3 1032.1 L1274.3 1034.1 L1275.3 1036.1 L1276.3 1038.1 L1277.3 1040.1 L1278.3 1042.1 L1279.3 1044.1 L1280.3 1046.1 L1281.2 1048.1 L1282.2 1050.1 L1283.1 1052.1 L1284.1 1054.1 L1285.0 1056.1 L1285.9 1058.1 L1286.8 1060.1 L1287.7 1062.1 L1288.6 1064.1 L1289.5 1066.1 L1290.3 1068.1 L1291.2 1070.1 L1292.0 1072.1 L1292.8 1074.1 L1293.6 1076.1 L1294.4 1078.1 L1295.1 1080.1 L1295.9 1082.1 L1296.6 1084.1 L1297.3 1086.1 L1298.0 1088.1 L1298.7 1090.1 L1299.4 1092.1 L1300.0 1094.1 L1300.6 1096.1 L1301.2 1098.1 L1301.8 1100.1 L1302.4 1102.0 L1408.8 1102.0 L1409.4 1100.1 L1410.0 1098.1 L1410.6 1096.1 L1411.2 1094.1 L1411.8 1092.1 L1412.5 1090.1 L1413.2 1088.1 L1413.9 1086.1 L1414.6 1084.1 L1415.3 1082.1 L1416.1 1080.1 L1416.8 1078.1 L1417.6 1076.1 L1418.4 1074.1 L1419.2 1072.1 L1420.0 1070.1 L1420.9 1068.1 L1421.7 1066.1 L1422.6 1064.1 L1423.5 1062.1 L1424.4 1060.1 L1425.3 1058.1 L1426.2 1056.1 L1427.1 1054.1 L1428.1 1052.1 L1429.0 1050.1 L1430.0 1048.1 L1430.9 1046.1 L1431.9 1044.1 L1432.9 1042.1 L1433.9 1040.1 L1434.9 1038.1 L1435.9 1036.1 L1436.9 1034.1 L1437.9 1032.1 L1438.9 1030.1 L1439.9 1028.1 L1440.9 1026.1 L1441.9 1024.1 L1442.9 1022.1 L1443.9 1020.1 L1444.9 1018.1 L1445.8 1016.1 L1446.8 1014.1 L1447.8 1012.1 L1448.8 1010.1 L1449.8 1008.1 L1450.7 1006.1 L1451.7 1004.1 L1452.6 1002.1 L1453.6 1000.1 L1454.5 998.1 L1455.5 996.1 L1456.4 994.1 L1457.4 992.1 L1458.3 990.1 L1459.3 988.1 L1460.2 986.1 L1461.1 984.1 L1462.1 982.1 L1463.0 980.1 L1463.9 978.1 L1464.9 976.1 L1465.8 974.1 L1466.7 972.1 L1467.7 970.1 L1468.6 968.1 L1469.5 966.1 L1470.4 964.1 L1471.4 962.1 L1472.3 960.1 L1473.2 958.1 L1474.2 956.1 L1475.1 954.1 L1476.0 952.1 L1476.9 950.1 L1477.8 948.1 L1478.8 946.1 L1479.7 944.1 L1480.6 942.1 L1481.5 940.1 L1482.4 938.1 L1483.3 936.1 L1484.1 934.1 L1485.0 932.1 L1485.9 930.1 L1486.7 928.1 L1487.6 926.1 L1488.5 924.1 L1489.3 922.1 L1490.1 920.1 L1491.0 918.1 L1491.8 916.1 L1492.6 914.1 L1493.4 912.1 L1494.2 910.1 L1495.0 908.1 L1495.8 906.1 L1496.6 904.1 L1497.3 902.1 L1498.1 900.1 L1498.9 898.1 L1499.6 896.1 L1500.4 894.1 L1501.1 892.1 L1501.8 890.1 L1502.6 888.1 L1503.3 886.1 L1504.0 884.1 L1504.7 882.1 L1505.4 880.1 L1506.0 878.1 L1506.7 876.1 L1507.4 874.1 L1508.0 872.1 L1508.7 870.1 L1509.3 868.1 L1509.9 866.1 L1510.5 864.1 L1511.1 862.1 L1511.7 860.1 L1512.2 858.1 L1512.8 856.1 L1513.3 854.1 L1513.9 852.1 L1514.4 850.1 L1514.9 848.1 L1515.4 846.1 L1515.8 844.1 L1516.3 842.1 L1516.7 840.1 L1517.2 838.1 L1517.6 836.1 L1518.0 834.1 L1518.4 832.1 L1518.8 830.1 L1519.2 828.1 L1519.5 826.1 L1519.9 824.1 L1520.2 822.1 L1520.5 820.1 L1520.8 818.1 L1521.1 816.1 L1521.4 814.1 L1521.7 812.1 L1521.9 810.1 L1522.2 808.1 L1522.4 806.1 L1522.6 804.1 L1522.8 802.1 L1523.0 800.1 L1523.2 798.1 L1523.3 796.1 L1523.5 794.1 L1523.6 792.1 L1523.7 790.1 L1523.8 788.1 L1523.9 786.1 L1524.0 784.1 L1524.0 782.1 L1524.0 780.1 L1524.1 778.1 L1524.1 776.1 L1524.1 774.1 L1524.0 772.1 L1524.0 770.1 L1523.9 768.1 L1523.8 766.1 L1523.8 764.1 L1523.7 762.1 L1523.5 760.1 L1523.4 758.1 L1523.3 756.1 L1523.1 754.1 L1522.9 752.1 L1522.7 750.1 L1522.5 748.1 L1522.3 746.1 L1522.1 744.1 L1521.8 742.1 L1521.6 740.1 L1521.3 738.1 L1521.0 736.1 L1520.7 734.1 L1520.4 732.1 L1520.1 730.1 L1519.7 728.1 L1519.4 726.1 L1519.0 724.1 L1518.6 722.1 L1518.3 720.1 L1517.9 718.1 L1517.4 716.1 L1517.0 714.1 L1516.6 712.1 L1516.1 710.1 L1515.7 708.1 L1515.2 706.1 L1514.7 704.1 L1514.2 702.1 L1513.7 700.1 L1513.2 698.1 L1512.6 696.1 L1512.1 694.1 L1511.5 692.1 L1511.0 690.1 L1510.4 688.1 L1509.8 686.1 L1509.2 684.1 L1508.5 682.1 L1507.9 680.1 L1507.2 678.1 L1506.6 676.1 L1505.9 674.1 L1505.2 672.1 L1504.5 670.1 L1503.8 668.1 L1503.1 666.1 L1502.4 664.1 L1501.6 662.1 L1500.9 660.1 L1500.1 658.1 L1499.3 656.1 L1498.6 654.1 L1497.8 652.1 L1497.0 650.1 L1496.1 648.1 L1495.3 646.1 L1494.5 644.1 L1493.6 642.1 L1492.8 640.1 L1491.9 638.1 L1491.1 636.1 L1490.2 634.1 L1489.3 632.1 L1488.4 630.1 L1487.5 628.1 L1486.6 626.1 L1485.7 624.1 L1484.8 622.1 L1483.9 620.1 L1483.0 618.1 L1482.0 616.1 L1481.1 614.1 L1480.2 612.1 L1479.2 610.1 L1478.3 608.1 L1477.4 606.1 L1476.4 604.1 L1475.5 602.1 L1474.5 600.1 L1473.6 598.1 L1472.7 596.1 L1471.7 594.1 L1470.8 592.1 L1469.8 590.1 L1468.9 588.1 L1467.9 586.1 L1467.0 584.1 L1466.0 582.1 L1465.1 580.1 L1464.1 578.1 L1463.2 576.1 L1462.2 574.1 L1461.3 572.1 L1460.3 570.1 L1459.4 568.1 L1458.4 566.1 L1457.5 564.1 L1456.5 562.1 L1455.6 560.1 L1454.6 558.1 L1453.7 556.1 L1452.7 554.1 L1451.8 552.1 L1450.8 550.1 L1449.9 548.1 L1448.9 546.1 L1448.0 544.1 L1447.1 542.1 L1446.1 540.1 L1445.2 538.1 L1444.2 536.1 L1443.3 534.1 L1442.4 532.1 L1441.5 530.1 L1440.5 528.1 L1439.6 526.1 L1438.7 524.1 L1437.8 522.1 L1436.9 520.1 L1436.0 518.1 L1435.1 516.1 L1434.2 514.1 L1433.3 512.1 L1432.5 510.1 L1431.6 508.1 L1430.7 506.1 L1429.9 504.1 L1429.0 502.1 L1428.2 500.1 L1427.3 498.1 L1426.5 496.1 L1425.7 494.1 L1424.8 492.1 L1424.0 490.1 L1423.2 488.1 L1422.3 486.1 L1421.5 484.1 L1420.7 482.1 L1419.9 480.1 L1419.1 478.1 L1418.3 476.1 L1417.5 474.1 L1416.7 472.1 L1415.9 470.1 L1415.1 468.1 L1414.3 466.1 L1413.5 464.1 L1412.7 462.1 L1411.9 460.1 L1411.1 458.1 L1410.3 456.1 L1409.6 454.1 L1408.8 452.1 L1408.0 450.1 L1407.2 448.1 L1406.5 446.1 L1405.7 444.1 L1405.0 442.1 L1404.2 440.1 L1403.5 438.1 L1402.7 436.1 L1402.0 434.1 L1401.3 432.1 L1400.6 430.1 L1399.9 428.1 L1399.2 426.1 L1398.5 424.1 L1397.8 422.1 L1397.1 420.1 L1396.5 418.1 L1395.8 416.1 L1395.2 414.1 L1394.6 412.1 L1393.9 410.1 L1393.3 408.1 L1392.7 406.1 L1392.1 404.1 L1391.5 402.1 L1391.0 400.1 L1390.4 398.1 L1389.8 396.1 L1389.3 394.1 L1388.7 392.1 L1388.2 390.1 L1387.7 388.1 L1387.2 386.1 L1386.6 384.1 L1386.1 382.1 L1385.7 380.1 L1385.2 378.1 L1384.7 376.1 L1384.2 374.1 L1383.8 372.1 L1383.3 370.1 L1382.8 368.1 L1382.4 366.1 L1382.0 364.1 L1381.5 362.1 L1381.1 360.1 L1380.7 358.1 L1380.3 356.1 L1379.9 354.1 L1379.5 352.1 L1379.1 350.1 L1378.7 348.1 L1378.3 346.1 L1377.9 344.1 L1377.5 342.1 L1377.2 340.1 L1376.8 338.1 L1376.5 336.1 L1376.1 334.1 L1375.8 332.1 L1375.5 330.1 L1375.1 328.1 L1374.8 326.1 L1374.5 324.1 L1374.2 322.1 L1373.9 320.1 L1373.6 318.1 L1373.3 316.1 L1373.0 314.1 L1372.8 312.1 L1372.5 310.1 L1372.2 308.1 L1372.0 306.1 L1371.7 304.1 L1371.5 302.1 L1371.3 300.1 L1371.0 298.1 L1370.8 296.1 L1370.6 294.1 L1370.4 292.1 L1370.1 290.1 L1369.9 288.1 L1369.7 286.1 L1369.5 284.1 L1369.3 282.1 L1369.1 280.1 L1368.9 278.1 L1368.8 276.1 L1368.6 274.1 L1368.4 272.1 L1368.2 270.1 L1368.0 268.1 L1367.8 266.1 L1367.6 264.1 L1367.5 262.1 L1367.3 260.1 L1367.1 258.1 L1366.9 256.1 L1366.8 254.1 L1366.6 252.1 L1366.4 250.1 L1366.2 248.1 L1366.1 246.1 L1365.9 244.1 L1365.7 242.1 L1365.6 240.1 L1365.4 238.1 L1365.2 236.1 L1365.1 234.1 L1364.9 232.1 L1364.7 230.1 L1364.6 228.1 L1364.4 226.1 L1364.2 224.1 L1364.1 222.1 L1363.9 220.1 L1363.8 218.1 L1363.6 216.1 L1363.5 214.1 L1363.4 212.1 L1363.2 210.1 L1363.1 208.1 L1363.0 206.1 L1362.8 204.1 L1362.7 202.1 L1362.6 200.1 L1362.4 198.1 L1362.3 196.1 L1362.2 194.1 L1362.1 192.1 L1362.0 190.1 L1361.9 188.1 L1361.8 186.1 L1361.7 184.1 L1361.6 182.1 L1361.5 180.1 L1361.4 178.1 L1361.3 176.1 L1361.2 174.1 L1361.1 172.1 L1361.1 170.1 L1361.0 168.1 L1360.9 166.1 L1360.8 164.1 L1360.8 162.1 L1360.7 160.1 L1360.6 158.1 L1360.6 156.1 L1360.5 154.1 L1360.5 152.1 L1360.4 150.1 L1360.4 148.1 L1360.3 146.1 L1360.3 144.1 L1360.2 142.1 L1360.2 140.1 L1360.2 138.1 L1360.1 136.1 L1360.1 134.1 Z" fill="none" stroke="#FFEDBA" stroke-width="9.8" clip-path="url(#vc2)"/>
<line x1="1355.6" y1="228.3" x2="1355.6" y2="1008.3" stroke="#404040" stroke-width="4.7"/>
<rect x="1256.0" y="598.7" width="199.2" height="333.9" fill="#FFC517" stroke="#404040" stroke-width="4.8" stroke-linejoin="round"/>
<circle cx="1355.1" cy="885.0" r="6.5" fill="#fff" stroke="#333" stroke-width="1"/>
<line x1="1255.8" y1="778.4" x2="1456.3" y2="778.4" stroke="#000" stroke-width="6.0" stroke-linecap="round"/>
</g>
<g>
<path d="M1766.9 396.0 L1766.8 398.0 L1766.8 400.0 L1766.7 402.0 L1766.6 404.0 L1766.6 406.0 L1766.5 408.0 L1766.4 410.0 L1766.3 412.0 L1766.3 414.0 L1766.2 416.0 L1766.1 418.0 L1766.0 420.0 L1765.9 422.0 L1765.8 424.0 L1765.7 426.0 L1765.7 428.0 L1765.6 430.0 L1765.5 432.0 L1765.3 434.0 L1765.2 436.0 L1765.1 438.0 L1765.0 440.0 L1764.9 442.0 L1764.8 444.0 L1764.7 446.0 L1764.5 448.0 L1764.4 450.0 L1764.3 452.0 L1764.1 454.0 L1764.0 456.0 L1763.9 458.0 L1763.7 460.0 L1763.6 462.0 L1763.4 464.0 L1763.3 466.0 L1763.1 468.0 L1762.9 470.0 L1762.8 472.0 L1762.6 474.0 L1762.4 476.0 L1762.2 478.0 L1762.0 480.0 L1761.8 482.0 L1761.6 484.0 L1761.4 486.0 L1761.2 488.0 L1761.0 490.0 L1760.8 492.0 L1760.6 494.0 L1760.3 496.0 L1760.1 498.0 L1759.8 500.0 L1759.6 502.0 L1759.3 504.0 L1759.1 506.0 L1758.8 508.0 L1758.5 510.0 L1758.2 512.0 L1757.9 514.0 L1757.6 516.0 L1757.3 518.0 L1757.0 520.0 L1756.6 522.0 L1756.3 524.0 L1756.0 526.0 L1755.6 528.0 L1755.2 530.0 L1754.8 532.0 L1754.5 534.0 L1754.0 536.0 L1753.6 538.0 L1753.2 540.0 L1752.8 542.0 L1752.3 544.0 L1751.9 546.0 L1751.4 548.0 L1750.9 550.0 L1750.4 552.0 L1749.9 554.0 L1749.4 556.0 L1748.9 558.0 L1748.3 560.0 L1747.8 562.0 L1747.2 564.0 L1746.7 566.0 L1746.1 568.0 L1745.5 570.0 L1744.9 572.0 L1744.3 574.0 L1743.6 576.0 L1743.0 578.0 L1742.3 580.0 L1741.7 582.0 L1741.0 584.0 L1740.3 586.0 L1739.6 588.0 L1738.9 590.0 L1738.2 592.0 L1737.5 594.0 L1736.7 596.0 L1736.0 598.0 L1735.2 600.0 L1734.4 602.0 L1733.6 604.0 L1732.8 606.0 L1732.0 608.0 L1731.1 610.0 L1730.3 612.0 L1729.4 614.0 L1728.5 616.0 L1727.6 618.0 L1726.7 620.0 L1725.8 622.0 L1724.8 624.0 L1723.8 626.0 L1722.9 628.0 L1721.9 630.0 L1720.8 632.0 L1719.8 634.0 L1718.7 636.0 L1717.6 638.0 L1716.6 640.0 L1715.4 642.0 L1714.3 644.0 L1713.2 646.0 L1712.0 648.0 L1710.8 650.0 L1709.6 652.0 L1708.4 654.0 L1707.2 656.0 L1705.9 658.0 L1704.7 660.0 L1703.4 662.0 L1702.1 664.0 L1700.8 666.0 L1699.5 668.0 L1698.2 670.0 L1696.8 672.0 L1695.5 674.0 L1694.1 676.0 L1692.8 678.0 L1691.4 680.0 L1690.0 682.0 L1688.6 684.0 L1687.2 686.0 L1685.8 688.0 L1684.3 690.0 L1682.9 692.0 L1681.5 694.0 L1680.0 696.0 L1678.6 698.0 L1677.1 700.0 L1675.7 702.0 L1674.2 704.0 L1672.7 706.0 L1671.2 708.0 L1669.8 710.0 L1668.3 712.0 L1666.8 714.0 L1665.3 716.0 L1663.8 718.0 L1662.3 720.0 L1660.9 722.0 L1659.4 724.0 L1657.9 726.0 L1656.4 728.0 L1655.0 730.0 L1653.5 732.0 L1652.0 734.0 L1650.6 736.0 L1649.2 738.0 L1647.7 740.0 L1646.3 742.0 L1644.9 744.0 L1643.5 746.0 L1642.2 748.0 L1640.8 750.0 L1639.5 752.0 L1638.2 754.0 L1636.9 756.0 L1635.6 758.0 L1634.3 760.0 L1633.1 762.0 L1631.9 764.0 L1630.7 766.0 L1629.5 768.0 L1628.3 770.0 L1627.2 772.0 L1626.1 774.0 L1625.0 776.0 L1624.0 778.0 L1623.0 780.0 L1622.0 782.0 L1621.0 784.0 L1620.0 786.0 L1619.1 788.0 L1618.2 790.0 L1617.3 792.0 L1616.5 794.0 L1615.7 796.0 L1614.9 798.0 L1614.1 800.0 L1613.3 802.0 L1612.6 804.0 L1611.9 806.0 L1611.2 808.0 L1610.5 810.0 L1609.9 812.0 L1609.3 814.0 L1608.7 816.0 L1608.1 818.0 L1607.6 820.0 L1607.0 822.0 L1606.5 824.0 L1606.1 826.0 L1605.6 828.0 L1605.2 830.0 L1604.8 832.0 L1604.4 834.0 L1604.0 836.0 L1603.7 838.0 L1603.4 840.0 L1603.1 842.0 L1602.9 844.0 L1602.7 846.0 L1602.5 848.0 L1602.3 850.0 L1602.2 852.0 L1602.1 854.0 L1602.0 856.0 L1602.0 858.0 L1602.0 860.0 L1602.1 862.0 L1602.2 864.0 L1602.3 866.0 L1602.4 868.0 L1602.6 870.0 L1602.9 872.0 L1603.1 874.0 L1603.4 876.0 L1603.8 878.0 L1604.2 880.0 L1604.6 882.0 L1605.1 884.0 L1605.6 886.0 L1606.1 888.0 L1606.7 890.0 L1607.3 892.0 L1607.9 894.0 L1608.6 896.0 L1609.3 898.0 L1610.0 900.0 L1610.8 902.0 L1611.6 904.0 L1612.4 906.0 L1613.3 908.0 L1614.2 910.0 L1615.1 912.0 L1616.1 914.0 L1617.0 916.0 L1618.0 918.0 L1619.0 920.0 L1620.1 922.0 L1621.1 924.0 L1622.2 926.0 L1623.3 928.0 L1624.4 930.0 L1625.6 932.0 L1626.7 934.0 L1627.9 936.0 L1629.1 938.0 L1630.3 940.0 L1631.5 942.0 L1632.7 944.0 L1634.0 946.0 L1635.2 948.0 L1636.5 950.0 L1637.8 952.0 L1639.1 954.0 L1640.4 956.0 L1641.7 958.0 L1643.0 960.0 L1644.3 962.0 L1645.7 964.0 L1647.0 966.0 L1648.3 968.0 L1649.7 970.0 L1651.0 972.0 L1652.4 974.0 L1653.8 976.0 L1655.1 978.0 L1656.5 980.0 L1657.9 982.0 L1659.3 984.0 L1660.7 986.0 L1662.0 988.0 L1663.4 990.0 L1664.8 992.0 L1666.2 994.0 L1667.6 996.0 L1669.0 998.0 L1670.4 1000.0 L1671.8 1002.0 L1673.2 1004.0 L1674.6 1006.0 L1676.0 1008.0 L1677.4 1010.0 L1678.8 1012.0 L1680.2 1014.0 L1681.5 1016.0 L1682.9 1018.0 L1684.3 1020.0 L1685.7 1022.0 L1687.1 1024.0 L1688.4 1026.0 L1689.8 1028.0 L1691.1 1030.0 L1692.5 1032.0 L1693.8 1034.0 L1695.2 1036.0 L1696.5 1038.0 L1697.8 1040.0 L1699.1 1042.0 L1700.4 1044.0 L1701.7 1046.0 L1703.0 1048.0 L1704.2 1050.0 L1705.5 1052.0 L1706.7 1054.0 L1708.0 1056.0 L1709.2 1058.0 L1710.4 1060.0 L1711.6 1062.0 L1712.8 1064.0 L1713.9 1066.0 L1715.1 1068.0 L1716.2 1070.0 L1717.3 1072.0 L1718.4 1074.0 L1719.5 1076.0 L1720.6 1078.0 L1721.6 1080.0 L1722.7 1082.0 L1723.7 1084.0 L1724.7 1086.0 L1725.7 1088.0 L1726.7 1090.0 L1727.6 1092.0 L1728.6 1094.0 L1729.5 1096.0 L1730.4 1098.0 L1731.3 1100.0 L1732.2 1101.9 L1807.2 1101.9 L1808.1 1100.0 L1809.0 1098.0 L1809.9 1096.0 L1810.8 1094.0 L1811.8 1092.0 L1812.7 1090.0 L1813.7 1088.0 L1814.7 1086.0 L1815.7 1084.0 L1816.7 1082.0 L1817.8 1080.0 L1818.8 1078.0 L1819.9 1076.0 L1821.0 1074.0 L1822.1 1072.0 L1823.2 1070.0 L1824.3 1068.0 L1825.5 1066.0 L1826.6 1064.0 L1827.8 1062.0 L1829.0 1060.0 L1830.2 1058.0 L1831.4 1056.0 L1832.7 1054.0 L1833.9 1052.0 L1835.2 1050.0 L1836.4 1048.0 L1837.7 1046.0 L1839.0 1044.0 L1840.3 1042.0 L1841.6 1040.0 L1842.9 1038.0 L1844.2 1036.0 L1845.6 1034.0 L1846.9 1032.0 L1848.3 1030.0 L1849.6 1028.0 L1851.0 1026.0 L1852.3 1024.0 L1853.7 1022.0 L1855.1 1020.0 L1856.5 1018.0 L1857.9 1016.0 L1859.2 1014.0 L1860.6 1012.0 L1862.0 1010.0 L1863.4 1008.0 L1864.8 1006.0 L1866.2 1004.0 L1867.6 1002.0 L1869.0 1000.0 L1870.4 998.0 L1871.8 996.0 L1873.2 994.0 L1874.6 992.0 L1876.0 990.0 L1877.4 988.0 L1878.7 986.0 L1880.1 984.0 L1881.5 982.0 L1882.9 980.0 L1884.3 978.0 L1885.6 976.0 L1887.0 974.0 L1888.4 972.0 L1889.7 970.0 L1891.1 968.0 L1892.4 966.0 L1893.7 964.0 L1895.1 962.0 L1896.4 960.0 L1897.7 958.0 L1899.0 956.0 L1900.3 954.0 L1901.6 952.0 L1902.9 950.0 L1904.2 948.0 L1905.4 946.0 L1906.7 944.0 L1907.9 942.0 L1909.1 940.0 L1910.3 938.0 L1911.5 936.0 L1912.7 934.0 L1913.8 932.0 L1915.0 930.0 L1916.1 928.0 L1917.2 926.0 L1918.3 924.0 L1919.3 922.0 L1920.4 920.0 L1921.4 918.0 L1922.4 916.0 L1923.3 914.0 L1924.3 912.0 L1925.2 910.0 L1926.1 908.0 L1927.0 906.0 L1927.8 904.0 L1928.6 902.0 L1929.4 900.0 L1930.1 898.0 L1930.8 896.0 L1931.5 894.0 L1932.1 892.0 L1932.7 890.0 L1933.3 888.0 L1933.8 886.0 L1934.3 884.0 L1934.8 882.0 L1935.2 880.0 L1935.6 878.0 L1936.0 876.0 L1936.3 874.0 L1936.5 872.0 L1936.8 870.0 L1937.0 868.0 L1937.1 866.0 L1937.2 864.0 L1937.3 862.0 L1937.4 860.0 L1937.4 858.0 L1937.4 856.0 L1937.3 854.0 L1937.2 852.0 L1937.1 850.0 L1936.9 848.0 L1936.7 846.0 L1936.5 844.0 L1936.3 842.0 L1936.0 840.0 L1935.7 838.0 L1935.4 836.0 L1935.0 834.0 L1934.6 832.0 L1934.2 830.0 L1933.8 828.0 L1933.3 826.0 L1932.9 824.0 L1932.4 822.0 L1931.8 820.0 L1931.3 818.0 L1930.7 816.0 L1930.1 814.0 L1929.5 812.0 L1928.9 810.0 L1928.2 808.0 L1927.5 806.0 L1926.8 804.0 L1926.1 802.0 L1925.3 800.0 L1924.5 798.0 L1923.7 796.0 L1922.9 794.0 L1922.1 792.0 L1921.2 790.0 L1920.3 788.0 L1919.4 786.0 L1918.4 784.0 L1917.4 782.0 L1916.4 780.0 L1915.4 778.0 L1914.4 776.0 L1913.3 774.0 L1912.2 772.0 L1911.1 770.0 L1909.9 768.0 L1908.7 766.0 L1907.5 764.0 L1906.3 762.0 L1905.1 760.0 L1903.8 758.0 L1902.5 756.0 L1901.2 754.0 L1899.9 752.0 L1898.6 750.0 L1897.2 748.0 L1895.9 746.0 L1894.5 744.0 L1893.1 742.0 L1891.7 740.0 L1890.2 738.0 L1888.8 736.0 L1887.4 734.0 L1885.9 732.0 L1884.4 730.0 L1883.0 728.0 L1881.5 726.0 L1880.0 724.0 L1878.5 722.0 L1877.1 720.0 L1875.6 718.0 L1874.1 716.0 L1872.6 714.0 L1871.1 712.0 L1869.6 710.0 L1868.2 708.0 L1866.7 706.0 L1865.2 704.0 L1863.7 702.0 L1862.3 700.0 L1860.8 698.0 L1859.4 696.0 L1857.9 694.0 L1856.5 692.0 L1855.1 690.0 L1853.6 688.0 L1852.2 686.0 L1850.8 684.0 L1849.4 682.0 L1848.0 680.0 L1846.6 678.0 L1845.3 676.0 L1843.9 674.0 L1842.6 672.0 L1841.2 670.0 L1839.9 668.0 L1838.6 666.0 L1837.3 664.0 L1836.0 662.0 L1834.7 660.0 L1833.5 658.0 L1832.2 656.0 L1831.0 654.0 L1829.8 652.0 L1828.6 650.0 L1827.4 648.0 L1826.2 646.0 L1825.1 644.0 L1824.0 642.0 L1822.8 640.0 L1821.8 638.0 L1820.7 636.0 L1819.6 634.0 L1818.6 632.0 L1817.5 630.0 L1816.5 628.0 L1815.6 626.0 L1814.6 624.0 L1813.6 622.0 L1812.7 620.0 L1811.8 618.0 L1810.9 616.0 L1810.0 614.0 L1809.1 612.0 L1808.3 610.0 L1807.4 608.0 L1806.6 606.0 L1805.8 604.0 L1805.0 602.0 L1804.2 600.0 L1803.4 598.0 L1802.7 596.0 L1801.9 594.0 L1801.2 592.0 L1800.5 590.0 L1799.8 588.0 L1799.1 586.0 L1798.4 584.0 L1797.7 582.0 L1797.1 580.0 L1796.4 578.0 L1795.8 576.0 L1795.1 574.0 L1794.5 572.0 L1793.9 570.0 L1793.3 568.0 L1792.7 566.0 L1792.2 564.0 L1791.6 562.0 L1791.1 560.0 L1790.5 558.0 L1790.0 556.0 L1789.5 554.0 L1789.0 552.0 L1788.5 550.0 L1788.0 548.0 L1787.5 546.0 L1787.1 544.0 L1786.6 542.0 L1786.2 540.0 L1785.8 538.0 L1785.4 536.0 L1784.9 534.0 L1784.6 532.0 L1784.2 530.0 L1783.8 528.0 L1783.4 526.0 L1783.1 524.0 L1782.8 522.0 L1782.4 520.0 L1782.1 518.0 L1781.8 516.0 L1781.5 514.0 L1781.2 512.0 L1780.9 510.0 L1780.6 508.0 L1780.3 506.0 L1780.1 504.0 L1779.8 502.0 L1779.6 500.0 L1779.3 498.0 L1779.1 496.0 L1778.8 494.0 L1778.6 492.0 L1778.4 490.0 L1778.2 488.0 L1778.0 486.0 L1777.8 484.0 L1777.6 482.0 L1777.4 480.0 L1777.2 478.0 L1777.0 476.0 L1776.8 474.0 L1776.6 472.0 L1776.5 470.0 L1776.3 468.0 L1776.1 466.0 L1776.0 464.0 L1775.8 462.0 L1775.7 460.0 L1775.5 458.0 L1775.4 456.0 L1775.3 454.0 L1775.1 452.0 L1775.0 450.0 L1774.9 448.0 L1774.7 446.0 L1774.6 444.0 L1774.5 442.0 L1774.4 440.0 L1774.3 438.0 L1774.2 436.0 L1774.1 434.0 L1773.9 432.0 L1773.8 430.0 L1773.7 428.0 L1773.7 426.0 L1773.6 424.0 L1773.5 422.0 L1773.4 420.0 L1773.3 418.0 L1773.2 416.0 L1773.1 414.0 L1773.1 412.0 L1773.0 410.0 L1772.9 408.0 L1772.8 406.0 L1772.8 404.0 L1772.7 402.0 L1772.6 400.0 L1772.6 398.0 L1772.5 396.0 Z" fill="#C6EDD7" stroke="#C6EDD7" stroke-width="1" stroke-linejoin="round"/>
<line x1="1709.3" y1="559.7" x2="1830.1" y2="559.7" stroke="#404040" stroke-width="4.5" stroke-linecap="round"/>
<line x1="1709.3" y1="986.1" x2="1830.1" y2="986.1" stroke="#404040" stroke-width="4.5" stroke-linecap="round"/>
<path d="M1766.9 396.0 L1766.8 398.0 L1766.8 400.0 L1766.7 402.0 L1766.6 404.0 L1766.6 406.0 L1766.5 408.0 L1766.4 410.0 L1766.3 412.0 L1766.3 414.0 L1766.2 416.0 L1766.1 418.0 L1766.0 420.0 L1765.9 422.0 L1765.8 424.0 L1765.7 426.0 L1765.7 428.0 L1765.6 430.0 L1765.5 432.0 L1765.3 434.0 L1765.2 436.0 L1765.1 438.0 L1765.0 440.0 L1764.9 442.0 L1764.8 444.0 L1764.7 446.0 L1764.5 448.0 L1764.4 450.0 L1764.3 452.0 L1764.1 454.0 L1764.0 456.0 L1763.9 458.0 L1763.7 460.0 L1763.6 462.0 L1763.4 464.0 L1763.3 466.0 L1763.1 468.0 L1762.9 470.0 L1762.8 472.0 L1762.6 474.0 L1762.4 476.0 L1762.2 478.0 L1762.0 480.0 L1761.8 482.0 L1761.6 484.0 L1761.4 486.0 L1761.2 488.0 L1761.0 490.0 L1760.8 492.0 L1760.6 494.0 L1760.3 496.0 L1760.1 498.0 L1759.8 500.0 L1759.6 502.0 L1759.3 504.0 L1759.1 506.0 L1758.8 508.0 L1758.5 510.0 L1758.2 512.0 L1757.9 514.0 L1757.6 516.0 L1757.3 518.0 L1757.0 520.0 L1756.6 522.0 L1756.3 524.0 L1756.0 526.0 L1755.6 528.0 L1755.2 530.0 L1754.8 532.0 L1754.5 534.0 L1754.0 536.0 L1753.6 538.0 L1753.2 540.0 L1752.8 542.0 L1752.3 544.0 L1751.9 546.0 L1751.4 548.0 L1750.9 550.0 L1750.4 552.0 L1749.9 554.0 L1749.4 556.0 L1748.9 558.0 L1748.3 560.0 L1747.8 562.0 L1747.2 564.0 L1746.7 566.0 L1746.1 568.0 L1745.5 570.0 L1744.9 572.0 L1744.3 574.0 L1743.6 576.0 L1743.0 578.0 L1742.3 580.0 L1741.7 582.0 L1741.0 584.0 L1740.3 586.0 L1739.6 588.0 L1738.9 590.0 L1738.2 592.0 L1737.5 594.0 L1736.7 596.0 L1736.0 598.0 L1735.2 600.0 L1734.4 602.0 L1733.6 604.0 L1732.8 606.0 L1732.0 608.0 L1731.1 610.0 L1730.3 612.0 L1729.4 614.0 L1728.5 616.0 L1727.6 618.0 L1726.7 620.0 L1725.8 622.0 L1724.8 624.0 L1723.8 626.0 L1722.9 628.0 L1721.9 630.0 L1720.8 632.0 L1719.8 634.0 L1718.7 636.0 L1717.6 638.0 L1716.6 640.0 L1715.4 642.0 L1714.3 644.0 L1713.2 646.0 L1712.0 648.0 L1710.8 650.0 L1709.6 652.0 L1708.4 654.0 L1707.2 656.0 L1705.9 658.0 L1704.7 660.0 L1703.4 662.0 L1702.1 664.0 L1700.8 666.0 L1699.5 668.0 L1698.2 670.0 L1696.8 672.0 L1695.5 674.0 L1694.1 676.0 L1692.8 678.0 L1691.4 680.0 L1690.0 682.0 L1688.6 684.0 L1687.2 686.0 L1685.8 688.0 L1684.3 690.0 L1682.9 692.0 L1681.5 694.0 L1680.0 696.0 L1678.6 698.0 L1677.1 700.0 L1675.7 702.0 L1674.2 704.0 L1672.7 706.0 L1671.2 708.0 L1669.8 710.0 L1668.3 712.0 L1666.8 714.0 L1665.3 716.0 L1663.8 718.0 L1662.3 720.0 L1660.9 722.0 L1659.4 724.0 L1657.9 726.0 L1656.4 728.0 L1655.0 730.0 L1653.5 732.0 L1652.0 734.0 L1650.6 736.0 L1649.2 738.0 L1647.7 740.0 L1646.3 742.0 L1644.9 744.0 L1643.5 746.0 L1642.2 748.0 L1640.8 750.0 L1639.5 752.0 L1638.2 754.0 L1636.9 756.0 L1635.6 758.0 L1634.3 760.0 L1633.1 762.0 L1631.9 764.0 L1630.7 766.0 L1629.5 768.0 L1628.3 770.0 L1627.2 772.0 L1626.1 774.0 L1625.0 776.0 L1624.0 778.0 L1623.0 780.0 L1622.0 782.0 L1621.0 784.0 L1620.0 786.0 L1619.1 788.0 L1618.2 790.0 L1617.3 792.0 L1616.5 794.0 L1615.7 796.0 L1614.9 798.0 L1614.1 800.0 L1613.3 802.0 L1612.6 804.0 L1611.9 806.0 L1611.2 808.0 L1610.5 810.0 L1609.9 812.0 L1609.3 814.0 L1608.7 816.0 L1608.1 818.0 L1607.6 820.0 L1607.0 822.0 L1606.5 824.0 L1606.1 826.0 L1605.6 828.0 L1605.2 830.0 L1604.8 832.0 L1604.4 834.0 L1604.0 836.0 L1603.7 838.0 L1603.4 840.0 L1603.1 842.0 L1602.9 844.0 L1602.7 846.0 L1602.5 848.0 L1602.3 850.0 L1602.2 852.0 L1602.1 854.0 L1602.0 856.0 L1602.0 858.0 L1602.0 860.0 L1602.1 862.0 L1602.2 864.0 L1602.3 866.0 L1602.4 868.0 L1602.6 870.0 L1602.9 872.0 L1603.1 874.0 L1603.4 876.0 L1603.8 878.0 L1604.2 880.0 L1604.6 882.0 L1605.1 884.0 L1605.6 886.0 L1606.1 888.0 L1606.7 890.0 L1607.3 892.0 L1607.9 894.0 L1608.6 896.0 L1609.3 898.0 L1610.0 900.0 L1610.8 902.0 L1611.6 904.0 L1612.4 906.0 L1613.3 908.0 L1614.2 910.0 L1615.1 912.0 L1616.1 914.0 L1617.0 916.0 L1618.0 918.0 L1619.0 920.0 L1620.1 922.0 L1621.1 924.0 L1622.2 926.0 L1623.3 928.0 L1624.4 930.0 L1625.6 932.0 L1626.7 934.0 L1627.9 936.0 L1629.1 938.0 L1630.3 940.0 L1631.5 942.0 L1632.7 944.0 L1634.0 946.0 L1635.2 948.0 L1636.5 950.0 L1637.8 952.0 L1639.1 954.0 L1640.4 956.0 L1641.7 958.0 L1643.0 960.0 L1644.3 962.0 L1645.7 964.0 L1647.0 966.0 L1648.3 968.0 L1649.7 970.0 L1651.0 972.0 L1652.4 974.0 L1653.8 976.0 L1655.1 978.0 L1656.5 980.0 L1657.9 982.0 L1659.3 984.0 L1660.7 986.0 L1662.0 988.0 L1663.4 990.0 L1664.8 992.0 L1666.2 994.0 L1667.6 996.0 L1669.0 998.0 L1670.4 1000.0 L1671.8 1002.0 L1673.2 1004.0 L1674.6 1006.0 L1676.0 1008.0 L1677.4 1010.0 L1678.8 1012.0 L1680.2 1014.0 L1681.5 1016.0 L1682.9 1018.0 L1684.3 1020.0 L1685.7 1022.0 L1687.1 1024.0 L1688.4 1026.0 L1689.8 1028.0 L1691.1 1030.0 L1692.5 1032.0 L1693.8 1034.0 L1695.2 1036.0 L1696.5 1038.0 L1697.8 1040.0 L1699.1 1042.0 L1700.4 1044.0 L1701.7 1046.0 L1703.0 1048.0 L1704.2 1050.0 L1705.5 1052.0 L1706.7 1054.0 L1708.0 1056.0 L1709.2 1058.0 L1710.4 1060.0 L1711.6 1062.0 L1712.8 1064.0 L1713.9 1066.0 L1715.1 1068.0 L1716.2 1070.0 L1717.3 1072.0 L1718.4 1074.0 L1719.5 1076.0 L1720.6 1078.0 L1721.6 1080.0 L1722.7 1082.0 L1723.7 1084.0 L1724.7 1086.0 L1725.7 1088.0 L1726.7 1090.0 L1727.6 1092.0 L1728.6 1094.0 L1729.5 1096.0 L1730.4 1098.0 L1731.3 1100.0 L1732.2 1101.9 L1807.2 1101.9 L1808.1 1100.0 L1809.0 1098.0 L1809.9 1096.0 L1810.8 1094.0 L1811.8 1092.0 L1812.7 1090.0 L1813.7 1088.0 L1814.7 1086.0 L1815.7 1084.0 L1816.7 1082.0 L1817.8 1080.0 L1818.8 1078.0 L1819.9 1076.0 L1821.0 1074.0 L1822.1 1072.0 L1823.2 1070.0 L1824.3 1068.0 L1825.5 1066.0 L1826.6 1064.0 L1827.8 1062.0 L1829.0 1060.0 L1830.2 1058.0 L1831.4 1056.0 L1832.7 1054.0 L1833.9 1052.0 L1835.2 1050.0 L1836.4 1048.0 L1837.7 1046.0 L1839.0 1044.0 L1840.3 1042.0 L1841.6 1040.0 L1842.9 1038.0 L1844.2 1036.0 L1845.6 1034.0 L1846.9 1032.0 L1848.3 1030.0 L1849.6 1028.0 L1851.0 1026.0 L1852.3 1024.0 L1853.7 1022.0 L1855.1 1020.0 L1856.5 1018.0 L1857.9 1016.0 L1859.2 1014.0 L1860.6 1012.0 L1862.0 1010.0 L1863.4 1008.0 L1864.8 1006.0 L1866.2 1004.0 L1867.6 1002.0 L1869.0 1000.0 L1870.4 998.0 L1871.8 996.0 L1873.2 994.0 L1874.6 992.0 L1876.0 990.0 L1877.4 988.0 L1878.7 986.0 L1880.1 984.0 L1881.5 982.0 L1882.9 980.0 L1884.3 978.0 L1885.6 976.0 L1887.0 974.0 L1888.4 972.0 L1889.7 970.0 L1891.1 968.0 L1892.4 966.0 L1893.7 964.0 L1895.1 962.0 L1896.4 960.0 L1897.7 958.0 L1899.0 956.0 L1900.3 954.0 L1901.6 952.0 L1902.9 950.0 L1904.2 948.0 L1905.4 946.0 L1906.7 944.0 L1907.9 942.0 L1909.1 940.0 L1910.3 938.0 L1911.5 936.0 L1912.7 934.0 L1913.8 932.0 L1915.0 930.0 L1916.1 928.0 L1917.2 926.0 L1918.3 924.0 L1919.3 922.0 L1920.4 920.0 L1921.4 918.0 L1922.4 916.0 L1923.3 914.0 L1924.3 912.0 L1925.2 910.0 L1926.1 908.0 L1927.0 906.0 L1927.8 904.0 L1928.6 902.0 L1929.4 900.0 L1930.1 898.0 L1930.8 896.0 L1931.5 894.0 L1932.1 892.0 L1932.7 890.0 L1933.3 888.0 L1933.8 886.0 L1934.3 884.0 L1934.8 882.0 L1935.2 880.0 L1935.6 878.0 L1936.0 876.0 L1936.3 874.0 L1936.5 872.0 L1936.8 870.0 L1937.0 868.0 L1937.1 866.0 L1937.2 864.0 L1937.3 862.0 L1937.4 860.0 L1937.4 858.0 L1937.4 856.0 L1937.3 854.0 L1937.2 852.0 L1937.1 850.0 L1936.9 848.0 L1936.7 846.0 L1936.5 844.0 L1936.3 842.0 L1936.0 840.0 L1935.7 838.0 L1935.4 836.0 L1935.0 834.0 L1934.6 832.0 L1934.2 830.0 L1933.8 828.0 L1933.3 826.0 L1932.9 824.0 L1932.4 822.0 L1931.8 820.0 L1931.3 818.0 L1930.7 816.0 L1930.1 814.0 L1929.5 812.0 L1928.9 810.0 L1928.2 808.0 L1927.5 806.0 L1926.8 804.0 L1926.1 802.0 L1925.3 800.0 L1924.5 798.0 L1923.7 796.0 L1922.9 794.0 L1922.1 792.0 L1921.2 790.0 L1920.3 788.0 L1919.4 786.0 L1918.4 784.0 L1917.4 782.0 L1916.4 780.0 L1915.4 778.0 L1914.4 776.0 L1913.3 774.0 L1912.2 772.0 L1911.1 770.0 L1909.9 768.0 L1908.7 766.0 L1907.5 764.0 L1906.3 762.0 L1905.1 760.0 L1903.8 758.0 L1902.5 756.0 L1901.2 754.0 L1899.9 752.0 L1898.6 750.0 L1897.2 748.0 L1895.9 746.0 L1894.5 744.0 L1893.1 742.0 L1891.7 740.0 L1890.2 738.0 L1888.8 736.0 L1887.4 734.0 L1885.9 732.0 L1884.4 730.0 L1883.0 728.0 L1881.5 726.0 L1880.0 724.0 L1878.5 722.0 L1877.1 720.0 L1875.6 718.0 L1874.1 716.0 L1872.6 714.0 L1871.1 712.0 L1869.6 710.0 L1868.2 708.0 L1866.7 706.0 L1865.2 704.0 L1863.7 702.0 L1862.3 700.0 L1860.8 698.0 L1859.4 696.0 L1857.9 694.0 L1856.5 692.0 L1855.1 690.0 L1853.6 688.0 L1852.2 686.0 L1850.8 684.0 L1849.4 682.0 L1848.0 680.0 L1846.6 678.0 L1845.3 676.0 L1843.9 674.0 L1842.6 672.0 L1841.2 670.0 L1839.9 668.0 L1838.6 666.0 L1837.3 664.0 L1836.0 662.0 L1834.7 660.0 L1833.5 658.0 L1832.2 656.0 L1831.0 654.0 L1829.8 652.0 L1828.6 650.0 L1827.4 648.0 L1826.2 646.0 L1825.1 644.0 L1824.0 642.0 L1822.8 640.0 L1821.8 638.0 L1820.7 636.0 L1819.6 634.0 L1818.6 632.0 L1817.5 630.0 L1816.5 628.0 L1815.6 626.0 L1814.6 624.0 L1813.6 622.0 L1812.7 620.0 L1811.8 618.0 L1810.9 616.0 L1810.0 614.0 L1809.1 612.0 L1808.3 610.0 L1807.4 608.0 L1806.6 606.0 L1805.8 604.0 L1805.0 602.0 L1804.2 600.0 L1803.4 598.0 L1802.7 596.0 L1801.9 594.0 L1801.2 592.0 L1800.5 590.0 L1799.8 588.0 L1799.1 586.0 L1798.4 584.0 L1797.7 582.0 L1797.1 580.0 L1796.4 578.0 L1795.8 576.0 L1795.1 574.0 L1794.5 572.0 L1793.9 570.0 L1793.3 568.0 L1792.7 566.0 L1792.2 564.0 L1791.6 562.0 L1791.1 560.0 L1790.5 558.0 L1790.0 556.0 L1789.5 554.0 L1789.0 552.0 L1788.5 550.0 L1788.0 548.0 L1787.5 546.0 L1787.1 544.0 L1786.6 542.0 L1786.2 540.0 L1785.8 538.0 L1785.4 536.0 L1784.9 534.0 L1784.6 532.0 L1784.2 530.0 L1783.8 528.0 L1783.4 526.0 L1783.1 524.0 L1782.8 522.0 L1782.4 520.0 L1782.1 518.0 L1781.8 516.0 L1781.5 514.0 L1781.2 512.0 L1780.9 510.0 L1780.6 508.0 L1780.3 506.0 L1780.1 504.0 L1779.8 502.0 L1779.6 500.0 L1779.3 498.0 L1779.1 496.0 L1778.8 494.0 L1778.6 492.0 L1778.4 490.0 L1778.2 488.0 L1778.0 486.0 L1777.8 484.0 L1777.6 482.0 L1777.4 480.0 L1777.2 478.0 L1777.0 476.0 L1776.8 474.0 L1776.6 472.0 L1776.5 470.0 L1776.3 468.0 L1776.1 466.0 L1776.0 464.0 L1775.8 462.0 L1775.7 460.0 L1775.5 458.0 L1775.4 456.0 L1775.3 454.0 L1775.1 452.0 L1775.0 450.0 L1774.9 448.0 L1774.7 446.0 L1774.6 444.0 L1774.5 442.0 L1774.4 440.0 L1774.3 438.0 L1774.2 436.0 L1774.1 434.0 L1773.9 432.0 L1773.8 430.0 L1773.7 428.0 L1773.7 426.0 L1773.6 424.0 L1773.5 422.0 L1773.4 420.0 L1773.3 418.0 L1773.2 416.0 L1773.1 414.0 L1773.1 412.0 L1773.0 410.0 L1772.9 408.0 L1772.8 406.0 L1772.8 404.0 L1772.7 402.0 L1772.6 400.0 L1772.6 398.0 L1772.5 396.0 Z" fill="none" stroke="#C6EDD7" stroke-width="9.8" clip-path="url(#vc3)"/>
<line x1="1769.7" y1="557.5" x2="1769.7" y2="988.3" stroke="#404040" stroke-width="4.7"/>
<rect x="1670.4" y="775.5" width="199.2" height="173.9" fill="#3DC372" stroke="#404040" stroke-width="4.8" stroke-linejoin="round"/>
<circle cx="1769.2" cy="919.3" r="6.5" fill="#fff" stroke="#333" stroke-width="1"/>
<line x1="1670.2" y1="854.9" x2="1870.8" y2="854.9" stroke="#000" stroke-width="6.0" stroke-linecap="round"/>
</g>
<g>
<path d="M2181.0 552.9 L2180.9 554.9 L2180.9 556.9 L2180.9 558.9 L2180.8 560.9 L2180.7 562.9 L2180.7 564.9 L2180.6 566.9 L2180.5 568.9 L2180.5 570.9 L2180.4 572.9 L2180.3 574.9 L2180.2 576.9 L2180.1 578.9 L2180.0 580.9 L2179.9 582.9 L2179.8 584.9 L2179.6 586.9 L2179.5 588.9 L2179.4 590.9 L2179.2 592.9 L2179.1 594.9 L2178.9 596.9 L2178.8 598.9 L2178.6 600.9 L2178.4 602.9 L2178.2 604.9 L2178.0 606.9 L2177.8 608.9 L2177.6 610.9 L2177.4 612.9 L2177.2 614.9 L2176.9 616.9 L2176.7 618.9 L2176.4 620.9 L2176.1 622.9 L2175.8 624.9 L2175.5 626.9 L2175.2 628.9 L2174.9 630.9 L2174.5 632.9 L2174.2 634.9 L2173.8 636.9 L2173.4 638.9 L2173.0 640.9 L2172.5 642.9 L2172.1 644.9 L2171.6 646.9 L2171.1 648.9 L2170.6 650.9 L2170.1 652.9 L2169.5 654.9 L2168.9 656.9 L2168.3 658.9 L2167.7 660.9 L2167.0 662.9 L2166.3 664.9 L2165.6 666.9 L2164.9 668.9 L2164.2 670.9 L2163.4 672.9 L2162.6 674.9 L2161.7 676.9 L2160.9 678.9 L2160.0 680.9 L2159.1 682.9 L2158.1 684.9 L2157.2 686.9 L2156.2 688.9 L2155.2 690.9 L2154.1 692.9 L2153.0 694.9 L2151.9 696.9 L2150.8 698.9 L2149.7 700.9 L2148.5 702.9 L2147.3 704.9 L2146.0 706.9 L2144.8 708.9 L2143.5 710.9 L2142.2 712.9 L2140.8 714.9 L2139.5 716.9 L2138.1 718.9 L2136.7 720.9 L2135.3 722.9 L2133.8 724.9 L2132.3 726.9 L2130.8 728.9 L2129.3 730.9 L2127.8 732.9 L2126.3 734.9 L2124.7 736.9 L2123.1 738.9 L2121.5 740.9 L2119.9 742.9 L2118.2 744.9 L2116.6 746.9 L2114.9 748.9 L2113.2 750.9 L2111.5 752.9 L2109.8 754.9 L2108.1 756.9 L2106.3 758.9 L2104.5 760.9 L2102.8 762.9 L2101.0 764.9 L2099.2 766.9 L2097.3 768.9 L2095.5 770.9 L2093.6 772.9 L2091.8 774.9 L2089.9 776.9 L2088.0 778.9 L2086.1 780.9 L2084.2 782.9 L2082.3 784.9 L2080.4 786.9 L2078.5 788.9 L2076.6 790.9 L2074.7 792.9 L2072.8 794.9 L2070.9 796.9 L2069.0 798.9 L2067.1 800.9 L2065.2 802.9 L2063.4 804.9 L2061.5 806.9 L2059.7 808.9 L2057.8 810.9 L2056.1 812.9 L2054.3 814.9 L2052.5 816.9 L2050.8 818.9 L2049.1 820.9 L2047.4 822.9 L2045.8 824.9 L2044.2 826.9 L2042.6 828.9 L2041.1 830.9 L2039.6 832.9 L2038.2 834.9 L2036.7 836.9 L2035.4 838.9 L2034.0 840.9 L2032.8 842.9 L2031.5 844.9 L2030.3 846.9 L2029.2 848.9 L2028.0 850.9 L2027.0 852.9 L2026.0 854.9 L2025.0 856.9 L2024.1 858.9 L2023.2 860.9 L2022.4 862.9 L2021.6 864.9 L2020.8 866.9 L2020.1 868.9 L2019.5 870.9 L2018.9 872.9 L2018.4 874.9 L2017.9 876.9 L2017.5 878.9 L2017.1 880.9 L2016.8 882.9 L2016.5 884.9 L2016.3 886.9 L2016.1 888.9 L2016.0 890.9 L2016.0 892.9 L2016.0 894.9 L2016.1 896.9 L2016.2 898.9 L2016.4 900.9 L2016.7 902.9 L2017.0 904.9 L2017.4 906.9 L2017.8 908.9 L2018.3 910.9 L2018.9 912.9 L2019.6 914.9 L2020.3 916.9 L2021.1 918.9 L2021.9 920.9 L2022.8 922.9 L2023.8 924.9 L2024.8 926.9 L2025.9 928.9 L2027.1 930.9 L2028.3 932.9 L2029.6 934.9 L2030.9 936.9 L2032.3 938.9 L2033.7 940.9 L2035.2 942.9 L2036.8 944.9 L2038.3 946.9 L2040.0 948.9 L2041.6 950.9 L2043.3 952.9 L2045.1 954.9 L2046.8 956.9 L2048.7 958.9 L2050.5 960.9 L2052.3 962.9 L2054.2 964.9 L2056.1 966.9 L2058.1 968.9 L2060.0 970.9 L2061.9 972.9 L2063.9 974.9 L2065.9 976.9 L2067.8 978.9 L2069.8 980.9 L2071.8 982.9 L2073.8 984.9 L2075.7 986.9 L2077.7 988.9 L2079.7 990.9 L2081.6 992.9 L2083.6 994.9 L2085.5 996.9 L2087.4 998.9 L2089.3 1000.9 L2091.2 1002.9 L2093.1 1004.9 L2095.0 1006.9 L2096.8 1008.9 L2098.6 1010.9 L2100.5 1012.9 L2102.2 1014.9 L2104.0 1016.9 L2105.8 1018.9 L2107.5 1020.9 L2109.3 1022.9 L2111.0 1024.9 L2112.7 1026.9 L2114.3 1028.9 L2116.0 1030.9 L2117.6 1032.9 L2119.3 1034.9 L2120.9 1036.9 L2122.5 1038.9 L2124.0 1040.9 L2125.6 1042.9 L2127.1 1044.9 L2128.6 1046.9 L2130.1 1048.9 L2131.6 1050.9 L2133.0 1052.9 L2134.5 1054.9 L2135.9 1056.9 L2137.3 1058.9 L2138.6 1060.9 L2140.0 1062.9 L2141.3 1064.9 L2142.6 1066.9 L2143.9 1068.9 L2145.1 1070.9 L2146.3 1072.9 L2147.5 1074.9 L2148.7 1076.9 L2149.9 1078.9 L2151.0 1080.9 L2152.1 1082.9 L2153.2 1084.9 L2154.3 1086.9 L2155.4 1088.9 L2156.4 1090.9 L2157.4 1092.9 L2158.4 1094.9 L2159.3 1096.9 L2160.3 1098.9 L2161.2 1100.9 L2161.6 1101.8 L2206.7 1101.8 L2207.1 1100.9 L2208.0 1098.9 L2209.0 1096.9 L2209.9 1094.9 L2210.9 1092.9 L2211.9 1090.9 L2212.9 1088.9 L2214.0 1086.9 L2215.1 1084.9 L2216.2 1082.9 L2217.3 1080.9 L2218.4 1078.9 L2219.6 1076.9 L2220.8 1074.9 L2222.0 1072.9 L2223.2 1070.9 L2224.4 1068.9 L2225.7 1066.9 L2227.0 1064.9 L2228.3 1062.9 L2229.7 1060.9 L2231.0 1058.9 L2232.4 1056.9 L2233.8 1054.9 L2235.3 1052.9 L2236.7 1050.9 L2238.2 1048.9 L2239.7 1046.9 L2241.2 1044.9 L2242.7 1042.9 L2244.3 1040.9 L2245.8 1038.9 L2247.4 1036.9 L2249.0 1034.9 L2250.7 1032.9 L2252.3 1030.9 L2254.0 1028.9 L2255.6 1026.9 L2257.3 1024.9 L2259.0 1022.9 L2260.8 1020.9 L2262.5 1018.9 L2264.3 1016.9 L2266.1 1014.9 L2267.8 1012.9 L2269.7 1010.9 L2271.5 1008.9 L2273.3 1006.9 L2275.2 1004.9 L2277.1 1002.9 L2279.0 1000.9 L2280.9 998.9 L2282.8 996.9 L2284.7 994.9 L2286.7 992.9 L2288.6 990.9 L2290.6 988.9 L2292.6 986.9 L2294.5 984.9 L2296.5 982.9 L2298.5 980.9 L2300.5 978.9 L2302.4 976.9 L2304.4 974.9 L2306.4 972.9 L2308.3 970.9 L2310.2 968.9 L2312.2 966.9 L2314.1 964.9 L2316.0 962.9 L2317.8 960.9 L2319.6 958.9 L2321.5 956.9 L2323.2 954.9 L2325.0 952.9 L2326.7 950.9 L2328.3 948.9 L2330.0 946.9 L2331.5 944.9 L2333.1 942.9 L2334.6 940.9 L2336.0 938.9 L2337.4 936.9 L2338.7 934.9 L2340.0 932.9 L2341.2 930.9 L2342.4 928.9 L2343.5 926.9 L2344.5 924.9 L2345.5 922.9 L2346.4 920.9 L2347.2 918.9 L2348.0 916.9 L2348.7 914.9 L2349.4 912.9 L2350.0 910.9 L2350.5 908.9 L2350.9 906.9 L2351.3 904.9 L2351.6 902.9 L2351.9 900.9 L2352.1 898.9 L2352.2 896.9 L2352.3 894.9 L2352.3 892.9 L2352.3 890.9 L2352.2 888.9 L2352.0 886.9 L2351.8 884.9 L2351.5 882.9 L2351.2 880.9 L2350.8 878.9 L2350.4 876.9 L2349.9 874.9 L2349.4 872.9 L2348.8 870.9 L2348.2 868.9 L2347.5 866.9 L2346.7 864.9 L2345.9 862.9 L2345.1 860.9 L2344.2 858.9 L2343.3 856.9 L2342.3 854.9 L2341.3 852.9 L2340.3 850.9 L2339.1 848.9 L2338.0 846.9 L2336.8 844.9 L2335.5 842.9 L2334.3 840.9 L2332.9 838.9 L2331.6 836.9 L2330.1 834.9 L2328.7 832.9 L2327.2 830.9 L2325.7 828.9 L2324.1 826.9 L2322.5 824.9 L2320.9 822.9 L2319.2 820.9 L2317.5 818.9 L2315.8 816.9 L2314.0 814.9 L2312.2 812.9 L2310.5 810.9 L2308.6 808.9 L2306.8 806.9 L2304.9 804.9 L2303.1 802.9 L2301.2 800.9 L2299.3 798.9 L2297.4 796.9 L2295.5 794.9 L2293.6 792.9 L2291.7 790.9 L2289.8 788.9 L2287.9 786.9 L2286.0 784.9 L2284.1 782.9 L2282.2 780.9 L2280.3 778.9 L2278.4 776.9 L2276.5 774.9 L2274.7 772.9 L2272.8 770.9 L2271.0 768.9 L2269.1 766.9 L2267.3 764.9 L2265.5 762.9 L2263.8 760.9 L2262.0 758.9 L2260.2 756.9 L2258.5 754.9 L2256.8 752.9 L2255.1 750.9 L2253.4 748.9 L2251.7 746.9 L2250.1 744.9 L2248.4 742.9 L2246.8 740.9 L2245.2 738.9 L2243.6 736.9 L2242.0 734.9 L2240.5 732.9 L2239.0 730.9 L2237.5 728.9 L2236.0 726.9 L2234.5 724.9 L2233.0 722.9 L2231.6 720.9 L2230.2 718.9 L2228.8 716.9 L2227.5 714.9 L2226.1 712.9 L2224.8 710.9 L2223.5 708.9 L2222.3 706.9 L2221.0 704.9 L2219.8 702.9 L2218.6 700.9 L2217.5 698.9 L2216.4 696.9 L2215.3 694.9 L2214.2 692.9 L2213.1 690.9 L2212.1 688.9 L2211.1 686.9 L2210.2 684.9 L2209.2 682.9 L2208.3 680.9 L2207.4 678.9 L2206.6 676.9 L2205.7 674.9 L2204.9 672.9 L2204.1 670.9 L2203.4 668.9 L2202.7 666.9 L2202.0 664.9 L2201.3 662.9 L2200.6 660.9 L2200.0 658.9 L2199.4 656.9 L2198.8 654.9 L2198.2 652.9 L2197.7 650.9 L2197.2 648.9 L2196.7 646.9 L2196.2 644.9 L2195.8 642.9 L2195.3 640.9 L2194.9 638.9 L2194.5 636.9 L2194.1 634.9 L2193.8 632.9 L2193.4 630.9 L2193.1 628.9 L2192.8 626.9 L2192.5 624.9 L2192.2 622.9 L2191.9 620.9 L2191.6 618.9 L2191.4 616.9 L2191.1 614.9 L2190.9 612.9 L2190.7 610.9 L2190.5 608.9 L2190.3 606.9 L2190.1 604.9 L2189.9 602.9 L2189.7 600.9 L2189.5 598.9 L2189.4 596.9 L2189.2 594.9 L2189.1 592.9 L2188.9 590.9 L2188.8 588.9 L2188.7 586.9 L2188.5 584.9 L2188.4 582.9 L2188.3 580.9 L2188.2 578.9 L2188.1 576.9 L2188.0 574.9 L2187.9 572.9 L2187.8 570.9 L2187.8 568.9 L2187.7 566.9 L2187.6 564.9 L2187.6 562.9 L2187.5 560.9 L2187.4 558.9 L2187.4 556.9 L2187.4 554.9 L2187.3 552.9 Z" fill="#D5D5E5" stroke="#D5D5E5" stroke-width="1" stroke-linejoin="round"/>
<line x1="2123.8" y1="701.6" x2="2244.6" y2="701.6" stroke="#404040" stroke-width="4.5" stroke-linecap="round"/>
<line x1="2123.8" y1="998.5" x2="2244.6" y2="998.5" stroke="#404040" stroke-width="4.5" stroke-linecap="round"/>
<path d="M2181.0 552.9 L2180.9 554.9 L2180.9 556.9 L2180.9 558.9 L2180.8 560.9 L2180.7 562.9 L2180.7 564.9 L2180.6 566.9 L2180.5 568.9 L2180.5 570.9 L2180.4 572.9 L2180.3 574.9 L2180.2 576.9 L2180.1 578.9 L2180.0 580.9 L2179.9 582.9 L2179.8 584.9 L2179.6 586.9 L2179.5 588.9 L2179.4 590.9 L2179.2 592.9 L2179.1 594.9 L2178.9 596.9 L2178.8 598.9 L2178.6 600.9 L2178.4 602.9 L2178.2 604.9 L2178.0 606.9 L2177.8 608.9 L2177.6 610.9 L2177.4 612.9 L2177.2 614.9 L2176.9 616.9 L2176.7 618.9 L2176.4 620.9 L2176.1 622.9 L2175.8 624.9 L2175.5 626.9 L2175.2 628.9 L2174.9 630.9 L2174.5 632.9 L2174.2 634.9 L2173.8 636.9 L2173.4 638.9 L2173.0 640.9 L2172.5 642.9 L2172.1 644.9 L2171.6 646.9 L2171.1 648.9 L2170.6 650.9 L2170.1 652.9 L2169.5 654.9 L2168.9 656.9 L2168.3 658.9 L2167.7 660.9 L2167.0 662.9 L2166.3 664.9 L2165.6 666.9 L2164.9 668.9 L2164.2 670.9 L2163.4 672.9 L2162.6 674.9 L2161.7 676.9 L2160.9 678.9 L2160.0 680.9 L2159.1 682.9 L2158.1 684.9 L2157.2 686.9 L2156.2 688.9 L2155.2 690.9 L2154.1 692.9 L2153.0 694.9 L2151.9 696.9 L2150.8 698.9 L2149.7 700.9 L2148.5 702.9 L2147.3 704.9 L2146.0 706.9 L2144.8 708.9 L2143.5 710.9 L2142.2 712.9 L2140.8 714.9 L2139.5 716.9 L2138.1 718.9 L2136.7 720.9 L2135.3 722.9 L2133.8 724.9 L2132.3 726.9 L2130.8 728.9 L2129.3 730.9 L2127.8 732.9 L2126.3 734.9 L2124.7 736.9 L2123.1 738.9 L2121.5 740.9 L2119.9 742.9 L2118.2 744.9 L2116.6 746.9 L2114.9 748.9 L2113.2 750.9 L2111.5 752.9 L2109.8 754.9 L2108.1 756.9 L2106.3 758.9 L2104.5 760.9 L2102.8 762.9 L2101.0 764.9 L2099.2 766.9 L2097.3 768.9 L2095.5 770.9 L2093.6 772.9 L2091.8 774.9 L2089.9 776.9 L2088.0 778.9 L2086.1 780.9 L2084.2 782.9 L2082.3 784.9 L2080.4 786.9 L2078.5 788.9 L2076.6 790.9 L2074.7 792.9 L2072.8 794.9 L2070.9 796.9 L2069.0 798.9 L2067.1 800.9 L2065.2 802.9 L2063.4 804.9 L2061.5 806.9 L2059.7 808.9 L2057.8 810.9 L2056.1 812.9 L2054.3 814.9 L2052.5 816.9 L2050.8 818.9 L2049.1 820.9 L2047.4 822.9 L2045.8 824.9 L2044.2 826.9 L2042.6 828.9 L2041.1 830.9 L2039.6 832.9 L2038.2 834.9 L2036.7 836.9 L2035.4 838.9 L2034.0 840.9 L2032.8 842.9 L2031.5 844.9 L2030.3 846.9 L2029.2 848.9 L2028.0 850.9 L2027.0 852.9 L2026.0 854.9 L2025.0 856.9 L2024.1 858.9 L2023.2 860.9 L2022.4 862.9 L2021.6 864.9 L2020.8 866.9 L2020.1 868.9 L2019.5 870.9 L2018.9 872.9 L2018.4 874.9 L2017.9 876.9 L2017.5 878.9 L2017.1 880.9 L2016.8 882.9 L2016.5 884.9 L2016.3 886.9 L2016.1 888.9 L2016.0 890.9 L2016.0 892.9 L2016.0 894.9 L2016.1 896.9 L2016.2 898.9 L2016.4 900.9 L2016.7 902.9 L2017.0 904.9 L2017.4 906.9 L2017.8 908.9 L2018.3 910.9 L2018.9 912.9 L2019.6 914.9 L2020.3 916.9 L2021.1 918.9 L2021.9 920.9 L2022.8 922.9 L2023.8 924.9 L2024.8 926.9 L2025.9 928.9 L2027.1 930.9 L2028.3 932.9 L2029.6 934.9 L2030.9 936.9 L2032.3 938.9 L2033.7 940.9 L2035.2 942.9 L2036.8 944.9 L2038.3 946.9 L2040.0 948.9 L2041.6 950.9 L2043.3 952.9 L2045.1 954.9 L2046.8 956.9 L2048.7 958.9 L2050.5 960.9 L2052.3 962.9 L2054.2 964.9 L2056.1 966.9 L2058.1 968.9 L2060.0 970.9 L2061.9 972.9 L2063.9 974.9 L2065.9 976.9 L2067.8 978.9 L2069.8 980.9 L2071.8 982.9 L2073.8 984.9 L2075.7 986.9 L2077.7 988.9 L2079.7 990.9 L2081.6 992.9 L2083.6 994.9 L2085.5 996.9 L2087.4 998.9 L2089.3 1000.9 L2091.2 1002.9 L2093.1 1004.9 L2095.0 1006.9 L2096.8 1008.9 L2098.6 1010.9 L2100.5 1012.9 L2102.2 1014.9 L2104.0 1016.9 L2105.8 1018.9 L2107.5 1020.9 L2109.3 1022.9 L2111.0 1024.9 L2112.7 1026.9 L2114.3 1028.9 L2116.0 1030.9 L2117.6 1032.9 L2119.3 1034.9 L2120.9 1036.9 L2122.5 1038.9 L2124.0 1040.9 L2125.6 1042.9 L2127.1 1044.9 L2128.6 1046.9 L2130.1 1048.9 L2131.6 1050.9 L2133.0 1052.9 L2134.5 1054.9 L2135.9 1056.9 L2137.3 1058.9 L2138.6 1060.9 L2140.0 1062.9 L2141.3 1064.9 L2142.6 1066.9 L2143.9 1068.9 L2145.1 1070.9 L2146.3 1072.9 L2147.5 1074.9 L2148.7 1076.9 L2149.9 1078.9 L2151.0 1080.9 L2152.1 1082.9 L2153.2 1084.9 L2154.3 1086.9 L2155.4 1088.9 L2156.4 1090.9 L2157.4 1092.9 L2158.4 1094.9 L2159.3 1096.9 L2160.3 1098.9 L2161.2 1100.9 L2161.6 1101.8 L2206.7 1101.8 L2207.1 1100.9 L2208.0 1098.9 L2209.0 1096.9 L2209.9 1094.9 L2210.9 1092.9 L2211.9 1090.9 L2212.9 1088.9 L2214.0 1086.9 L2215.1 1084.9 L2216.2 1082.9 L2217.3 1080.9 L2218.4 1078.9 L2219.6 1076.9 L2220.8 1074.9 L2222.0 1072.9 L2223.2 1070.9 L2224.4 1068.9 L2225.7 1066.9 L2227.0 1064.9 L2228.3 1062.9 L2229.7 1060.9 L2231.0 1058.9 L2232.4 1056.9 L2233.8 1054.9 L2235.3 1052.9 L2236.7 1050.9 L2238.2 1048.9 L2239.7 1046.9 L2241.2 1044.9 L2242.7 1042.9 L2244.3 1040.9 L2245.8 1038.9 L2247.4 1036.9 L2249.0 1034.9 L2250.7 1032.9 L2252.3 1030.9 L2254.0 1028.9 L2255.6 1026.9 L2257.3 1024.9 L2259.0 1022.9 L2260.8 1020.9 L2262.5 1018.9 L2264.3 1016.9 L2266.1 1014.9 L2267.8 1012.9 L2269.7 1010.9 L2271.5 1008.9 L2273.3 1006.9 L2275.2 1004.9 L2277.1 1002.9 L2279.0 1000.9 L2280.9 998.9 L2282.8 996.9 L2284.7 994.9 L2286.7 992.9 L2288.6 990.9 L2290.6 988.9 L2292.6 986.9 L2294.5 984.9 L2296.5 982.9 L2298.5 980.9 L2300.5 978.9 L2302.4 976.9 L2304.4 974.9 L2306.4 972.9 L2308.3 970.9 L2310.2 968.9 L2312.2 966.9 L2314.1 964.9 L2316.0 962.9 L2317.8 960.9 L2319.6 958.9 L2321.5 956.9 L2323.2 954.9 L2325.0 952.9 L2326.7 950.9 L2328.3 948.9 L2330.0 946.9 L2331.5 944.9 L2333.1 942.9 L2334.6 940.9 L2336.0 938.9 L2337.4 936.9 L2338.7 934.9 L2340.0 932.9 L2341.2 930.9 L2342.4 928.9 L2343.5 926.9 L2344.5 924.9 L2345.5 922.9 L2346.4 920.9 L2347.2 918.9 L2348.0 916.9 L2348.7 914.9 L2349.4 912.9 L2350.0 910.9 L2350.5 908.9 L2350.9 906.9 L2351.3 904.9 L2351.6 902.9 L2351.9 900.9 L2352.1 898.9 L2352.2 896.9 L2352.3 894.9 L2352.3 892.9 L2352.3 890.9 L2352.2 888.9 L2352.0 886.9 L2351.8 884.9 L2351.5 882.9 L2351.2 880.9 L2350.8 878.9 L2350.4 876.9 L2349.9 874.9 L2349.4 872.9 L2348.8 870.9 L2348.2 868.9 L2347.5 866.9 L2346.7 864.9 L2345.9 862.9 L2345.1 860.9 L2344.2 858.9 L2343.3 856.9 L2342.3 854.9 L2341.3 852.9 L2340.3 850.9 L2339.1 848.9 L2338.0 846.9 L2336.8 844.9 L2335.5 842.9 L2334.3 840.9 L2332.9 838.9 L2331.6 836.9 L2330.1 834.9 L2328.7 832.9 L2327.2 830.9 L2325.7 828.9 L2324.1 826.9 L2322.5 824.9 L2320.9 822.9 L2319.2 820.9 L2317.5 818.9 L2315.8 816.9 L2314.0 814.9 L2312.2 812.9 L2310.5 810.9 L2308.6 808.9 L2306.8 806.9 L2304.9 804.9 L2303.1 802.9 L2301.2 800.9 L2299.3 798.9 L2297.4 796.9 L2295.5 794.9 L2293.6 792.9 L2291.7 790.9 L2289.8 788.9 L2287.9 786.9 L2286.0 784.9 L2284.1 782.9 L2282.2 780.9 L2280.3 778.9 L2278.4 776.9 L2276.5 774.9 L2274.7 772.9 L2272.8 770.9 L2271.0 768.9 L2269.1 766.9 L2267.3 764.9 L2265.5 762.9 L2263.8 760.9 L2262.0 758.9 L2260.2 756.9 L2258.5 754.9 L2256.8 752.9 L2255.1 750.9 L2253.4 748.9 L2251.7 746.9 L2250.1 744.9 L2248.4 742.9 L2246.8 740.9 L2245.2 738.9 L2243.6 736.9 L2242.0 734.9 L2240.5 732.9 L2239.0 730.9 L2237.5 728.9 L2236.0 726.9 L2234.5 724.9 L2233.0 722.9 L2231.6 720.9 L2230.2 718.9 L2228.8 716.9 L2227.5 714.9 L2226.1 712.9 L2224.8 710.9 L2223.5 708.9 L2222.3 706.9 L2221.0 704.9 L2219.8 702.9 L2218.6 700.9 L2217.5 698.9 L2216.4 696.9 L2215.3 694.9 L2214.2 692.9 L2213.1 690.9 L2212.1 688.9 L2211.1 686.9 L2210.2 684.9 L2209.2 682.9 L2208.3 680.9 L2207.4 678.9 L2206.6 676.9 L2205.7 674.9 L2204.9 672.9 L2204.1 670.9 L2203.4 668.9 L2202.7 666.9 L2202.0 664.9 L2201.3 662.9 L2200.6 660.9 L2200.0 658.9 L2199.4 656.9 L2198.8 654.9 L2198.2 652.9 L2197.7 650.9 L2197.2 648.9 L2196.7 646.9 L2196.2 644.9 L2195.8 642.9 L2195.3 640.9 L2194.9 638.9 L2194.5 636.9 L2194.1 634.9 L2193.8 632.9 L2193.4 630.9 L2193.1 628.9 L2192.8 626.9 L2192.5 624.9 L2192.2 622.9 L2191.9 620.9 L2191.6 618.9 L2191.4 616.9 L2191.1 614.9 L2190.9 612.9 L2190.7 610.9 L2190.5 608.9 L2190.3 606.9 L2190.1 604.9 L2189.9 602.9 L2189.7 600.9 L2189.5 598.9 L2189.4 596.9 L2189.2 594.9 L2189.1 592.9 L2188.9 590.9 L2188.8 588.9 L2188.7 586.9 L2188.5 584.9 L2188.4 582.9 L2188.3 580.9 L2188.2 578.9 L2188.1 576.9 L2188.0 574.9 L2187.9 572.9 L2187.8 570.9 L2187.8 568.9 L2187.7 566.9 L2187.6 564.9 L2187.6 562.9 L2187.5 560.9 L2187.4 558.9 L2187.4 556.9 L2187.4 554.9 L2187.3 552.9 Z" fill="none" stroke="#D5D5E5" stroke-width="9.8" clip-path="url(#vc4)"/>
<line x1="2184.2" y1="699.4" x2="2184.2" y2="1000.7" stroke="#404040" stroke-width="4.7"/>
<rect x="2084.6" y="826.4" width="199.2" height="147.9" fill="#676799" stroke="#404040" stroke-width="4.8" stroke-linejoin="round"/>
<circle cx="2183.7" cy="916.6" r="6.5" fill="#fff" stroke="#333" stroke-width="1"/>
<line x1="2084.3" y1="890.9" x2="2285.0" y2="890.9" stroke="#000" stroke-width="6.0" stroke-linecap="round"/>
</g>
<g fill="#000">
<rect x="317.05" y="45.80" width="3.9" height="1144.12"/>
<rect x="297.00" y="1185.08" width="2097.40" height="4.85"/>
<rect x="297" y="1009.10" width="22" height="4.8"/>
<rect x="297" y="833.92" width="22" height="4.8"/>
<rect x="297" y="658.74" width="22" height="4.8"/>
<rect x="297" y="483.56" width="22" height="4.8"/>
<rect x="297" y="308.38" width="22" height="4.8"/>
<rect x="297" y="133.20" width="22" height="4.8"/>
<rect x="308" y="1096.64" width="11" height="4.9"/>
<rect x="308" y="921.46" width="11" height="4.9"/>
<rect x="308" y="746.28" width="11" height="4.9"/>
<rect x="308" y="571.10" width="11" height="4.9"/>
<rect x="308" y="395.92" width="11" height="4.9"/>
<rect x="308" y="220.74" width="11" height="4.9"/>
<rect x="308" y="45.85" width="11" height="4.9"/>
<rect x="524.25" y="1187.50" width="4.3" height="22.20"/>
<rect x="938.45" y="1187.50" width="4.3" height="22.20"/>
<rect x="1353.45" y="1187.50" width="4.3" height="22.20"/>
<rect x="1767.55" y="1187.50" width="4.3" height="22.20"/>
<rect x="2182.00" y="1187.50" width="4.3" height="22.20"/>
</g>
<text y="1216.7"><tspan x="125.0" dy="-8.5" stroke="#fff" stroke-width="3.2" textLength="47.8" lengthAdjust="spacingAndGlyphs">-</tspan><tspan x="165.5" dy="8.5" textLength="105.4" lengthAdjust="spacingAndGlyphs">200</tspan></text>
<text y="1041.5"><tspan x="246.1" textLength="34.8" lengthAdjust="spacingAndGlyphs">0</tspan></text>
<text y="866.3"><tspan x="169.8" textLength="104.4" lengthAdjust="spacingAndGlyphs">200</tspan></text>
<text y="691.1"><tspan x="169.8" textLength="104.4" lengthAdjust="spacingAndGlyphs">400</tspan></text>
<text y="516.0"><tspan x="169.8" textLength="104.4" lengthAdjust="spacingAndGlyphs">600</tspan></text>
<text y="340.8"><tspan x="169.8" textLength="104.4" lengthAdjust="spacingAndGlyphs">800</tspan></text>
<text y="165.6"><tspan x="131.7" textLength="139.2" lengthAdjust="spacingAndGlyphs">1000</tspan></text>
<text y="1289.0"><tspan x="165.5" textLength="175.0" lengthAdjust="spacingAndGlyphs">Model</tspan> <tspan x="374.3" textLength="70.6" lengthAdjust="spacing">of</tspan> <tspan x="478.7" textLength="140.2" lengthAdjust="spacing">this</tspan> <tspan x="652.7" textLength="175.0" lengthAdjust="spacingAndGlyphs">paper</tspan></text>
<text y="1289.0"><tspan x="885.0" textLength="105.4" lengthAdjust="spacingAndGlyphs">CNN</tspan></text>
<text y="1289.0"><tspan x="1298.5" textLength="105.4" lengthAdjust="spacingAndGlyphs">MLP</tspan></text>
<text y="1289.0"><tspan x="1695.5" textLength="140.2" lengthAdjust="spacingAndGlyphs">LSTM</tspan></text>
<text y="1289.0"><tspan x="2052.0" textLength="244.6" lengthAdjust="spacingAndGlyphs">Seq2Seq</tspan></text>
<g transform="translate(105.3 1129.5) rotate(-90)">
<text y="0.0"><tspan x="-0.5" textLength="279.4" lengthAdjust="spacingAndGlyphs">Absolute</tspan> <tspan x="312.7" textLength="175.0" lengthAdjust="spacing">value</tspan> <tspan x="521.5" textLength="70.6" lengthAdjust="spacing">of</tspan> <tspan x="625.9" textLength="175.0" lengthAdjust="spacing">error</tspan><tspan x="810.9" dy="-6.0" textLength="26.0" lengthAdjust="spacingAndGlyphs">(</tspan><tspan x="835.5" dy="6.0" textLength="70.5" lengthAdjust="spacingAndGlyphs">KW</tspan><tspan x="905.3" dy="-6.0" textLength="26.0" lengthAdjust="spacingAndGlyphs">)</tspan></text>
</g>
<rect x="1444.7" y="39.6" width="147" height="71.7" fill="#EE0000" stroke="#404040" stroke-width="4.6" stroke-linejoin="round"/>
<g stroke="#404040" stroke-width="4.4" stroke-linecap="round"><line x1="1495.5" y1="124.3" x2="1541" y2="124.3"/><line x1="1495.5" y1="193.5" x2="1541" y2="193.5"/><line x1="1518.5" y1="124.3" x2="1518.5" y2="193.5" stroke-width="4.7"/></g>
<circle cx="1517.9" cy="241" r="6.3" fill="#fff" stroke="#333" stroke-width="1"/>
<text y="101.7"><tspan x="1632.5" textLength="105.4" lengthAdjust="spacingAndGlyphs">25%</tspan><tspan x="1736.9" dy="-27.0" textLength="35.8" lengthAdjust="spacingAndGlyphs">~</tspan><tspan x="1771.7" dy="27.0" textLength="105.4" lengthAdjust="spacingAndGlyphs">75%</tspan></text>
<text y="185.2"><tspan x="1632.5" textLength="175.0" lengthAdjust="spacingAndGlyphs">Range</tspan> <tspan x="1841.3" textLength="209.8" lengthAdjust="spacing">within</tspan> <tspan x="2084.9" textLength="105.4" lengthAdjust="spacing">1.5</tspan><tspan x="2189.3" textLength="105.4" lengthAdjust="spacingAndGlyphs">IQR</tspan></text>
<text y="268.0"><tspan x="1632.5" textLength="209.8" lengthAdjust="spacingAndGlyphs">Median</tspan></text>
</svg></body></html>
